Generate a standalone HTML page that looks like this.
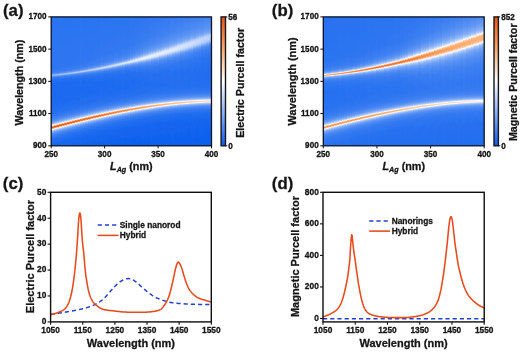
<!DOCTYPE html>
<html><head><meta charset="utf-8"><title>Purcell factor figure</title>
<style>
html,body{margin:0;padding:0;background:#fff;}
svg{display:block;}
text{font-family:'Liberation Sans', sans-serif;font-weight:bold;fill:#141414;stroke:#141414;stroke-width:0.28px;}
</style></head><body>
<svg width="520" height="352" viewBox="0 0 520 352">
<rect width="520" height="352" fill="#ffffff"/>
<defs>
<filter id="soft" x="0" y="0" width="100%" height="100%" filterUnits="userSpaceOnUse"><feGaussianBlur stdDeviation="0.35"/></filter>
<linearGradient id="a0" x1="0" y1="0" x2="0" y2="1"><stop offset="0" stop-color="#2a73f0"/><stop offset="0.4034" stop-color="#2e76f1"/><stop offset="0.4267" stop-color="#367bf1"/><stop offset="0.4383" stop-color="#4786f2"/><stop offset="0.4422" stop-color="#548ef3"/><stop offset="0.4461" stop-color="#689cf5"/><stop offset="0.45" stop-color="#8ab2f7"/><stop offset="0.4538" stop-color="#99bcf8"/><stop offset="0.4616" stop-color="#5a93f4"/><stop offset="0.4655" stop-color="#4887f2"/><stop offset="0.4732" stop-color="#357af1"/><stop offset="0.4888" stop-color="#246ff0"/><stop offset="0.5275" stop-color="#1a69ef"/><stop offset="0.6866" stop-color="#1d6aef"/><stop offset="0.7564" stop-color="#2972f0"/><stop offset="0.7874" stop-color="#3b7ef1"/><stop offset="0.8068" stop-color="#558ff3"/><stop offset="0.8185" stop-color="#72a2f5"/><stop offset="0.8262" stop-color="#90b6f7"/><stop offset="0.8301" stop-color="#a4c3f9"/><stop offset="0.834" stop-color="#bed4fa"/><stop offset="0.8379" stop-color="#dee9fd"/><stop offset="0.8417" stop-color="#fff8f2"/><stop offset="0.8456" stop-color="#fdd2ad"/><stop offset="0.8495" stop-color="#f89c5f"/><stop offset="0.8534" stop-color="#eb6726"/><stop offset="0.8573" stop-color="#e65414"/><stop offset="0.8611" stop-color="#ec6727"/><stop offset="0.865" stop-color="#f89e60"/><stop offset="0.8689" stop-color="#fdd4af"/><stop offset="0.8728" stop-color="#fffaf6"/><stop offset="0.8766" stop-color="#dbe8fd"/><stop offset="0.8805" stop-color="#bad2fa"/><stop offset="0.8844" stop-color="#a1c1f8"/><stop offset="0.8922" stop-color="#7ba8f6"/><stop offset="0.9038" stop-color="#5891f3"/><stop offset="0.9193" stop-color="#3d80f2"/><stop offset="0.9465" stop-color="#2771f0"/><stop offset="0.9969" stop-color="#1767ef"/></linearGradient>
<linearGradient id="a1" x1="0" y1="0" x2="0" y2="1"><stop offset="0" stop-color="#2a73f0"/><stop offset="0.3995" stop-color="#2f76f1"/><stop offset="0.4228" stop-color="#367bf1"/><stop offset="0.4344" stop-color="#4585f2"/><stop offset="0.4383" stop-color="#508cf3"/><stop offset="0.4422" stop-color="#6097f4"/><stop offset="0.45" stop-color="#9cbef8"/><stop offset="0.4538" stop-color="#8eb5f7"/><stop offset="0.4577" stop-color="#6b9ef5"/><stop offset="0.4616" stop-color="#538ef3"/><stop offset="0.4694" stop-color="#3a7ef1"/><stop offset="0.481" stop-color="#2a73f0"/><stop offset="0.5081" stop-color="#1d6bef"/><stop offset="0.6129" stop-color="#1968ef"/><stop offset="0.7292" stop-color="#236ef0"/><stop offset="0.7719" stop-color="#3379f1"/><stop offset="0.7952" stop-color="#4b88f2"/><stop offset="0.8068" stop-color="#6197f4"/><stop offset="0.8185" stop-color="#85aff7"/><stop offset="0.8262" stop-color="#adc9f9"/><stop offset="0.8301" stop-color="#c9dcfb"/><stop offset="0.834" stop-color="#edf3fe"/><stop offset="0.8379" stop-color="#feebda"/><stop offset="0.8417" stop-color="#fbbf8e"/><stop offset="0.8456" stop-color="#f48646"/><stop offset="0.8495" stop-color="#e75919"/><stop offset="0.8534" stop-color="#e65514"/><stop offset="0.8573" stop-color="#f27c3b"/><stop offset="0.8611" stop-color="#fbb680"/><stop offset="0.865" stop-color="#fee5cf"/><stop offset="0.8689" stop-color="#f3f7fe"/><stop offset="0.8728" stop-color="#ccdefb"/><stop offset="0.8766" stop-color="#afcaf9"/><stop offset="0.8844" stop-color="#84aef6"/><stop offset="0.896" stop-color="#5d95f4"/><stop offset="0.9116" stop-color="#4082f2"/><stop offset="0.9348" stop-color="#2a73f0"/><stop offset="0.9814" stop-color="#1968ef"/><stop offset="0.9969" stop-color="#1666ef"/></linearGradient>
<linearGradient id="a2" x1="0" y1="0" x2="0" y2="1"><stop offset="0" stop-color="#2a73f0"/><stop offset="0.3995" stop-color="#2f76f1"/><stop offset="0.4228" stop-color="#377cf1"/><stop offset="0.4344" stop-color="#4988f2"/><stop offset="0.4383" stop-color="#5790f3"/><stop offset="0.4422" stop-color="#6d9ff5"/><stop offset="0.4461" stop-color="#91b7f7"/><stop offset="0.45" stop-color="#9dbff8"/><stop offset="0.4538" stop-color="#79a7f6"/><stop offset="0.4577" stop-color="#5b93f4"/><stop offset="0.4616" stop-color="#4987f2"/><stop offset="0.4694" stop-color="#357af1"/><stop offset="0.4849" stop-color="#2570f0"/><stop offset="0.5237" stop-color="#1b69ef"/><stop offset="0.6788" stop-color="#1d6aef"/><stop offset="0.7486" stop-color="#2a73f0"/><stop offset="0.7797" stop-color="#3e80f2"/><stop offset="0.7952" stop-color="#538ef3"/><stop offset="0.8068" stop-color="#6fa0f5"/><stop offset="0.8146" stop-color="#8bb3f7"/><stop offset="0.8223" stop-color="#b7cffa"/><stop offset="0.8262" stop-color="#d5e4fc"/><stop offset="0.8301" stop-color="#fdfeff"/><stop offset="0.834" stop-color="#fdddbf"/><stop offset="0.8379" stop-color="#faaa6e"/><stop offset="0.8417" stop-color="#ef7232"/><stop offset="0.8456" stop-color="#e65414"/><stop offset="0.8495" stop-color="#ea6121"/><stop offset="0.8534" stop-color="#f69455"/><stop offset="0.8573" stop-color="#fccba2"/><stop offset="0.8611" stop-color="#fef4eb"/><stop offset="0.865" stop-color="#e2ecfd"/><stop offset="0.8689" stop-color="#bfd5fb"/><stop offset="0.8728" stop-color="#a4c3f9"/><stop offset="0.8805" stop-color="#7eaaf6"/><stop offset="0.8922" stop-color="#5992f4"/><stop offset="0.9077" stop-color="#3e80f2"/><stop offset="0.9348" stop-color="#2771f0"/><stop offset="0.9891" stop-color="#1766ef"/><stop offset="0.9969" stop-color="#1666ef"/></linearGradient>
<linearGradient id="a3" x1="0" y1="0" x2="0" y2="1"><stop offset="0" stop-color="#2a73f0"/><stop offset="0.3879" stop-color="#2f76f1"/><stop offset="0.4151" stop-color="#367bf1"/><stop offset="0.4267" stop-color="#4283f2"/><stop offset="0.4344" stop-color="#5590f3"/><stop offset="0.4383" stop-color="#689cf5"/><stop offset="0.4461" stop-color="#a3c3f9"/><stop offset="0.45" stop-color="#90b6f7"/><stop offset="0.4538" stop-color="#6c9ff5"/><stop offset="0.4577" stop-color="#558ff3"/><stop offset="0.4655" stop-color="#3c7ff1"/><stop offset="0.4771" stop-color="#2b74f0"/><stop offset="0.5043" stop-color="#1e6bef"/><stop offset="0.6012" stop-color="#1a68ef"/><stop offset="0.7176" stop-color="#236ef0"/><stop offset="0.7603" stop-color="#3379f1"/><stop offset="0.7836" stop-color="#4987f2"/><stop offset="0.7991" stop-color="#689cf4"/><stop offset="0.8068" stop-color="#81acf6"/><stop offset="0.8146" stop-color="#a7c5f9"/><stop offset="0.8185" stop-color="#c1d6fb"/><stop offset="0.8223" stop-color="#e3ecfd"/><stop offset="0.8262" stop-color="#fef4eb"/><stop offset="0.8301" stop-color="#fccca3"/><stop offset="0.834" stop-color="#f69557"/><stop offset="0.8379" stop-color="#ea6323"/><stop offset="0.8417" stop-color="#e65414"/><stop offset="0.8456" stop-color="#ef7332"/><stop offset="0.8495" stop-color="#faab6f"/><stop offset="0.8534" stop-color="#fddec1"/><stop offset="0.8573" stop-color="#fbfdff"/><stop offset="0.8611" stop-color="#d3e2fc"/><stop offset="0.865" stop-color="#b4cdfa"/><stop offset="0.8728" stop-color="#88b0f7"/><stop offset="0.8805" stop-color="#6a9df5"/><stop offset="0.8922" stop-color="#4e8bf3"/><stop offset="0.9116" stop-color="#3479f1"/><stop offset="0.9465" stop-color="#206cef"/><stop offset="0.9969" stop-color="#1565ef"/></linearGradient>
<linearGradient id="a4" x1="0" y1="0" x2="0" y2="1"><stop offset="0" stop-color="#2a73f0"/><stop offset="0.3879" stop-color="#2f76f1"/><stop offset="0.4151" stop-color="#377cf1"/><stop offset="0.4267" stop-color="#4686f2"/><stop offset="0.4306" stop-color="#508cf3"/><stop offset="0.4344" stop-color="#6096f4"/><stop offset="0.4383" stop-color="#7aa8f6"/><stop offset="0.4422" stop-color="#9ebff8"/><stop offset="0.4461" stop-color="#9fc0f8"/><stop offset="0.45" stop-color="#7aa7f6"/><stop offset="0.4538" stop-color="#5d95f4"/><stop offset="0.4577" stop-color="#4b89f3"/><stop offset="0.4655" stop-color="#377cf1"/><stop offset="0.481" stop-color="#2670f0"/><stop offset="0.5198" stop-color="#1b69ef"/><stop offset="0.6672" stop-color="#1d6aef"/><stop offset="0.737" stop-color="#2a73f0"/><stop offset="0.768" stop-color="#3d7ff2"/><stop offset="0.7836" stop-color="#518df3"/><stop offset="0.7952" stop-color="#6b9ef5"/><stop offset="0.8029" stop-color="#86b0f7"/><stop offset="0.8107" stop-color="#afcaf9"/><stop offset="0.8146" stop-color="#ccddfb"/><stop offset="0.8185" stop-color="#f1f6fe"/><stop offset="0.8223" stop-color="#fee8d4"/><stop offset="0.8262" stop-color="#fbba87"/><stop offset="0.8301" stop-color="#f38141"/><stop offset="0.834" stop-color="#e75919"/><stop offset="0.8379" stop-color="#e85c1c"/><stop offset="0.8417" stop-color="#f48748"/><stop offset="0.8456" stop-color="#fbc091"/><stop offset="0.8495" stop-color="#feeddd"/><stop offset="0.8534" stop-color="#eaf1fe"/><stop offset="0.8573" stop-color="#c6d9fb"/><stop offset="0.8611" stop-color="#a9c7f9"/><stop offset="0.8689" stop-color="#81acf6"/><stop offset="0.8805" stop-color="#5b93f4"/><stop offset="0.896" stop-color="#3f81f2"/><stop offset="0.9193" stop-color="#2a73f0"/><stop offset="0.9659" stop-color="#1968ef"/><stop offset="0.9969" stop-color="#1465ef"/></linearGradient>
<linearGradient id="a5" x1="0" y1="0" x2="0" y2="1"><stop offset="0" stop-color="#2a73f0"/><stop offset="0.384" stop-color="#2f76f1"/><stop offset="0.4112" stop-color="#377cf1"/><stop offset="0.4228" stop-color="#4484f2"/><stop offset="0.4306" stop-color="#5a93f4"/><stop offset="0.4344" stop-color="#71a1f5"/><stop offset="0.4383" stop-color="#94b8f8"/><stop offset="0.4422" stop-color="#a9c6f9"/><stop offset="0.45" stop-color="#679bf4"/><stop offset="0.4538" stop-color="#528df3"/><stop offset="0.4616" stop-color="#3b7ef1"/><stop offset="0.4771" stop-color="#2771f0"/><stop offset="0.512" stop-color="#1c6aef"/><stop offset="0.6478" stop-color="#1c6aef"/><stop offset="0.7254" stop-color="#2771f0"/><stop offset="0.7603" stop-color="#3a7ef1"/><stop offset="0.7797" stop-color="#538ef3"/><stop offset="0.7913" stop-color="#6fa0f5"/><stop offset="0.7991" stop-color="#8cb3f7"/><stop offset="0.8068" stop-color="#b8d0fa"/><stop offset="0.8107" stop-color="#d7e5fc"/><stop offset="0.8146" stop-color="#fffefe"/><stop offset="0.8185" stop-color="#fddbbb"/><stop offset="0.8223" stop-color="#faa76b"/><stop offset="0.8262" stop-color="#ee7130"/><stop offset="0.8301" stop-color="#e65515"/><stop offset="0.834" stop-color="#ec6929"/><stop offset="0.8379" stop-color="#f89d60"/><stop offset="0.8417" stop-color="#fdd4af"/><stop offset="0.8456" stop-color="#fffaf5"/><stop offset="0.8495" stop-color="#dbe7fd"/><stop offset="0.8534" stop-color="#bad2fa"/><stop offset="0.8573" stop-color="#a0c1f8"/><stop offset="0.865" stop-color="#7ba8f6"/><stop offset="0.8766" stop-color="#5891f3"/><stop offset="0.8922" stop-color="#3d80f2"/><stop offset="0.9193" stop-color="#2771f0"/><stop offset="0.9736" stop-color="#1766ef"/><stop offset="0.9969" stop-color="#1364ef"/></linearGradient>
<linearGradient id="a6" x1="0" y1="0" x2="0" y2="1"><stop offset="0" stop-color="#2a73f0"/><stop offset="0.3724" stop-color="#2f76f1"/><stop offset="0.4073" stop-color="#397df1"/><stop offset="0.4189" stop-color="#4685f2"/><stop offset="0.4267" stop-color="#5a93f4"/><stop offset="0.4306" stop-color="#6d9ff5"/><stop offset="0.4383" stop-color="#abc8f9"/><stop offset="0.4422" stop-color="#9cbef8"/><stop offset="0.4461" stop-color="#77a6f6"/><stop offset="0.45" stop-color="#5d95f4"/><stop offset="0.4538" stop-color="#4d8af3"/><stop offset="0.4616" stop-color="#397df1"/><stop offset="0.4771" stop-color="#2771f0"/><stop offset="0.512" stop-color="#1c6aef"/><stop offset="0.6439" stop-color="#1c6aef"/><stop offset="0.7215" stop-color="#2872f0"/><stop offset="0.7525" stop-color="#387cf1"/><stop offset="0.7719" stop-color="#4f8bf3"/><stop offset="0.7836" stop-color="#689bf4"/><stop offset="0.7913" stop-color="#81acf6"/><stop offset="0.7991" stop-color="#a7c5f9"/><stop offset="0.8029" stop-color="#c1d6fb"/><stop offset="0.8068" stop-color="#e3edfd"/><stop offset="0.8107" stop-color="#fef4ea"/><stop offset="0.8146" stop-color="#fccba2"/><stop offset="0.8185" stop-color="#f69456"/><stop offset="0.8223" stop-color="#eb6424"/><stop offset="0.8262" stop-color="#e75818"/><stop offset="0.8301" stop-color="#f17a39"/><stop offset="0.834" stop-color="#fbb27b"/><stop offset="0.8379" stop-color="#fee3cb"/><stop offset="0.8417" stop-color="#f5f9fe"/><stop offset="0.8456" stop-color="#cedffc"/><stop offset="0.8495" stop-color="#b0cbf9"/><stop offset="0.8573" stop-color="#85aff7"/><stop offset="0.8689" stop-color="#5d95f4"/><stop offset="0.8844" stop-color="#4082f2"/><stop offset="0.9077" stop-color="#2a73f0"/><stop offset="0.9542" stop-color="#1968ef"/><stop offset="0.9969" stop-color="#1364ef"/></linearGradient>
<linearGradient id="a7" x1="0" y1="0" x2="0" y2="1"><stop offset="0" stop-color="#2a73f0"/><stop offset="0.3763" stop-color="#2f77f1"/><stop offset="0.4073" stop-color="#397df1"/><stop offset="0.4189" stop-color="#4988f2"/><stop offset="0.4228" stop-color="#548ef3"/><stop offset="0.4267" stop-color="#6499f4"/><stop offset="0.4306" stop-color="#80acf6"/><stop offset="0.4344" stop-color="#a6c4f9"/><stop offset="0.4383" stop-color="#a7c5f9"/><stop offset="0.4422" stop-color="#81acf6"/><stop offset="0.4461" stop-color="#6298f4"/><stop offset="0.45" stop-color="#4f8bf3"/><stop offset="0.4577" stop-color="#3a7df1"/><stop offset="0.4732" stop-color="#2771f0"/><stop offset="0.5081" stop-color="#1c6aef"/><stop offset="0.64" stop-color="#1c6aef"/><stop offset="0.7176" stop-color="#2872f0"/><stop offset="0.7486" stop-color="#397df1"/><stop offset="0.768" stop-color="#518cf3"/><stop offset="0.7797" stop-color="#6b9ef5"/><stop offset="0.7874" stop-color="#86aff7"/><stop offset="0.7952" stop-color="#aecaf9"/><stop offset="0.7991" stop-color="#cbddfb"/><stop offset="0.8029" stop-color="#f0f5fe"/><stop offset="0.8068" stop-color="#fee9d5"/><stop offset="0.8107" stop-color="#fbbb88"/><stop offset="0.8146" stop-color="#f38342"/><stop offset="0.8185" stop-color="#e85c1c"/><stop offset="0.8223" stop-color="#ea6020"/><stop offset="0.8262" stop-color="#f58d4e"/><stop offset="0.8301" stop-color="#fcc598"/><stop offset="0.834" stop-color="#fef0e3"/><stop offset="0.8379" stop-color="#e6effd"/><stop offset="0.8417" stop-color="#c2d7fb"/><stop offset="0.8456" stop-color="#a7c5f9"/><stop offset="0.8534" stop-color="#7fabf6"/><stop offset="0.865" stop-color="#5a93f4"/><stop offset="0.8805" stop-color="#3e80f2"/><stop offset="0.9038" stop-color="#2973f0"/><stop offset="0.9503" stop-color="#1968ef"/><stop offset="0.9969" stop-color="#1264ef"/></linearGradient>
<linearGradient id="a8" x1="0" y1="0" x2="0" y2="1"><stop offset="0" stop-color="#2a73f0"/><stop offset="0.3646" stop-color="#2f77f1"/><stop offset="0.3995" stop-color="#387cf1"/><stop offset="0.4112" stop-color="#4384f2"/><stop offset="0.4189" stop-color="#548ff3"/><stop offset="0.4228" stop-color="#6499f4"/><stop offset="0.4267" stop-color="#7da9f6"/><stop offset="0.4306" stop-color="#a1c1f8"/><stop offset="0.4344" stop-color="#b0cbfa"/><stop offset="0.4422" stop-color="#6ea0f5"/><stop offset="0.4461" stop-color="#5891f3"/><stop offset="0.4538" stop-color="#3f81f2"/><stop offset="0.4655" stop-color="#2d75f0"/><stop offset="0.4926" stop-color="#1f6cef"/><stop offset="0.5818" stop-color="#1a69ef"/><stop offset="0.6943" stop-color="#236ff0"/><stop offset="0.737" stop-color="#347af1"/><stop offset="0.7603" stop-color="#4c89f3"/><stop offset="0.7719" stop-color="#6399f4"/><stop offset="0.7797" stop-color="#7ba8f6"/><stop offset="0.7874" stop-color="#9ebff8"/><stop offset="0.7913" stop-color="#b6cffa"/><stop offset="0.7952" stop-color="#d5e3fc"/><stop offset="0.7991" stop-color="#fdfeff"/><stop offset="0.8029" stop-color="#fdddbf"/><stop offset="0.8068" stop-color="#faaa6e"/><stop offset="0.8107" stop-color="#ef7433"/><stop offset="0.8146" stop-color="#e85919"/><stop offset="0.8185" stop-color="#ed6d2c"/><stop offset="0.8223" stop-color="#f8a164"/><stop offset="0.8262" stop-color="#fdd6b3"/><stop offset="0.8301" stop-color="#fffcf9"/><stop offset="0.834" stop-color="#d9e6fc"/><stop offset="0.8379" stop-color="#b8d0fa"/><stop offset="0.8417" stop-color="#9ec0f8"/><stop offset="0.8495" stop-color="#79a7f6"/><stop offset="0.8611" stop-color="#5790f3"/><stop offset="0.8766" stop-color="#3d7ff2"/><stop offset="0.9038" stop-color="#2671f0"/><stop offset="0.9581" stop-color="#1666ef"/><stop offset="0.9969" stop-color="#1263ef"/></linearGradient>
<linearGradient id="a9" x1="0" y1="0" x2="0" y2="1"><stop offset="0" stop-color="#2a73f0"/><stop offset="0.3607" stop-color="#3077f1"/><stop offset="0.3957" stop-color="#387cf1"/><stop offset="0.4073" stop-color="#4384f2"/><stop offset="0.4151" stop-color="#538ef3"/><stop offset="0.4189" stop-color="#6197f4"/><stop offset="0.4228" stop-color="#78a6f6"/><stop offset="0.4267" stop-color="#9abdf8"/><stop offset="0.4306" stop-color="#b4cefa"/><stop offset="0.4344" stop-color="#9ebff8"/><stop offset="0.4383" stop-color="#78a7f6"/><stop offset="0.4422" stop-color="#5f96f4"/><stop offset="0.4461" stop-color="#4e8bf3"/><stop offset="0.4538" stop-color="#3a7ef1"/><stop offset="0.4694" stop-color="#2872f0"/><stop offset="0.5043" stop-color="#1d6aef"/><stop offset="0.6323" stop-color="#1c6aef"/><stop offset="0.706" stop-color="#2871f0"/><stop offset="0.7409" stop-color="#3b7ef1"/><stop offset="0.7603" stop-color="#558ff3"/><stop offset="0.7719" stop-color="#71a2f5"/><stop offset="0.7797" stop-color="#90b6f7"/><stop offset="0.7836" stop-color="#a4c3f9"/><stop offset="0.7874" stop-color="#bed4fa"/><stop offset="0.7913" stop-color="#dfeafd"/><stop offset="0.7952" stop-color="#fff7f0"/><stop offset="0.7991" stop-color="#fdd0a9"/><stop offset="0.8029" stop-color="#f79a5c"/><stop offset="0.8068" stop-color="#ec6928"/><stop offset="0.8107" stop-color="#e85b1b"/><stop offset="0.8146" stop-color="#f27b3a"/><stop offset="0.8185" stop-color="#fbb37c"/><stop offset="0.8223" stop-color="#fee4cc"/><stop offset="0.8262" stop-color="#f4f8fe"/><stop offset="0.8301" stop-color="#cddefc"/><stop offset="0.834" stop-color="#afcaf9"/><stop offset="0.8417" stop-color="#84aef6"/><stop offset="0.8534" stop-color="#5d94f4"/><stop offset="0.8689" stop-color="#4081f2"/><stop offset="0.8922" stop-color="#2a73f0"/><stop offset="0.9387" stop-color="#1968ef"/><stop offset="0.9969" stop-color="#1263ef"/></linearGradient>
<linearGradient id="a10" x1="0" y1="0" x2="0" y2="1"><stop offset="0" stop-color="#2a73f0"/><stop offset="0.3607" stop-color="#3077f1"/><stop offset="0.3957" stop-color="#3a7df1"/><stop offset="0.4073" stop-color="#4786f2"/><stop offset="0.4151" stop-color="#5d94f4"/><stop offset="0.4189" stop-color="#71a2f5"/><stop offset="0.4267" stop-color="#b5cefa"/><stop offset="0.4306" stop-color="#a8c6f9"/><stop offset="0.4344" stop-color="#7fabf6"/><stop offset="0.4383" stop-color="#6398f4"/><stop offset="0.4422" stop-color="#508cf3"/><stop offset="0.45" stop-color="#3b7ef1"/><stop offset="0.4655" stop-color="#2872f0"/><stop offset="0.5004" stop-color="#1d6aef"/><stop offset="0.6284" stop-color="#1c6aef"/><stop offset="0.7021" stop-color="#2872f0"/><stop offset="0.7331" stop-color="#387cf1"/><stop offset="0.7525" stop-color="#508cf3"/><stop offset="0.7642" stop-color="#699cf5"/><stop offset="0.7719" stop-color="#83aef6"/><stop offset="0.7797" stop-color="#aac7f9"/><stop offset="0.7836" stop-color="#c6dafb"/><stop offset="0.7874" stop-color="#eaf1fe"/><stop offset="0.7913" stop-color="#feeede"/><stop offset="0.7952" stop-color="#fcc293"/><stop offset="0.7991" stop-color="#f48b4b"/><stop offset="0.8029" stop-color="#ea6121"/><stop offset="0.8068" stop-color="#ea6222"/><stop offset="0.8107" stop-color="#f58c4d"/><stop offset="0.8146" stop-color="#fcc496"/><stop offset="0.8185" stop-color="#fef0e2"/><stop offset="0.8223" stop-color="#e7effd"/><stop offset="0.8262" stop-color="#c3d7fb"/><stop offset="0.8301" stop-color="#a7c5f9"/><stop offset="0.8379" stop-color="#7fabf6"/><stop offset="0.8495" stop-color="#5a92f4"/><stop offset="0.865" stop-color="#3e80f2"/><stop offset="0.8883" stop-color="#2973f0"/><stop offset="0.9348" stop-color="#1968ef"/><stop offset="0.9969" stop-color="#1163ef"/></linearGradient>
<linearGradient id="a11" x1="0" y1="0" x2="0" y2="1"><stop offset="0" stop-color="#2a73f0"/><stop offset="0.3491" stop-color="#3077f1"/><stop offset="0.3879" stop-color="#3a7df1"/><stop offset="0.4034" stop-color="#4b88f2"/><stop offset="0.4112" stop-color="#6096f4"/><stop offset="0.4151" stop-color="#73a3f5"/><stop offset="0.4228" stop-color="#b4cefa"/><stop offset="0.4267" stop-color="#b2cdfa"/><stop offset="0.4306" stop-color="#8eb5f7"/><stop offset="0.4344" stop-color="#6ea0f5"/><stop offset="0.4383" stop-color="#5992f4"/><stop offset="0.4461" stop-color="#4182f2"/><stop offset="0.4577" stop-color="#2f76f1"/><stop offset="0.481" stop-color="#216df0"/><stop offset="0.5508" stop-color="#1a69ef"/><stop offset="0.6711" stop-color="#226ef0"/><stop offset="0.7176" stop-color="#3178f1"/><stop offset="0.7409" stop-color="#4585f2"/><stop offset="0.7564" stop-color="#6197f4"/><stop offset="0.768" stop-color="#87b0f7"/><stop offset="0.7758" stop-color="#b1ccfa"/><stop offset="0.7797" stop-color="#cedffc"/><stop offset="0.7836" stop-color="#f5f8fe"/><stop offset="0.7874" stop-color="#fee4cc"/><stop offset="0.7913" stop-color="#fbb47d"/><stop offset="0.7952" stop-color="#f27d3c"/><stop offset="0.7991" stop-color="#e95e1e"/><stop offset="0.8029" stop-color="#ed6c2b"/><stop offset="0.8068" stop-color="#f89d60"/><stop offset="0.8107" stop-color="#fdd3ae"/><stop offset="0.8146" stop-color="#fffaf5"/><stop offset="0.8185" stop-color="#dbe7fc"/><stop offset="0.8223" stop-color="#b9d1fa"/><stop offset="0.8262" stop-color="#9fc0f8"/><stop offset="0.834" stop-color="#7aa8f6"/><stop offset="0.8456" stop-color="#5791f3"/><stop offset="0.8611" stop-color="#3d7ff2"/><stop offset="0.8883" stop-color="#2671f0"/><stop offset="0.9426" stop-color="#1666ef"/><stop offset="0.9969" stop-color="#1163ee"/></linearGradient>
<linearGradient id="a12" x1="0" y1="0" x2="0" y2="1"><stop offset="0" stop-color="#2a73f0"/><stop offset="0.3491" stop-color="#3077f1"/><stop offset="0.384" stop-color="#387cf1"/><stop offset="0.3995" stop-color="#4887f2"/><stop offset="0.4073" stop-color="#5c94f4"/><stop offset="0.4112" stop-color="#6ea0f5"/><stop offset="0.4151" stop-color="#8bb3f7"/><stop offset="0.4189" stop-color="#b1ccfa"/><stop offset="0.4228" stop-color="#b9d1fa"/><stop offset="0.4306" stop-color="#71a2f5"/><stop offset="0.4344" stop-color="#5b93f4"/><stop offset="0.4422" stop-color="#4182f2"/><stop offset="0.4538" stop-color="#2f76f1"/><stop offset="0.4771" stop-color="#216df0"/><stop offset="0.5469" stop-color="#1a69ef"/><stop offset="0.6672" stop-color="#226ef0"/><stop offset="0.7137" stop-color="#3178f1"/><stop offset="0.737" stop-color="#4786f2"/><stop offset="0.7525" stop-color="#6499f4"/><stop offset="0.7603" stop-color="#7ca9f6"/><stop offset="0.768" stop-color="#9fc0f8"/><stop offset="0.7719" stop-color="#b7d0fa"/><stop offset="0.7758" stop-color="#d7e5fc"/><stop offset="0.7797" stop-color="#fffefd"/><stop offset="0.7836" stop-color="#fddab9"/><stop offset="0.7874" stop-color="#f9a66a"/><stop offset="0.7913" stop-color="#ef7332"/><stop offset="0.7952" stop-color="#e95e1e"/><stop offset="0.7991" stop-color="#f07837"/><stop offset="0.8029" stop-color="#faad73"/><stop offset="0.8068" stop-color="#fde0c4"/><stop offset="0.8107" stop-color="#f9fbff"/><stop offset="0.8146" stop-color="#d0e0fc"/><stop offset="0.8185" stop-color="#b1ccfa"/><stop offset="0.8262" stop-color="#86aff7"/><stop offset="0.834" stop-color="#699cf5"/><stop offset="0.8456" stop-color="#4d8af3"/><stop offset="0.865" stop-color="#3379f1"/><stop offset="0.8999" stop-color="#1f6cef"/><stop offset="0.9775" stop-color="#1263ef"/><stop offset="0.9969" stop-color="#1162ee"/></linearGradient>
<linearGradient id="a13" x1="0" y1="0" x2="0" y2="1"><stop offset="0" stop-color="#2a73f0"/><stop offset="0.3413" stop-color="#3077f1"/><stop offset="0.3801" stop-color="#3a7df1"/><stop offset="0.3957" stop-color="#4a88f2"/><stop offset="0.4034" stop-color="#5e95f4"/><stop offset="0.4073" stop-color="#6fa0f5"/><stop offset="0.4112" stop-color="#8bb3f7"/><stop offset="0.4151" stop-color="#b0cbfa"/><stop offset="0.4189" stop-color="#bed4fb"/><stop offset="0.4267" stop-color="#7aa8f6"/><stop offset="0.4306" stop-color="#6197f4"/><stop offset="0.4383" stop-color="#4685f2"/><stop offset="0.45" stop-color="#3178f1"/><stop offset="0.4732" stop-color="#226ef0"/><stop offset="0.5392" stop-color="#1b69ef"/><stop offset="0.6594" stop-color="#216df0"/><stop offset="0.706" stop-color="#3077f1"/><stop offset="0.7292" stop-color="#4383f2"/><stop offset="0.7448" stop-color="#5c94f4"/><stop offset="0.7564" stop-color="#7fabf6"/><stop offset="0.7642" stop-color="#a4c3f9"/><stop offset="0.768" stop-color="#bed4fa"/><stop offset="0.7719" stop-color="#dfeafd"/><stop offset="0.7758" stop-color="#fff7ef"/><stop offset="0.7797" stop-color="#fccfa8"/><stop offset="0.7836" stop-color="#f7995b"/><stop offset="0.7874" stop-color="#ed6b2a"/><stop offset="0.7913" stop-color="#ea6221"/><stop offset="0.7952" stop-color="#f38545"/><stop offset="0.7991" stop-color="#fbbc8a"/><stop offset="0.8029" stop-color="#feead8"/><stop offset="0.8068" stop-color="#edf3fe"/><stop offset="0.8107" stop-color="#c7dafb"/><stop offset="0.8146" stop-color="#aac7f9"/><stop offset="0.8223" stop-color="#81acf6"/><stop offset="0.834" stop-color="#5b93f4"/><stop offset="0.8495" stop-color="#3f81f2"/><stop offset="0.8728" stop-color="#2973f0"/><stop offset="0.9193" stop-color="#1968ef"/><stop offset="0.9969" stop-color="#1062ee"/></linearGradient>
<linearGradient id="a14" x1="0" y1="0" x2="0" y2="1"><stop offset="0" stop-color="#2a73f0"/><stop offset="0.3297" stop-color="#3077f1"/><stop offset="0.3724" stop-color="#3a7df1"/><stop offset="0.3879" stop-color="#4786f2"/><stop offset="0.3957" stop-color="#5690f3"/><stop offset="0.3995" stop-color="#6197f4"/><stop offset="0.4034" stop-color="#73a3f5"/><stop offset="0.4073" stop-color="#8eb4f7"/><stop offset="0.4112" stop-color="#b1ccfa"/><stop offset="0.4151" stop-color="#c2d7fb"/><stop offset="0.4189" stop-color="#a8c6f9"/><stop offset="0.4228" stop-color="#84aef6"/><stop offset="0.4267" stop-color="#6a9df5"/><stop offset="0.4306" stop-color="#5891f3"/><stop offset="0.4383" stop-color="#4283f2"/><stop offset="0.4538" stop-color="#2d75f0"/><stop offset="0.4849" stop-color="#1f6cef"/><stop offset="0.5857" stop-color="#1c6aef"/><stop offset="0.6749" stop-color="#2670f0"/><stop offset="0.7099" stop-color="#357af1"/><stop offset="0.7292" stop-color="#4987f2"/><stop offset="0.7409" stop-color="#5e95f4"/><stop offset="0.7525" stop-color="#82adf6"/><stop offset="0.7603" stop-color="#a9c6f9"/><stop offset="0.7642" stop-color="#c4d8fb"/><stop offset="0.768" stop-color="#e8f0fd"/><stop offset="0.7719" stop-color="#feefe1"/><stop offset="0.7758" stop-color="#fcc496"/><stop offset="0.7797" stop-color="#f58d4e"/><stop offset="0.7836" stop-color="#eb6625"/><stop offset="0.7874" stop-color="#ec6827"/><stop offset="0.7913" stop-color="#f69354"/><stop offset="0.7952" stop-color="#fcc99f"/><stop offset="0.7991" stop-color="#fef3e9"/><stop offset="0.8029" stop-color="#e2ecfd"/><stop offset="0.8068" stop-color="#bfd5fb"/><stop offset="0.8107" stop-color="#a4c3f9"/><stop offset="0.8185" stop-color="#7da9f6"/><stop offset="0.8301" stop-color="#5892f3"/><stop offset="0.8456" stop-color="#3d80f2"/><stop offset="0.8728" stop-color="#2771f0"/><stop offset="0.9271" stop-color="#1666ef"/><stop offset="0.9969" stop-color="#1062ee"/></linearGradient>
<linearGradient id="a15" x1="0" y1="0" x2="0" y2="1"><stop offset="0" stop-color="#2a73f0"/><stop offset="0.3297" stop-color="#3077f1"/><stop offset="0.3724" stop-color="#3b7ef1"/><stop offset="0.3879" stop-color="#4b89f3"/><stop offset="0.3957" stop-color="#5f96f4"/><stop offset="0.3995" stop-color="#70a1f5"/><stop offset="0.4034" stop-color="#8ab2f7"/><stop offset="0.4073" stop-color="#afcaf9"/><stop offset="0.4112" stop-color="#c5d9fb"/><stop offset="0.4151" stop-color="#acc9f9"/><stop offset="0.4189" stop-color="#86aff7"/><stop offset="0.4228" stop-color="#6a9df5"/><stop offset="0.4267" stop-color="#5891f3"/><stop offset="0.4344" stop-color="#4182f2"/><stop offset="0.45" stop-color="#2c75f0"/><stop offset="0.481" stop-color="#1f6cef"/><stop offset="0.5818" stop-color="#1b69ef"/><stop offset="0.6711" stop-color="#2670f0"/><stop offset="0.706" stop-color="#367bf1"/><stop offset="0.7254" stop-color="#4a88f2"/><stop offset="0.737" stop-color="#6096f4"/><stop offset="0.7486" stop-color="#85aff7"/><stop offset="0.7564" stop-color="#aecaf9"/><stop offset="0.7603" stop-color="#cbddfb"/><stop offset="0.7642" stop-color="#f0f5fe"/><stop offset="0.768" stop-color="#fee8d3"/><stop offset="0.7719" stop-color="#fbb986"/><stop offset="0.7758" stop-color="#f38343"/><stop offset="0.7797" stop-color="#ea6323"/><stop offset="0.7836" stop-color="#ee702f"/><stop offset="0.7874" stop-color="#f8a063"/><stop offset="0.7913" stop-color="#fdd5b2"/><stop offset="0.7952" stop-color="#fffcf9"/><stop offset="0.7991" stop-color="#d8e6fc"/><stop offset="0.8029" stop-color="#b7d0fa"/><stop offset="0.8068" stop-color="#9ebff8"/><stop offset="0.8146" stop-color="#79a7f6"/><stop offset="0.8262" stop-color="#5690f3"/><stop offset="0.8417" stop-color="#3c7ff1"/><stop offset="0.8689" stop-color="#2670f0"/><stop offset="0.9232" stop-color="#1666ef"/><stop offset="0.9969" stop-color="#1062ee"/></linearGradient>
<linearGradient id="a16" x1="0" y1="0" x2="0" y2="1"><stop offset="0" stop-color="#2a73f0"/><stop offset="0.3181" stop-color="#3178f1"/><stop offset="0.3646" stop-color="#3c7ff1"/><stop offset="0.3801" stop-color="#4a88f2"/><stop offset="0.3879" stop-color="#5992f3"/><stop offset="0.3918" stop-color="#659af4"/><stop offset="0.3957" stop-color="#76a5f6"/><stop offset="0.3995" stop-color="#90b6f7"/><stop offset="0.4034" stop-color="#b3cdfa"/><stop offset="0.4073" stop-color="#c8dbfb"/><stop offset="0.4112" stop-color="#b5cefa"/><stop offset="0.4151" stop-color="#90b6f7"/><stop offset="0.4189" stop-color="#74a3f5"/><stop offset="0.4228" stop-color="#6096f4"/><stop offset="0.4306" stop-color="#4786f2"/><stop offset="0.4422" stop-color="#347af1"/><stop offset="0.4655" stop-color="#246ff0"/><stop offset="0.5275" stop-color="#1c6aef"/><stop offset="0.6439" stop-color="#216df0"/><stop offset="0.6905" stop-color="#2f76f1"/><stop offset="0.7137" stop-color="#4182f2"/><stop offset="0.7292" stop-color="#5992f3"/><stop offset="0.7409" stop-color="#79a7f6"/><stop offset="0.7486" stop-color="#9bbdf8"/><stop offset="0.7525" stop-color="#b3cdfa"/><stop offset="0.7564" stop-color="#d1e1fc"/><stop offset="0.7603" stop-color="#f9fbff"/><stop offset="0.7642" stop-color="#fde0c6"/><stop offset="0.768" stop-color="#faaf76"/><stop offset="0.7719" stop-color="#f17b3a"/><stop offset="0.7758" stop-color="#ea6323"/><stop offset="0.7797" stop-color="#f17938"/><stop offset="0.7836" stop-color="#faad72"/><stop offset="0.7874" stop-color="#fddfc3"/><stop offset="0.7913" stop-color="#f9fbff"/><stop offset="0.7952" stop-color="#d0e0fc"/><stop offset="0.7991" stop-color="#b1ccfa"/><stop offset="0.8068" stop-color="#85aff7"/><stop offset="0.8146" stop-color="#689cf5"/><stop offset="0.8262" stop-color="#4c8af3"/><stop offset="0.8456" stop-color="#3379f1"/><stop offset="0.8805" stop-color="#1f6cef"/><stop offset="0.9581" stop-color="#1263ef"/><stop offset="0.9969" stop-color="#1062ee"/></linearGradient>
<linearGradient id="a17" x1="0" y1="0" x2="0" y2="1"><stop offset="0" stop-color="#2a73f0"/><stop offset="0.3103" stop-color="#3177f1"/><stop offset="0.3569" stop-color="#3a7ef1"/><stop offset="0.3763" stop-color="#4b89f2"/><stop offset="0.384" stop-color="#5a93f4"/><stop offset="0.3879" stop-color="#669bf4"/><stop offset="0.3918" stop-color="#78a6f6"/><stop offset="0.3957" stop-color="#92b7f7"/><stop offset="0.3995" stop-color="#b4cefa"/><stop offset="0.4034" stop-color="#cbddfb"/><stop offset="0.4073" stop-color="#b9d1fa"/><stop offset="0.4112" stop-color="#94b9f8"/><stop offset="0.4151" stop-color="#76a5f6"/><stop offset="0.4189" stop-color="#6298f4"/><stop offset="0.4267" stop-color="#4987f2"/><stop offset="0.4383" stop-color="#357af1"/><stop offset="0.4616" stop-color="#246ff0"/><stop offset="0.5198" stop-color="#1c6aef"/><stop offset="0.64" stop-color="#216df0"/><stop offset="0.6866" stop-color="#2f76f1"/><stop offset="0.7099" stop-color="#4283f2"/><stop offset="0.7254" stop-color="#5a93f4"/><stop offset="0.737" stop-color="#7ba8f6"/><stop offset="0.7448" stop-color="#9ec0f8"/><stop offset="0.7486" stop-color="#b7d0fa"/><stop offset="0.7525" stop-color="#d7e5fc"/><stop offset="0.7564" stop-color="#fffefd"/><stop offset="0.7603" stop-color="#fdd9b8"/><stop offset="0.7642" stop-color="#f9a669"/><stop offset="0.768" stop-color="#f07534"/><stop offset="0.7719" stop-color="#eb6525"/><stop offset="0.7758" stop-color="#f38242"/><stop offset="0.7797" stop-color="#fbb884"/><stop offset="0.7836" stop-color="#fee7d3"/><stop offset="0.7874" stop-color="#f0f5fe"/><stop offset="0.7913" stop-color="#c9dbfb"/><stop offset="0.7952" stop-color="#abc8f9"/><stop offset="0.8029" stop-color="#81adf6"/><stop offset="0.8146" stop-color="#5b93f4"/><stop offset="0.8301" stop-color="#3f81f2"/><stop offset="0.8534" stop-color="#2973f0"/><stop offset="0.8999" stop-color="#1968ef"/><stop offset="0.9969" stop-color="#0f62ee"/></linearGradient>
<linearGradient id="a18" x1="0" y1="0" x2="0" y2="1"><stop offset="0" stop-color="#2a73f0"/><stop offset="0.3064" stop-color="#3178f1"/><stop offset="0.353" stop-color="#3b7ef1"/><stop offset="0.3724" stop-color="#4b89f3"/><stop offset="0.3801" stop-color="#5b93f4"/><stop offset="0.384" stop-color="#679bf4"/><stop offset="0.3879" stop-color="#79a7f6"/><stop offset="0.3918" stop-color="#93b8f8"/><stop offset="0.3957" stop-color="#b6cffa"/><stop offset="0.3995" stop-color="#cedffc"/><stop offset="0.4034" stop-color="#bbd3fa"/><stop offset="0.4073" stop-color="#96baf8"/><stop offset="0.4112" stop-color="#78a6f6"/><stop offset="0.4151" stop-color="#6399f4"/><stop offset="0.4228" stop-color="#4988f2"/><stop offset="0.4344" stop-color="#357af1"/><stop offset="0.4577" stop-color="#2570f0"/><stop offset="0.5159" stop-color="#1c6aef"/><stop offset="0.6323" stop-color="#216df0"/><stop offset="0.6827" stop-color="#2f77f1"/><stop offset="0.706" stop-color="#4283f2"/><stop offset="0.7215" stop-color="#5b93f4"/><stop offset="0.7331" stop-color="#7daaf6"/><stop offset="0.7409" stop-color="#a2c2f9"/><stop offset="0.7448" stop-color="#bbd2fa"/><stop offset="0.7486" stop-color="#dce8fd"/><stop offset="0.7525" stop-color="#fff9f4"/><stop offset="0.7564" stop-color="#fdd2ad"/><stop offset="0.7603" stop-color="#f89e60"/><stop offset="0.7642" stop-color="#ee702f"/><stop offset="0.768" stop-color="#ec6828"/><stop offset="0.7719" stop-color="#f58c4d"/><stop offset="0.7758" stop-color="#fcc294"/><stop offset="0.7797" stop-color="#feefe0"/><stop offset="0.7836" stop-color="#e7effd"/><stop offset="0.7874" stop-color="#c3d7fb"/><stop offset="0.7913" stop-color="#a6c5f9"/><stop offset="0.7991" stop-color="#7eaaf6"/><stop offset="0.8107" stop-color="#5992f3"/><stop offset="0.8262" stop-color="#3e80f2"/><stop offset="0.8534" stop-color="#2771f0"/><stop offset="0.9077" stop-color="#1666ef"/><stop offset="0.9969" stop-color="#0f61ee"/></linearGradient>
<linearGradient id="a19" x1="0" y1="0" x2="0" y2="1"><stop offset="0" stop-color="#2b73f0"/><stop offset="0.2948" stop-color="#3178f1"/><stop offset="0.3452" stop-color="#3c7ff1"/><stop offset="0.3646" stop-color="#4b89f3"/><stop offset="0.3763" stop-color="#6197f4"/><stop offset="0.3801" stop-color="#6ea0f5"/><stop offset="0.384" stop-color="#81acf6"/><stop offset="0.3879" stop-color="#9bbdf8"/><stop offset="0.3918" stop-color="#bcd3fa"/><stop offset="0.3957" stop-color="#d0e0fc"/><stop offset="0.3995" stop-color="#bfd5fb"/><stop offset="0.4073" stop-color="#7fabf6"/><stop offset="0.4112" stop-color="#6a9df5"/><stop offset="0.4189" stop-color="#4f8bf3"/><stop offset="0.4306" stop-color="#397df1"/><stop offset="0.4538" stop-color="#2771f0"/><stop offset="0.5081" stop-color="#1d6aef"/><stop offset="0.6245" stop-color="#206df0"/><stop offset="0.6749" stop-color="#2e75f0"/><stop offset="0.7021" stop-color="#4383f2"/><stop offset="0.7176" stop-color="#5c94f4"/><stop offset="0.7292" stop-color="#7fabf6"/><stop offset="0.737" stop-color="#a4c3f9"/><stop offset="0.7409" stop-color="#bed4fb"/><stop offset="0.7448" stop-color="#e0ebfd"/><stop offset="0.7486" stop-color="#fff5ed"/><stop offset="0.7525" stop-color="#fccda4"/><stop offset="0.7564" stop-color="#f7985a"/><stop offset="0.7603" stop-color="#ee6f2e"/><stop offset="0.7642" stop-color="#ee6e2e"/><stop offset="0.768" stop-color="#f79759"/><stop offset="0.7719" stop-color="#fccda4"/><stop offset="0.7758" stop-color="#fff6ee"/><stop offset="0.7797" stop-color="#dfeafd"/><stop offset="0.7836" stop-color="#bcd3fa"/><stop offset="0.7874" stop-color="#a1c1f8"/><stop offset="0.7952" stop-color="#7ba8f6"/><stop offset="0.8068" stop-color="#5791f3"/><stop offset="0.8223" stop-color="#3c7ff1"/><stop offset="0.8495" stop-color="#2671f0"/><stop offset="0.9038" stop-color="#1666ef"/><stop offset="0.9969" stop-color="#0f61ee"/></linearGradient>
<linearGradient id="a20" x1="0" y1="0" x2="0" y2="1"><stop offset="0" stop-color="#2b73f0"/><stop offset="0.2948" stop-color="#3178f1"/><stop offset="0.3452" stop-color="#3d7ff2"/><stop offset="0.3607" stop-color="#4a88f2"/><stop offset="0.3724" stop-color="#6096f4"/><stop offset="0.3763" stop-color="#6d9ff5"/><stop offset="0.3801" stop-color="#80abf6"/><stop offset="0.384" stop-color="#9bbdf8"/><stop offset="0.3879" stop-color="#bdd4fa"/><stop offset="0.3918" stop-color="#d1e1fc"/><stop offset="0.3957" stop-color="#bed4fb"/><stop offset="0.3995" stop-color="#9abdf8"/><stop offset="0.4034" stop-color="#7ca9f6"/><stop offset="0.4073" stop-color="#679bf4"/><stop offset="0.4151" stop-color="#4d8af3"/><stop offset="0.4267" stop-color="#387cf1"/><stop offset="0.45" stop-color="#2670f0"/><stop offset="0.5043" stop-color="#1c6aef"/><stop offset="0.6245" stop-color="#216df0"/><stop offset="0.6749" stop-color="#3077f1"/><stop offset="0.6982" stop-color="#4383f2"/><stop offset="0.7137" stop-color="#5d94f4"/><stop offset="0.7254" stop-color="#80abf6"/><stop offset="0.7331" stop-color="#a6c4f9"/><stop offset="0.737" stop-color="#c1d6fb"/><stop offset="0.7409" stop-color="#e4edfd"/><stop offset="0.7448" stop-color="#fef2e7"/><stop offset="0.7486" stop-color="#fcc89d"/><stop offset="0.7525" stop-color="#f69455"/><stop offset="0.7564" stop-color="#ee6f2e"/><stop offset="0.7603" stop-color="#f07534"/><stop offset="0.7642" stop-color="#f8a165"/><stop offset="0.768" stop-color="#fdd6b2"/><stop offset="0.7719" stop-color="#fffcfa"/><stop offset="0.7758" stop-color="#d7e5fc"/><stop offset="0.7797" stop-color="#b6cffa"/><stop offset="0.7836" stop-color="#9cbef8"/><stop offset="0.7913" stop-color="#78a6f6"/><stop offset="0.8029" stop-color="#558ff3"/><stop offset="0.8185" stop-color="#3b7ef1"/><stop offset="0.8456" stop-color="#2670f0"/><stop offset="0.8999" stop-color="#1666ef"/><stop offset="0.9969" stop-color="#0f61ee"/></linearGradient>
<linearGradient id="a21" x1="0" y1="0" x2="0" y2="1"><stop offset="0" stop-color="#2b73f0"/><stop offset="0.287" stop-color="#3278f1"/><stop offset="0.3375" stop-color="#3d80f2"/><stop offset="0.3569" stop-color="#4d8af3"/><stop offset="0.3685" stop-color="#659af4"/><stop offset="0.3724" stop-color="#73a3f5"/><stop offset="0.3763" stop-color="#87b0f7"/><stop offset="0.384" stop-color="#c3d8fb"/><stop offset="0.3879" stop-color="#d3e2fc"/><stop offset="0.3918" stop-color="#c0d5fb"/><stop offset="0.3957" stop-color="#9dbff8"/><stop offset="0.3995" stop-color="#80acf6"/><stop offset="0.4034" stop-color="#6b9ef5"/><stop offset="0.4112" stop-color="#508cf3"/><stop offset="0.4228" stop-color="#3a7ef1"/><stop offset="0.4461" stop-color="#2771f0"/><stop offset="0.4965" stop-color="#1d6bef"/><stop offset="0.6129" stop-color="#206cf0"/><stop offset="0.6672" stop-color="#2e75f0"/><stop offset="0.6943" stop-color="#4383f2"/><stop offset="0.7099" stop-color="#5d95f4"/><stop offset="0.7215" stop-color="#80acf6"/><stop offset="0.7292" stop-color="#a7c5f9"/><stop offset="0.7331" stop-color="#c3d7fb"/><stop offset="0.737" stop-color="#e7effd"/><stop offset="0.7409" stop-color="#fef0e2"/><stop offset="0.7448" stop-color="#fcc497"/><stop offset="0.7486" stop-color="#f59052"/><stop offset="0.7525" stop-color="#ee702f"/><stop offset="0.7564" stop-color="#f27b3a"/><stop offset="0.7603" stop-color="#faab6f"/><stop offset="0.7642" stop-color="#fdddbf"/><stop offset="0.768" stop-color="#fbfcff"/><stop offset="0.7719" stop-color="#d1e1fc"/><stop offset="0.7758" stop-color="#b1ccfa"/><stop offset="0.7797" stop-color="#98bcf8"/><stop offset="0.7874" stop-color="#75a4f5"/><stop offset="0.7991" stop-color="#538ef3"/><stop offset="0.8146" stop-color="#3a7ef1"/><stop offset="0.8417" stop-color="#2570f0"/><stop offset="0.8999" stop-color="#1566ef"/><stop offset="0.9969" stop-color="#0f61ee"/></linearGradient>
<linearGradient id="a22" x1="0" y1="0" x2="0" y2="1"><stop offset="0" stop-color="#2b74f0"/><stop offset="0.2754" stop-color="#3278f1"/><stop offset="0.3297" stop-color="#3d80f2"/><stop offset="0.3491" stop-color="#4c89f3"/><stop offset="0.3607" stop-color="#5f96f4"/><stop offset="0.3685" stop-color="#79a7f6"/><stop offset="0.3724" stop-color="#8eb5f7"/><stop offset="0.3801" stop-color="#c9dbfb"/><stop offset="0.384" stop-color="#d5e3fc"/><stop offset="0.3879" stop-color="#c0d6fb"/><stop offset="0.3957" stop-color="#83adf6"/><stop offset="0.3995" stop-color="#6ea0f5"/><stop offset="0.4073" stop-color="#538ef3"/><stop offset="0.4189" stop-color="#3c7ff2"/><stop offset="0.4383" stop-color="#2b74f0"/><stop offset="0.481" stop-color="#1f6cef"/><stop offset="0.5935" stop-color="#1f6cef"/><stop offset="0.6555" stop-color="#2a73f0"/><stop offset="0.6866" stop-color="#3f81f2"/><stop offset="0.7021" stop-color="#558ff3"/><stop offset="0.7137" stop-color="#73a3f5"/><stop offset="0.7215" stop-color="#92b8f7"/><stop offset="0.7254" stop-color="#a8c6f9"/><stop offset="0.7292" stop-color="#c4d8fb"/><stop offset="0.7331" stop-color="#e9f0fd"/><stop offset="0.737" stop-color="#feedde"/><stop offset="0.7409" stop-color="#fcc192"/><stop offset="0.7448" stop-color="#f58e4f"/><stop offset="0.7486" stop-color="#ef7231"/><stop offset="0.7525" stop-color="#f38242"/><stop offset="0.7564" stop-color="#fbb37c"/><stop offset="0.7603" stop-color="#fee3cb"/><stop offset="0.7642" stop-color="#f4f8fe"/><stop offset="0.768" stop-color="#cbddfb"/><stop offset="0.7719" stop-color="#adc9f9"/><stop offset="0.7797" stop-color="#82adf6"/><stop offset="0.7874" stop-color="#669af4"/><stop offset="0.7991" stop-color="#4a88f2"/><stop offset="0.8185" stop-color="#3278f1"/><stop offset="0.8534" stop-color="#1f6cef"/><stop offset="0.9348" stop-color="#1163ef"/><stop offset="0.9969" stop-color="#0f61ee"/></linearGradient>
<linearGradient id="a23" x1="0" y1="0" x2="0" y2="1"><stop offset="0" stop-color="#2b74f0"/><stop offset="0.2754" stop-color="#3278f1"/><stop offset="0.3258" stop-color="#3d7ff2"/><stop offset="0.3452" stop-color="#4b89f3"/><stop offset="0.3569" stop-color="#5f96f4"/><stop offset="0.3646" stop-color="#7aa8f6"/><stop offset="0.3685" stop-color="#90b6f7"/><stop offset="0.3763" stop-color="#ccdefb"/><stop offset="0.3801" stop-color="#d5e4fc"/><stop offset="0.384" stop-color="#bdd3fa"/><stop offset="0.3879" stop-color="#9abdf8"/><stop offset="0.3918" stop-color="#7fabf6"/><stop offset="0.3957" stop-color="#6b9df5"/><stop offset="0.4034" stop-color="#518cf3"/><stop offset="0.4151" stop-color="#3b7ef1"/><stop offset="0.4383" stop-color="#2872f0"/><stop offset="0.4888" stop-color="#1d6bef"/><stop offset="0.6051" stop-color="#206cf0"/><stop offset="0.6594" stop-color="#2e75f0"/><stop offset="0.6866" stop-color="#4383f2"/><stop offset="0.7021" stop-color="#5d95f4"/><stop offset="0.7137" stop-color="#81acf6"/><stop offset="0.7215" stop-color="#a9c6f9"/><stop offset="0.7254" stop-color="#c5d9fb"/><stop offset="0.7292" stop-color="#eaf1fe"/><stop offset="0.7331" stop-color="#feecdc"/><stop offset="0.737" stop-color="#fbc090"/><stop offset="0.7409" stop-color="#f58e4f"/><stop offset="0.7448" stop-color="#f07534"/><stop offset="0.7486" stop-color="#f48949"/><stop offset="0.7525" stop-color="#fbba86"/><stop offset="0.7564" stop-color="#fee8d4"/><stop offset="0.7603" stop-color="#eef4fe"/><stop offset="0.7642" stop-color="#c7dafb"/><stop offset="0.768" stop-color="#a9c6f9"/><stop offset="0.7758" stop-color="#7fabf6"/><stop offset="0.7874" stop-color="#5992f4"/><stop offset="0.8029" stop-color="#3d80f2"/><stop offset="0.8262" stop-color="#2972f0"/><stop offset="0.8766" stop-color="#1867ef"/><stop offset="0.9969" stop-color="#0e61ee"/></linearGradient>
<linearGradient id="a24" x1="0" y1="0" x2="0" y2="1"><stop offset="0" stop-color="#2b74f0"/><stop offset="0.2599" stop-color="#3278f1"/><stop offset="0.3181" stop-color="#3f81f2"/><stop offset="0.3413" stop-color="#528df3"/><stop offset="0.353" stop-color="#689cf5"/><stop offset="0.3607" stop-color="#85aff7"/><stop offset="0.3646" stop-color="#9cbef8"/><stop offset="0.3724" stop-color="#d3e2fc"/><stop offset="0.3763" stop-color="#d6e4fc"/><stop offset="0.3801" stop-color="#bed4fb"/><stop offset="0.3879" stop-color="#85aff7"/><stop offset="0.3957" stop-color="#6298f4"/><stop offset="0.4073" stop-color="#4685f2"/><stop offset="0.4267" stop-color="#3077f1"/><stop offset="0.4616" stop-color="#226ef0"/><stop offset="0.5586" stop-color="#1d6bef"/><stop offset="0.6362" stop-color="#2771f0"/><stop offset="0.6711" stop-color="#377cf1"/><stop offset="0.6905" stop-color="#4e8bf3"/><stop offset="0.7021" stop-color="#679bf4"/><stop offset="0.7099" stop-color="#81acf6"/><stop offset="0.7176" stop-color="#a9c6f9"/><stop offset="0.7215" stop-color="#c5d9fb"/><stop offset="0.7254" stop-color="#ebf2fe"/><stop offset="0.7292" stop-color="#feebda"/><stop offset="0.7331" stop-color="#fbbf8e"/><stop offset="0.737" stop-color="#f58e4f"/><stop offset="0.7409" stop-color="#f07737"/><stop offset="0.7448" stop-color="#f58e4f"/><stop offset="0.7486" stop-color="#fbc090"/><stop offset="0.7525" stop-color="#feeddc"/><stop offset="0.7564" stop-color="#e9f0fd"/><stop offset="0.7603" stop-color="#c3d7fb"/><stop offset="0.7642" stop-color="#a6c4f9"/><stop offset="0.7719" stop-color="#7daaf6"/><stop offset="0.7836" stop-color="#5891f3"/><stop offset="0.7991" stop-color="#3d7ff2"/><stop offset="0.8262" stop-color="#2670f0"/><stop offset="0.8805" stop-color="#1666ef"/><stop offset="0.9969" stop-color="#0e61ee"/></linearGradient>
<linearGradient id="a25" x1="0" y1="0" x2="0" y2="1"><stop offset="0" stop-color="#2b74f0"/><stop offset="0.2599" stop-color="#3279f1"/><stop offset="0.3142" stop-color="#3f81f2"/><stop offset="0.3336" stop-color="#4d8af3"/><stop offset="0.3452" stop-color="#5f96f4"/><stop offset="0.353" stop-color="#76a5f6"/><stop offset="0.3569" stop-color="#88b1f7"/><stop offset="0.3607" stop-color="#a1c1f8"/><stop offset="0.3646" stop-color="#bfd5fb"/><stop offset="0.3685" stop-color="#d7e5fc"/><stop offset="0.3724" stop-color="#d5e4fc"/><stop offset="0.3763" stop-color="#bad2fa"/><stop offset="0.3801" stop-color="#9abdf8"/><stop offset="0.384" stop-color="#80acf6"/><stop offset="0.3918" stop-color="#5f96f4"/><stop offset="0.4034" stop-color="#4484f2"/><stop offset="0.4228" stop-color="#2e76f1"/><stop offset="0.4616" stop-color="#216df0"/><stop offset="0.5663" stop-color="#1e6bef"/><stop offset="0.64" stop-color="#2972f0"/><stop offset="0.6711" stop-color="#3a7ef1"/><stop offset="0.6905" stop-color="#558ff3"/><stop offset="0.7021" stop-color="#72a3f5"/><stop offset="0.7099" stop-color="#92b8f7"/><stop offset="0.7137" stop-color="#a9c6f9"/><stop offset="0.7176" stop-color="#c5d9fb"/><stop offset="0.7215" stop-color="#ebf2fe"/><stop offset="0.7254" stop-color="#feebda"/><stop offset="0.7292" stop-color="#fbbf8f"/><stop offset="0.7331" stop-color="#f58f50"/><stop offset="0.737" stop-color="#f17a3a"/><stop offset="0.7409" stop-color="#f69355"/><stop offset="0.7448" stop-color="#fcc597"/><stop offset="0.7486" stop-color="#fef0e3"/><stop offset="0.7525" stop-color="#e4eefd"/><stop offset="0.7564" stop-color="#bfd5fb"/><stop offset="0.7603" stop-color="#a3c3f9"/><stop offset="0.768" stop-color="#7ba8f6"/><stop offset="0.7797" stop-color="#5790f3"/><stop offset="0.7952" stop-color="#3c7ff1"/><stop offset="0.8223" stop-color="#2670f0"/><stop offset="0.8766" stop-color="#1666ef"/><stop offset="0.9969" stop-color="#0e61ee"/></linearGradient>
<linearGradient id="a26" x1="0" y1="0" x2="0" y2="1"><stop offset="0" stop-color="#2b74f0"/><stop offset="0.2521" stop-color="#3279f1"/><stop offset="0.3064" stop-color="#3e80f2"/><stop offset="0.3297" stop-color="#4f8bf3"/><stop offset="0.3413" stop-color="#6398f4"/><stop offset="0.3491" stop-color="#7ba9f6"/><stop offset="0.353" stop-color="#8fb5f7"/><stop offset="0.3607" stop-color="#c8dbfb"/><stop offset="0.3646" stop-color="#dbe7fc"/><stop offset="0.3685" stop-color="#d4e3fc"/><stop offset="0.3763" stop-color="#98bcf8"/><stop offset="0.3801" stop-color="#7fabf6"/><stop offset="0.3879" stop-color="#5e95f4"/><stop offset="0.3995" stop-color="#4484f2"/><stop offset="0.4189" stop-color="#2f76f1"/><stop offset="0.4577" stop-color="#216df0"/><stop offset="0.5625" stop-color="#1e6bef"/><stop offset="0.6362" stop-color="#2972f0"/><stop offset="0.6672" stop-color="#3a7ef1"/><stop offset="0.6866" stop-color="#548ff3"/><stop offset="0.6982" stop-color="#72a2f5"/><stop offset="0.706" stop-color="#92b7f7"/><stop offset="0.7099" stop-color="#a8c6f9"/><stop offset="0.7137" stop-color="#c4d8fb"/><stop offset="0.7176" stop-color="#eaf1fe"/><stop offset="0.7215" stop-color="#feecdc"/><stop offset="0.7254" stop-color="#fbc090"/><stop offset="0.7292" stop-color="#f69152"/><stop offset="0.7331" stop-color="#f27e3d"/><stop offset="0.737" stop-color="#f79859"/><stop offset="0.7409" stop-color="#fcc89d"/><stop offset="0.7448" stop-color="#fef3e8"/><stop offset="0.7486" stop-color="#e1ebfd"/><stop offset="0.7525" stop-color="#bdd3fa"/><stop offset="0.7564" stop-color="#a1c1f8"/><stop offset="0.7642" stop-color="#7aa7f6"/><stop offset="0.7758" stop-color="#5690f3"/><stop offset="0.7913" stop-color="#3b7ef1"/><stop offset="0.8185" stop-color="#2570f0"/><stop offset="0.8728" stop-color="#1666ef"/><stop offset="0.9969" stop-color="#0e61ee"/></linearGradient>
<linearGradient id="a27" x1="0" y1="0" x2="0" y2="1"><stop offset="0" stop-color="#2b74f0"/><stop offset="0.2444" stop-color="#3379f1"/><stop offset="0.2987" stop-color="#3f81f2"/><stop offset="0.322" stop-color="#508cf3"/><stop offset="0.3336" stop-color="#6197f4"/><stop offset="0.3413" stop-color="#76a5f6"/><stop offset="0.3452" stop-color="#86b0f7"/><stop offset="0.3491" stop-color="#9cbef8"/><stop offset="0.3569" stop-color="#d2e1fc"/><stop offset="0.3607" stop-color="#dee9fd"/><stop offset="0.3646" stop-color="#d3e2fc"/><stop offset="0.3724" stop-color="#9abdf8"/><stop offset="0.3763" stop-color="#82adf6"/><stop offset="0.384" stop-color="#6197f4"/><stop offset="0.3957" stop-color="#4786f2"/><stop offset="0.4151" stop-color="#3178f1"/><stop offset="0.4538" stop-color="#226ef0"/><stop offset="0.5547" stop-color="#1e6bef"/><stop offset="0.6284" stop-color="#2771f0"/><stop offset="0.6594" stop-color="#377bf1"/><stop offset="0.6788" stop-color="#4d8af3"/><stop offset="0.6905" stop-color="#659af4"/><stop offset="0.6982" stop-color="#7fabf6"/><stop offset="0.706" stop-color="#a6c5f9"/><stop offset="0.7099" stop-color="#c3d7fb"/><stop offset="0.7137" stop-color="#e8f0fd"/><stop offset="0.7176" stop-color="#feeedf"/><stop offset="0.7215" stop-color="#fcc294"/><stop offset="0.7254" stop-color="#f69455"/><stop offset="0.7292" stop-color="#f38140"/><stop offset="0.7331" stop-color="#f79b5d"/><stop offset="0.737" stop-color="#fccba2"/><stop offset="0.7409" stop-color="#fef5ec"/><stop offset="0.7448" stop-color="#dfeafd"/><stop offset="0.7486" stop-color="#bbd2fa"/><stop offset="0.7525" stop-color="#9fc0f8"/><stop offset="0.7603" stop-color="#79a7f6"/><stop offset="0.7719" stop-color="#558ff3"/><stop offset="0.7874" stop-color="#3b7ef1"/><stop offset="0.8146" stop-color="#2570f0"/><stop offset="0.8689" stop-color="#1666ef"/><stop offset="0.9969" stop-color="#0e61ee"/></linearGradient>
<linearGradient id="a28" x1="0" y1="0" x2="0" y2="1"><stop offset="0" stop-color="#2b74f0"/><stop offset="0.2444" stop-color="#3379f1"/><stop offset="0.2987" stop-color="#4081f2"/><stop offset="0.322" stop-color="#538ef3"/><stop offset="0.3336" stop-color="#6a9df5"/><stop offset="0.3413" stop-color="#88b0f7"/><stop offset="0.3452" stop-color="#9fc0f8"/><stop offset="0.353" stop-color="#d8e5fc"/><stop offset="0.3569" stop-color="#dfeafd"/><stop offset="0.3607" stop-color="#cfdffc"/><stop offset="0.3685" stop-color="#91b7f7"/><stop offset="0.3724" stop-color="#7aa7f6"/><stop offset="0.3801" stop-color="#5b94f4"/><stop offset="0.3918" stop-color="#4383f2"/><stop offset="0.4112" stop-color="#2f76f1"/><stop offset="0.45" stop-color="#216df0"/><stop offset="0.5547" stop-color="#1e6bef"/><stop offset="0.6284" stop-color="#2872f0"/><stop offset="0.6594" stop-color="#397df1"/><stop offset="0.6788" stop-color="#538ef3"/><stop offset="0.6905" stop-color="#70a1f5"/><stop offset="0.6982" stop-color="#8fb5f7"/><stop offset="0.7021" stop-color="#a4c3f9"/><stop offset="0.706" stop-color="#c0d6fb"/><stop offset="0.7099" stop-color="#e5eefd"/><stop offset="0.7137" stop-color="#fef0e3"/><stop offset="0.7176" stop-color="#fcc699"/><stop offset="0.7215" stop-color="#f79759"/><stop offset="0.7254" stop-color="#f38444"/><stop offset="0.7292" stop-color="#f89d60"/><stop offset="0.7331" stop-color="#fccda5"/><stop offset="0.737" stop-color="#fff6ef"/><stop offset="0.7409" stop-color="#dde9fd"/><stop offset="0.7448" stop-color="#b9d1fa"/><stop offset="0.7486" stop-color="#9ebff8"/><stop offset="0.7564" stop-color="#78a6f6"/><stop offset="0.768" stop-color="#548ff3"/><stop offset="0.7836" stop-color="#3a7ef1"/><stop offset="0.8107" stop-color="#2570f0"/><stop offset="0.8689" stop-color="#1565ef"/><stop offset="0.9969" stop-color="#0e61ee"/></linearGradient>
<linearGradient id="a29" x1="0" y1="0" x2="0" y2="1"><stop offset="0" stop-color="#2b74f0"/><stop offset="0.2289" stop-color="#3379f1"/><stop offset="0.287" stop-color="#4082f2"/><stop offset="0.3103" stop-color="#508cf3"/><stop offset="0.322" stop-color="#6197f4"/><stop offset="0.3297" stop-color="#75a4f5"/><stop offset="0.3336" stop-color="#83aef6"/><stop offset="0.3375" stop-color="#97bbf8"/><stop offset="0.3452" stop-color="#ccddfb"/><stop offset="0.3491" stop-color="#dfeafd"/><stop offset="0.353" stop-color="#dfeafd"/><stop offset="0.3569" stop-color="#cedffc"/><stop offset="0.3646" stop-color="#95b9f8"/><stop offset="0.3685" stop-color="#7eaaf6"/><stop offset="0.3763" stop-color="#6096f4"/><stop offset="0.3879" stop-color="#4786f2"/><stop offset="0.4073" stop-color="#3278f1"/><stop offset="0.4461" stop-color="#226ef0"/><stop offset="0.5431" stop-color="#1e6bef"/><stop offset="0.6206" stop-color="#2771f0"/><stop offset="0.6555" stop-color="#397df1"/><stop offset="0.6749" stop-color="#528df3"/><stop offset="0.6866" stop-color="#6fa0f5"/><stop offset="0.6943" stop-color="#8db4f7"/><stop offset="0.6982" stop-color="#a2c2f9"/><stop offset="0.7021" stop-color="#bdd4fa"/><stop offset="0.706" stop-color="#e1ebfd"/><stop offset="0.7099" stop-color="#fef3e9"/><stop offset="0.7137" stop-color="#fcca9f"/><stop offset="0.7176" stop-color="#f79c5e"/><stop offset="0.7215" stop-color="#f48747"/><stop offset="0.7254" stop-color="#f89f62"/><stop offset="0.7292" stop-color="#fccea6"/><stop offset="0.7331" stop-color="#fff7ef"/><stop offset="0.737" stop-color="#dce8fd"/><stop offset="0.7409" stop-color="#b8d1fa"/><stop offset="0.7448" stop-color="#9dbff8"/><stop offset="0.7525" stop-color="#77a6f6"/><stop offset="0.7642" stop-color="#548ff3"/><stop offset="0.7797" stop-color="#3a7ef1"/><stop offset="0.8068" stop-color="#2570f0"/><stop offset="0.865" stop-color="#1565ef"/><stop offset="0.9969" stop-color="#0e60ee"/></linearGradient>
<linearGradient id="a30" x1="0" y1="0" x2="0" y2="1"><stop offset="0" stop-color="#2c74f0"/><stop offset="0.2211" stop-color="#347af1"/><stop offset="0.2793" stop-color="#4182f2"/><stop offset="0.3064" stop-color="#558ff3"/><stop offset="0.3181" stop-color="#689cf5"/><stop offset="0.3258" stop-color="#7eaaf6"/><stop offset="0.3297" stop-color="#8fb5f7"/><stop offset="0.3413" stop-color="#d7e4fc"/><stop offset="0.3452" stop-color="#e2ecfd"/><stop offset="0.3491" stop-color="#dfeafd"/><stop offset="0.353" stop-color="#cbddfb"/><stop offset="0.3607" stop-color="#95b9f8"/><stop offset="0.3685" stop-color="#6fa0f5"/><stop offset="0.3801" stop-color="#4f8cf3"/><stop offset="0.3957" stop-color="#3a7ef1"/><stop offset="0.4267" stop-color="#2871f0"/><stop offset="0.4965" stop-color="#1e6bef"/><stop offset="0.5974" stop-color="#236ef0"/><stop offset="0.64" stop-color="#3177f1"/><stop offset="0.6633" stop-color="#4585f2"/><stop offset="0.6788" stop-color="#6298f4"/><stop offset="0.6866" stop-color="#7aa8f6"/><stop offset="0.6943" stop-color="#9fc0f8"/><stop offset="0.6982" stop-color="#bad2fa"/><stop offset="0.7021" stop-color="#dde9fd"/><stop offset="0.706" stop-color="#fff7f0"/><stop offset="0.7099" stop-color="#fccfa7"/><stop offset="0.7137" stop-color="#f8a164"/><stop offset="0.7176" stop-color="#f48a4b"/><stop offset="0.7215" stop-color="#f8a062"/><stop offset="0.7254" stop-color="#fccea5"/><stop offset="0.7292" stop-color="#fff7ef"/><stop offset="0.7331" stop-color="#dce8fd"/><stop offset="0.737" stop-color="#b8d1fa"/><stop offset="0.7409" stop-color="#9dbff8"/><stop offset="0.7486" stop-color="#77a6f6"/><stop offset="0.7603" stop-color="#548ff3"/><stop offset="0.7758" stop-color="#3a7ef1"/><stop offset="0.8029" stop-color="#2570f0"/><stop offset="0.8611" stop-color="#1565ef"/><stop offset="0.9969" stop-color="#0e60ee"/></linearGradient>
<linearGradient id="a31" x1="0" y1="0" x2="0" y2="1"><stop offset="0" stop-color="#2c74f0"/><stop offset="0.2133" stop-color="#347af1"/><stop offset="0.2715" stop-color="#4182f2"/><stop offset="0.2987" stop-color="#548ff3"/><stop offset="0.3103" stop-color="#659af4"/><stop offset="0.3181" stop-color="#78a6f6"/><stop offset="0.3258" stop-color="#98bcf8"/><stop offset="0.3336" stop-color="#cadcfb"/><stop offset="0.3375" stop-color="#deeafd"/><stop offset="0.3413" stop-color="#e4eefd"/><stop offset="0.3452" stop-color="#dde9fd"/><stop offset="0.3491" stop-color="#c7dafb"/><stop offset="0.3569" stop-color="#92b7f7"/><stop offset="0.3646" stop-color="#6d9ff5"/><stop offset="0.3763" stop-color="#4f8bf3"/><stop offset="0.3957" stop-color="#377bf1"/><stop offset="0.4306" stop-color="#2670f0"/><stop offset="0.512" stop-color="#1e6bef"/><stop offset="0.6051" stop-color="#2570f0"/><stop offset="0.6439" stop-color="#357af1"/><stop offset="0.6633" stop-color="#4a88f2"/><stop offset="0.6749" stop-color="#6197f4"/><stop offset="0.6827" stop-color="#78a7f6"/><stop offset="0.6905" stop-color="#9dbef8"/><stop offset="0.6943" stop-color="#b6cffa"/><stop offset="0.6982" stop-color="#d8e5fc"/><stop offset="0.7021" stop-color="#fffbf7"/><stop offset="0.706" stop-color="#fdd5b0"/><stop offset="0.7099" stop-color="#f9a76a"/><stop offset="0.7137" stop-color="#f58e4f"/><stop offset="0.7176" stop-color="#f8a063"/><stop offset="0.7215" stop-color="#fccca3"/><stop offset="0.7254" stop-color="#fff5ed"/><stop offset="0.7292" stop-color="#dde9fd"/><stop offset="0.7331" stop-color="#b9d1fa"/><stop offset="0.737" stop-color="#9ebff8"/><stop offset="0.7448" stop-color="#77a6f6"/><stop offset="0.7564" stop-color="#548ff3"/><stop offset="0.7719" stop-color="#3a7ef1"/><stop offset="0.7991" stop-color="#2570f0"/><stop offset="0.8573" stop-color="#1565ef"/><stop offset="0.9969" stop-color="#0e60ee"/></linearGradient>
<linearGradient id="a32" x1="0" y1="0" x2="0" y2="1"><stop offset="0" stop-color="#2c75f0"/><stop offset="0.1978" stop-color="#367bf1"/><stop offset="0.2599" stop-color="#4484f2"/><stop offset="0.2909" stop-color="#5992f4"/><stop offset="0.3064" stop-color="#72a2f5"/><stop offset="0.3142" stop-color="#89b1f7"/><stop offset="0.322" stop-color="#aecaf9"/><stop offset="0.3297" stop-color="#d9e6fc"/><stop offset="0.3336" stop-color="#e5eefd"/><stop offset="0.3375" stop-color="#e6effd"/><stop offset="0.3413" stop-color="#dde9fd"/><stop offset="0.3491" stop-color="#b0cbfa"/><stop offset="0.3569" stop-color="#85aff7"/><stop offset="0.3646" stop-color="#689cf5"/><stop offset="0.3763" stop-color="#4f8bf3"/><stop offset="0.3957" stop-color="#397df1"/><stop offset="0.4306" stop-color="#2872f0"/><stop offset="0.512" stop-color="#1f6cef"/><stop offset="0.6012" stop-color="#2570f0"/><stop offset="0.64" stop-color="#357af1"/><stop offset="0.6594" stop-color="#4988f2"/><stop offset="0.6711" stop-color="#5f96f4"/><stop offset="0.6788" stop-color="#77a5f6"/><stop offset="0.6866" stop-color="#99bcf8"/><stop offset="0.6905" stop-color="#b2cdfa"/><stop offset="0.6943" stop-color="#d3e2fc"/><stop offset="0.6982" stop-color="#fefeff"/><stop offset="0.7021" stop-color="#fddbbb"/><stop offset="0.706" stop-color="#faae73"/><stop offset="0.7099" stop-color="#f69253"/><stop offset="0.7137" stop-color="#f89f62"/><stop offset="0.7176" stop-color="#fccaa0"/><stop offset="0.7215" stop-color="#fef3e9"/><stop offset="0.7254" stop-color="#e0ebfd"/><stop offset="0.7292" stop-color="#bbd2fa"/><stop offset="0.7331" stop-color="#9fc0f8"/><stop offset="0.7409" stop-color="#78a6f6"/><stop offset="0.7525" stop-color="#558ff3"/><stop offset="0.768" stop-color="#3b7ef1"/><stop offset="0.7952" stop-color="#2570f0"/><stop offset="0.8534" stop-color="#1566ef"/><stop offset="0.9969" stop-color="#0e60ee"/></linearGradient>
<linearGradient id="a33" x1="0" y1="0" x2="0" y2="1"><stop offset="0" stop-color="#2d75f0"/><stop offset="0.1939" stop-color="#367bf1"/><stop offset="0.256" stop-color="#4585f2"/><stop offset="0.2832" stop-color="#5790f3"/><stop offset="0.2987" stop-color="#6d9ff5"/><stop offset="0.3064" stop-color="#81acf6"/><stop offset="0.3142" stop-color="#a1c1f8"/><stop offset="0.322" stop-color="#cedffc"/><stop offset="0.3258" stop-color="#e1ebfd"/><stop offset="0.3297" stop-color="#e8f0fd"/><stop offset="0.3336" stop-color="#e6effd"/><stop offset="0.3375" stop-color="#d9e6fc"/><stop offset="0.3491" stop-color="#92b8f7"/><stop offset="0.3569" stop-color="#71a2f5"/><stop offset="0.3685" stop-color="#548ef3"/><stop offset="0.3879" stop-color="#3b7ef1"/><stop offset="0.4228" stop-color="#2972f0"/><stop offset="0.5004" stop-color="#1f6cef"/><stop offset="0.5935" stop-color="#246ff0"/><stop offset="0.6323" stop-color="#3278f1"/><stop offset="0.6555" stop-color="#4887f2"/><stop offset="0.6672" stop-color="#5e95f4"/><stop offset="0.6749" stop-color="#74a4f5"/><stop offset="0.6827" stop-color="#96baf8"/><stop offset="0.6866" stop-color="#adc9f9"/><stop offset="0.6905" stop-color="#ccdefb"/><stop offset="0.6943" stop-color="#f6f9fe"/><stop offset="0.6982" stop-color="#fee2c8"/><stop offset="0.7021" stop-color="#fbb680"/><stop offset="0.706" stop-color="#f79658"/><stop offset="0.7099" stop-color="#f89f61"/><stop offset="0.7137" stop-color="#fcc79b"/><stop offset="0.7176" stop-color="#fef1e4"/><stop offset="0.7215" stop-color="#e3edfd"/><stop offset="0.7254" stop-color="#bdd4fa"/><stop offset="0.7292" stop-color="#a1c1f8"/><stop offset="0.737" stop-color="#79a7f6"/><stop offset="0.7486" stop-color="#558ff3"/><stop offset="0.7642" stop-color="#3b7ef1"/><stop offset="0.7913" stop-color="#2570f0"/><stop offset="0.8495" stop-color="#1566ef"/><stop offset="0.9969" stop-color="#0e60ee"/></linearGradient>
<linearGradient id="a34" x1="0" y1="0" x2="0" y2="1"><stop offset="0" stop-color="#2d75f0"/><stop offset="0.1862" stop-color="#377cf1"/><stop offset="0.2483" stop-color="#4786f2"/><stop offset="0.2754" stop-color="#5992f4"/><stop offset="0.2909" stop-color="#6fa0f5"/><stop offset="0.3026" stop-color="#8eb5f7"/><stop offset="0.3103" stop-color="#b2ccfa"/><stop offset="0.3181" stop-color="#dce8fd"/><stop offset="0.322" stop-color="#e8f0fd"/><stop offset="0.3258" stop-color="#ebf2fe"/><stop offset="0.3297" stop-color="#e6eefd"/><stop offset="0.3336" stop-color="#d7e5fc"/><stop offset="0.3452" stop-color="#94b9f8"/><stop offset="0.353" stop-color="#74a3f5"/><stop offset="0.3646" stop-color="#5790f3"/><stop offset="0.384" stop-color="#3e80f2"/><stop offset="0.4189" stop-color="#2b73f0"/><stop offset="0.4926" stop-color="#206cf0"/><stop offset="0.5896" stop-color="#2570f0"/><stop offset="0.6323" stop-color="#347af1"/><stop offset="0.6517" stop-color="#4786f2"/><stop offset="0.6633" stop-color="#5c94f4"/><stop offset="0.6749" stop-color="#80abf6"/><stop offset="0.6827" stop-color="#a8c6f9"/><stop offset="0.6866" stop-color="#c6dafb"/><stop offset="0.6905" stop-color="#edf3fe"/><stop offset="0.6943" stop-color="#fee9d5"/><stop offset="0.6982" stop-color="#fbbe8e"/><stop offset="0.7021" stop-color="#f89c5e"/><stop offset="0.706" stop-color="#f89e61"/><stop offset="0.7099" stop-color="#fcc395"/><stop offset="0.7137" stop-color="#feeddd"/><stop offset="0.7176" stop-color="#e7effd"/><stop offset="0.7215" stop-color="#c0d6fb"/><stop offset="0.7254" stop-color="#a3c3f9"/><stop offset="0.7331" stop-color="#7aa8f6"/><stop offset="0.7448" stop-color="#5690f3"/><stop offset="0.7603" stop-color="#3b7ef1"/><stop offset="0.7874" stop-color="#2570f0"/><stop offset="0.8417" stop-color="#1666ef"/><stop offset="0.9969" stop-color="#0e60ee"/></linearGradient>
<linearGradient id="a35" x1="0" y1="0" x2="0" y2="1"><stop offset="0" stop-color="#2e75f0"/><stop offset="0.1746" stop-color="#387cf1"/><stop offset="0.2366" stop-color="#4887f2"/><stop offset="0.2676" stop-color="#5d94f4"/><stop offset="0.2832" stop-color="#71a2f5"/><stop offset="0.2948" stop-color="#8fb5f7"/><stop offset="0.3026" stop-color="#afcbf9"/><stop offset="0.3103" stop-color="#d7e5fc"/><stop offset="0.3142" stop-color="#e6effd"/><stop offset="0.3181" stop-color="#edf3fe"/><stop offset="0.322" stop-color="#ecf3fe"/><stop offset="0.3258" stop-color="#e5eefd"/><stop offset="0.3297" stop-color="#d6e4fc"/><stop offset="0.3413" stop-color="#96baf8"/><stop offset="0.3491" stop-color="#77a6f6"/><stop offset="0.3607" stop-color="#5a93f4"/><stop offset="0.3801" stop-color="#4182f2"/><stop offset="0.4151" stop-color="#2d75f0"/><stop offset="0.4849" stop-color="#216df0"/><stop offset="0.5818" stop-color="#246ff0"/><stop offset="0.6245" stop-color="#3278f1"/><stop offset="0.6478" stop-color="#4686f2"/><stop offset="0.6633" stop-color="#6499f4"/><stop offset="0.6711" stop-color="#7da9f6"/><stop offset="0.6788" stop-color="#a3c3f9"/><stop offset="0.6827" stop-color="#bfd5fb"/><stop offset="0.6866" stop-color="#e4edfd"/><stop offset="0.6905" stop-color="#fef1e4"/><stop offset="0.6943" stop-color="#fcc89d"/><stop offset="0.6982" stop-color="#f9a366"/><stop offset="0.7021" stop-color="#f89e60"/><stop offset="0.706" stop-color="#fbbe8d"/><stop offset="0.7099" stop-color="#fee8d5"/><stop offset="0.7137" stop-color="#edf3fe"/><stop offset="0.7176" stop-color="#c5d9fb"/><stop offset="0.7215" stop-color="#a6c5f9"/><stop offset="0.7292" stop-color="#7ca9f6"/><stop offset="0.7409" stop-color="#5791f3"/><stop offset="0.7564" stop-color="#3c7ff1"/><stop offset="0.7836" stop-color="#2670f0"/><stop offset="0.8379" stop-color="#1666ef"/><stop offset="0.9969" stop-color="#0e60ee"/></linearGradient>
<linearGradient id="a36" x1="0" y1="0" x2="0" y2="1"><stop offset="0" stop-color="#2e76f0"/><stop offset="0.1707" stop-color="#387cf1"/><stop offset="0.2327" stop-color="#4887f2"/><stop offset="0.2638" stop-color="#5d95f4"/><stop offset="0.2793" stop-color="#73a3f5"/><stop offset="0.2909" stop-color="#94b8f8"/><stop offset="0.2987" stop-color="#b7d0fa"/><stop offset="0.3064" stop-color="#dfeafd"/><stop offset="0.3103" stop-color="#ebf2fe"/><stop offset="0.3142" stop-color="#eff4fe"/><stop offset="0.3181" stop-color="#ecf2fe"/><stop offset="0.322" stop-color="#e1ecfd"/><stop offset="0.3297" stop-color="#b8d0fa"/><stop offset="0.3375" stop-color="#8eb5f7"/><stop offset="0.3452" stop-color="#71a2f5"/><stop offset="0.3569" stop-color="#5690f3"/><stop offset="0.3763" stop-color="#3f81f2"/><stop offset="0.4112" stop-color="#2c74f0"/><stop offset="0.4849" stop-color="#216df0"/><stop offset="0.5818" stop-color="#256ff0"/><stop offset="0.6245" stop-color="#3379f1"/><stop offset="0.6478" stop-color="#4a88f2"/><stop offset="0.6594" stop-color="#6197f4"/><stop offset="0.6672" stop-color="#79a7f6"/><stop offset="0.6749" stop-color="#9dbff8"/><stop offset="0.6788" stop-color="#b7d0fa"/><stop offset="0.6827" stop-color="#dae7fc"/><stop offset="0.6866" stop-color="#fff9f4"/><stop offset="0.6905" stop-color="#fdd3ae"/><stop offset="0.6943" stop-color="#faab70"/><stop offset="0.6982" stop-color="#f89f62"/><stop offset="0.7021" stop-color="#fbb986"/><stop offset="0.706" stop-color="#fee3cb"/><stop offset="0.7099" stop-color="#f3f7fe"/><stop offset="0.7137" stop-color="#c9dcfb"/><stop offset="0.7176" stop-color="#aac7f9"/><stop offset="0.7215" stop-color="#91b7f7"/><stop offset="0.7292" stop-color="#6fa0f5"/><stop offset="0.7409" stop-color="#4f8cf3"/><stop offset="0.7564" stop-color="#387cf1"/><stop offset="0.7836" stop-color="#246ff0"/><stop offset="0.8456" stop-color="#1565ef"/><stop offset="0.9969" stop-color="#0e60ee"/></linearGradient>
<linearGradient id="a37" x1="0" y1="0" x2="0" y2="1"><stop offset="0" stop-color="#2f76f1"/><stop offset="0.159" stop-color="#3a7ef1"/><stop offset="0.225" stop-color="#4c8af3"/><stop offset="0.256" stop-color="#6298f4"/><stop offset="0.2715" stop-color="#78a6f6"/><stop offset="0.2832" stop-color="#97baf8"/><stop offset="0.2987" stop-color="#dbe7fc"/><stop offset="0.3026" stop-color="#e7effd"/><stop offset="0.3064" stop-color="#edf3fe"/><stop offset="0.3142" stop-color="#e9f0fd"/><stop offset="0.3181" stop-color="#dee9fd"/><stop offset="0.3336" stop-color="#92b7f7"/><stop offset="0.3452" stop-color="#6b9ef5"/><stop offset="0.3607" stop-color="#4f8bf3"/><stop offset="0.3879" stop-color="#387cf1"/><stop offset="0.4383" stop-color="#2771f0"/><stop offset="0.5392" stop-color="#226df0"/><stop offset="0.6051" stop-color="#2c74f0"/><stop offset="0.6323" stop-color="#3c7ff1"/><stop offset="0.6478" stop-color="#4f8bf3"/><stop offset="0.6594" stop-color="#699cf5"/><stop offset="0.6672" stop-color="#85aff7"/><stop offset="0.6711" stop-color="#98bbf8"/><stop offset="0.6749" stop-color="#b0cbfa"/><stop offset="0.6788" stop-color="#d0e0fc"/><stop offset="0.6827" stop-color="#fbfcff"/><stop offset="0.6866" stop-color="#fddec1"/><stop offset="0.6905" stop-color="#fbb57f"/><stop offset="0.6943" stop-color="#f8a164"/><stop offset="0.6982" stop-color="#fbb47e"/><stop offset="0.7021" stop-color="#fdddbf"/><stop offset="0.706" stop-color="#fcfdff"/><stop offset="0.7099" stop-color="#d0e0fc"/><stop offset="0.7137" stop-color="#aecaf9"/><stop offset="0.7176" stop-color="#95b9f8"/><stop offset="0.7254" stop-color="#71a2f5"/><stop offset="0.737" stop-color="#518df3"/><stop offset="0.7525" stop-color="#397df1"/><stop offset="0.7797" stop-color="#246ff0"/><stop offset="0.8379" stop-color="#1566ef"/><stop offset="0.9969" stop-color="#0e60ee"/></linearGradient>
<linearGradient id="a38" x1="0" y1="0" x2="0" y2="1"><stop offset="0" stop-color="#2f76f1"/><stop offset="0.1552" stop-color="#3b7ef1"/><stop offset="0.2172" stop-color="#4c89f3"/><stop offset="0.2483" stop-color="#6096f4"/><stop offset="0.2638" stop-color="#74a4f5"/><stop offset="0.2754" stop-color="#8fb6f7"/><stop offset="0.287" stop-color="#bfd5fb"/><stop offset="0.2948" stop-color="#e0ebfd"/><stop offset="0.2987" stop-color="#e9f1fd"/><stop offset="0.3064" stop-color="#eaf1fe"/><stop offset="0.3103" stop-color="#e3edfd"/><stop offset="0.3142" stop-color="#d6e4fc"/><stop offset="0.3297" stop-color="#8ab2f7"/><stop offset="0.3413" stop-color="#679bf4"/><stop offset="0.3569" stop-color="#4d8af3"/><stop offset="0.384" stop-color="#377bf1"/><stop offset="0.4344" stop-color="#2771f0"/><stop offset="0.5353" stop-color="#216df0"/><stop offset="0.6012" stop-color="#2b74f0"/><stop offset="0.6323" stop-color="#3e80f2"/><stop offset="0.6478" stop-color="#548ff3"/><stop offset="0.6594" stop-color="#71a2f5"/><stop offset="0.6672" stop-color="#91b7f7"/><stop offset="0.6711" stop-color="#a8c6f9"/><stop offset="0.6749" stop-color="#c6d9fb"/><stop offset="0.6788" stop-color="#eef4fe"/><stop offset="0.6827" stop-color="#fee9d5"/><stop offset="0.6866" stop-color="#fcc192"/><stop offset="0.6905" stop-color="#f9a669"/><stop offset="0.6943" stop-color="#fab077"/><stop offset="0.6982" stop-color="#fdd6b2"/><stop offset="0.7021" stop-color="#fffbf7"/><stop offset="0.706" stop-color="#d7e5fc"/><stop offset="0.7099" stop-color="#b4cefa"/><stop offset="0.7137" stop-color="#99bcf8"/><stop offset="0.7215" stop-color="#74a4f5"/><stop offset="0.7331" stop-color="#528df3"/><stop offset="0.7486" stop-color="#397df1"/><stop offset="0.7758" stop-color="#2570f0"/><stop offset="0.834" stop-color="#1666ef"/><stop offset="0.9969" stop-color="#0e60ee"/></linearGradient>
<linearGradient id="a39" x1="0" y1="0" x2="0" y2="1"><stop offset="0" stop-color="#2f77f1"/><stop offset="0.1513" stop-color="#3b7ef1"/><stop offset="0.2133" stop-color="#4d8af3"/><stop offset="0.2444" stop-color="#6298f4"/><stop offset="0.2599" stop-color="#78a6f6"/><stop offset="0.2715" stop-color="#96baf8"/><stop offset="0.287" stop-color="#d9e6fc"/><stop offset="0.2909" stop-color="#e4eefd"/><stop offset="0.2948" stop-color="#e9f1fe"/><stop offset="0.3026" stop-color="#e6effd"/><stop offset="0.3064" stop-color="#dde9fd"/><stop offset="0.3142" stop-color="#bbd2fa"/><stop offset="0.3258" stop-color="#84aef6"/><stop offset="0.3375" stop-color="#6398f4"/><stop offset="0.353" stop-color="#4b89f2"/><stop offset="0.384" stop-color="#347af1"/><stop offset="0.4422" stop-color="#2570f0"/><stop offset="0.5469" stop-color="#226ef0"/><stop offset="0.6051" stop-color="#2e75f0"/><stop offset="0.6323" stop-color="#4182f2"/><stop offset="0.6478" stop-color="#5992f3"/><stop offset="0.6594" stop-color="#7ba8f6"/><stop offset="0.6672" stop-color="#a0c1f8"/><stop offset="0.6711" stop-color="#bcd3fa"/><stop offset="0.6749" stop-color="#e0ebfd"/><stop offset="0.6788" stop-color="#fef4eb"/><stop offset="0.6827" stop-color="#fccea7"/><stop offset="0.6866" stop-color="#faad73"/><stop offset="0.6905" stop-color="#faad72"/><stop offset="0.6943" stop-color="#fccda5"/><stop offset="0.6982" stop-color="#fef4ea"/><stop offset="0.7021" stop-color="#dfeafd"/><stop offset="0.706" stop-color="#bad2fa"/><stop offset="0.7099" stop-color="#9ebff8"/><stop offset="0.7176" stop-color="#77a6f6"/><stop offset="0.7292" stop-color="#548ff3"/><stop offset="0.7448" stop-color="#3a7ef1"/><stop offset="0.7719" stop-color="#2570f0"/><stop offset="0.8301" stop-color="#1666ef"/><stop offset="0.9969" stop-color="#0e60ee"/></linearGradient>
<linearGradient id="a40" x1="0" y1="0" x2="0" y2="1"><stop offset="0" stop-color="#3177f1"/><stop offset="0.1435" stop-color="#3e80f2"/><stop offset="0.2056" stop-color="#518cf3"/><stop offset="0.2366" stop-color="#669bf4"/><stop offset="0.2521" stop-color="#7ca9f6"/><stop offset="0.2638" stop-color="#9abcf8"/><stop offset="0.2793" stop-color="#d6e4fc"/><stop offset="0.2832" stop-color="#e2ecfd"/><stop offset="0.2909" stop-color="#e9f0fd"/><stop offset="0.2987" stop-color="#e3ecfd"/><stop offset="0.3064" stop-color="#cbddfb"/><stop offset="0.322" stop-color="#87b0f7"/><stop offset="0.3336" stop-color="#669bf4"/><stop offset="0.3491" stop-color="#4e8bf3"/><stop offset="0.3801" stop-color="#377bf1"/><stop offset="0.4383" stop-color="#2771f0"/><stop offset="0.5431" stop-color="#236ef0"/><stop offset="0.6012" stop-color="#2e75f0"/><stop offset="0.6284" stop-color="#4081f2"/><stop offset="0.6439" stop-color="#5790f3"/><stop offset="0.6555" stop-color="#76a5f5"/><stop offset="0.6633" stop-color="#99bcf8"/><stop offset="0.6672" stop-color="#b2ccfa"/><stop offset="0.6711" stop-color="#d3e2fc"/><stop offset="0.6749" stop-color="#feffff"/><stop offset="0.6788" stop-color="#fddcbd"/><stop offset="0.6827" stop-color="#fbb782"/><stop offset="0.6866" stop-color="#faac71"/><stop offset="0.6905" stop-color="#fcc597"/><stop offset="0.6943" stop-color="#feebda"/><stop offset="0.6982" stop-color="#eaf1fe"/><stop offset="0.7021" stop-color="#c2d7fb"/><stop offset="0.706" stop-color="#a4c3f9"/><stop offset="0.7137" stop-color="#7ba8f6"/><stop offset="0.7254" stop-color="#5690f3"/><stop offset="0.7409" stop-color="#3b7ef1"/><stop offset="0.768" stop-color="#2670f0"/><stop offset="0.8262" stop-color="#1666ef"/><stop offset="0.9969" stop-color="#0e60ee"/></linearGradient>
<linearGradient id="a41" x1="0" y1="0" x2="0" y2="1"><stop offset="0" stop-color="#3077f1"/><stop offset="0.1435" stop-color="#3e80f2"/><stop offset="0.2056" stop-color="#518df3"/><stop offset="0.2366" stop-color="#699df5"/><stop offset="0.2521" stop-color="#84aef6"/><stop offset="0.2638" stop-color="#aac7f9"/><stop offset="0.2754" stop-color="#dae7fc"/><stop offset="0.2793" stop-color="#e3edfd"/><stop offset="0.287" stop-color="#e6effd"/><stop offset="0.2948" stop-color="#dce8fd"/><stop offset="0.3026" stop-color="#bed5fb"/><stop offset="0.3142" stop-color="#89b1f7"/><stop offset="0.3258" stop-color="#669bf4"/><stop offset="0.3413" stop-color="#4d8af3"/><stop offset="0.3685" stop-color="#387cf1"/><stop offset="0.4228" stop-color="#2771f0"/><stop offset="0.5275" stop-color="#226df0"/><stop offset="0.5935" stop-color="#2b74f0"/><stop offset="0.6245" stop-color="#3e80f2"/><stop offset="0.64" stop-color="#538ef3"/><stop offset="0.6517" stop-color="#71a1f5"/><stop offset="0.6594" stop-color="#91b6f7"/><stop offset="0.6633" stop-color="#a7c5f9"/><stop offset="0.6672" stop-color="#c5d9fb"/><stop offset="0.6711" stop-color="#edf3fe"/><stop offset="0.6749" stop-color="#feead7"/><stop offset="0.6788" stop-color="#fcc497"/><stop offset="0.6827" stop-color="#faaf75"/><stop offset="0.6866" stop-color="#fbbd8c"/><stop offset="0.6905" stop-color="#fee2c8"/><stop offset="0.6943" stop-color="#f6f9fe"/><stop offset="0.6982" stop-color="#cbddfb"/><stop offset="0.7021" stop-color="#abc8f9"/><stop offset="0.706" stop-color="#92b7f7"/><stop offset="0.7137" stop-color="#6fa0f5"/><stop offset="0.7254" stop-color="#4f8cf3"/><stop offset="0.7409" stop-color="#387cf1"/><stop offset="0.768" stop-color="#246ff0"/><stop offset="0.8301" stop-color="#1565ef"/><stop offset="0.9969" stop-color="#0d60ee"/></linearGradient>
<linearGradient id="a42" x1="0" y1="0" x2="0" y2="1"><stop offset="0" stop-color="#3278f1"/><stop offset="0.1358" stop-color="#4081f2"/><stop offset="0.1978" stop-color="#548ff3"/><stop offset="0.2289" stop-color="#6c9ff5"/><stop offset="0.2444" stop-color="#87b0f7"/><stop offset="0.256" stop-color="#abc8f9"/><stop offset="0.2676" stop-color="#d7e5fc"/><stop offset="0.2754" stop-color="#e5eefd"/><stop offset="0.287" stop-color="#e0ebfd"/><stop offset="0.2948" stop-color="#cbddfb"/><stop offset="0.3103" stop-color="#89b1f7"/><stop offset="0.322" stop-color="#689cf4"/><stop offset="0.3375" stop-color="#4f8bf3"/><stop offset="0.3685" stop-color="#387cf1"/><stop offset="0.4267" stop-color="#2771f0"/><stop offset="0.5314" stop-color="#226ef0"/><stop offset="0.5935" stop-color="#2c75f0"/><stop offset="0.6206" stop-color="#3d7ff2"/><stop offset="0.6362" stop-color="#518cf3"/><stop offset="0.6478" stop-color="#6c9ef5"/><stop offset="0.6555" stop-color="#89b2f7"/><stop offset="0.6594" stop-color="#9ebff8"/><stop offset="0.6633" stop-color="#b9d1fa"/><stop offset="0.6672" stop-color="#dce8fd"/><stop offset="0.6711" stop-color="#fff7f0"/><stop offset="0.6749" stop-color="#fdd4af"/><stop offset="0.6788" stop-color="#fbb580"/><stop offset="0.6827" stop-color="#fbb783"/><stop offset="0.6866" stop-color="#fdd8b6"/><stop offset="0.6905" stop-color="#fffbf8"/><stop offset="0.6943" stop-color="#d6e4fc"/><stop offset="0.6982" stop-color="#b3cdfa"/><stop offset="0.7021" stop-color="#98bcf8"/><stop offset="0.7099" stop-color="#73a3f5"/><stop offset="0.7215" stop-color="#528df3"/><stop offset="0.737" stop-color="#397df1"/><stop offset="0.7642" stop-color="#256ff0"/><stop offset="0.8223" stop-color="#1666ef"/><stop offset="0.9969" stop-color="#0e60ee"/></linearGradient>
<linearGradient id="a43" x1="0" y1="0" x2="0" y2="1"><stop offset="0" stop-color="#3279f1"/><stop offset="0.128" stop-color="#4082f2"/><stop offset="0.1901" stop-color="#558ff3"/><stop offset="0.2211" stop-color="#6d9ff5"/><stop offset="0.2366" stop-color="#86aff7"/><stop offset="0.2483" stop-color="#a8c6f9"/><stop offset="0.2599" stop-color="#d3e2fc"/><stop offset="0.2676" stop-color="#e2ecfd"/><stop offset="0.2793" stop-color="#e1ebfd"/><stop offset="0.287" stop-color="#d2e1fc"/><stop offset="0.3064" stop-color="#85aff7"/><stop offset="0.3181" stop-color="#669af4"/><stop offset="0.3336" stop-color="#4e8bf3"/><stop offset="0.3646" stop-color="#387cf1"/><stop offset="0.4267" stop-color="#2771f0"/><stop offset="0.5353" stop-color="#236ef0"/><stop offset="0.5935" stop-color="#2d75f0"/><stop offset="0.6206" stop-color="#3f81f2"/><stop offset="0.6362" stop-color="#558ff3"/><stop offset="0.6478" stop-color="#73a3f5"/><stop offset="0.6555" stop-color="#95b9f8"/><stop offset="0.6594" stop-color="#adc9f9"/><stop offset="0.6633" stop-color="#ccdefb"/><stop offset="0.6672" stop-color="#f6f9fe"/><stop offset="0.6711" stop-color="#fee3ca"/><stop offset="0.6749" stop-color="#fcc191"/><stop offset="0.6788" stop-color="#fbb580"/><stop offset="0.6827" stop-color="#fccda4"/><stop offset="0.6866" stop-color="#fef1e4"/><stop offset="0.6905" stop-color="#e3edfd"/><stop offset="0.6943" stop-color="#bdd4fa"/><stop offset="0.6982" stop-color="#a0c0f8"/><stop offset="0.706" stop-color="#78a6f6"/><stop offset="0.7176" stop-color="#548ff3"/><stop offset="0.7331" stop-color="#3a7ef1"/><stop offset="0.7603" stop-color="#2570f0"/><stop offset="0.8185" stop-color="#1666ef"/><stop offset="0.9969" stop-color="#0e60ee"/></linearGradient>
<linearGradient id="a44" x1="0" y1="0" x2="0" y2="1"><stop offset="0" stop-color="#3279f1"/><stop offset="0.128" stop-color="#4182f2"/><stop offset="0.1862" stop-color="#548ff3"/><stop offset="0.2172" stop-color="#6d9ff5"/><stop offset="0.2327" stop-color="#88b1f7"/><stop offset="0.2444" stop-color="#adc9f9"/><stop offset="0.256" stop-color="#d6e4fc"/><stop offset="0.2638" stop-color="#e1ecfd"/><stop offset="0.2754" stop-color="#dce8fd"/><stop offset="0.2832" stop-color="#c8dbfb"/><stop offset="0.2987" stop-color="#87b0f7"/><stop offset="0.3103" stop-color="#669bf4"/><stop offset="0.3258" stop-color="#4e8bf3"/><stop offset="0.3569" stop-color="#377cf1"/><stop offset="0.4189" stop-color="#2771f0"/><stop offset="0.5275" stop-color="#226ef0"/><stop offset="0.5896" stop-color="#2c75f0"/><stop offset="0.6168" stop-color="#3d7ff2"/><stop offset="0.6323" stop-color="#518df3"/><stop offset="0.6439" stop-color="#6d9ff5"/><stop offset="0.6517" stop-color="#8bb3f7"/><stop offset="0.6555" stop-color="#a1c1f8"/><stop offset="0.6594" stop-color="#bdd3fa"/><stop offset="0.6633" stop-color="#e2ecfd"/><stop offset="0.6672" stop-color="#fef3e8"/><stop offset="0.6711" stop-color="#fdd0a9"/><stop offset="0.6749" stop-color="#fbb985"/><stop offset="0.6788" stop-color="#fcc496"/><stop offset="0.6827" stop-color="#fee5cf"/><stop offset="0.6866" stop-color="#f2f7fe"/><stop offset="0.6905" stop-color="#c8dbfb"/><stop offset="0.6943" stop-color="#a8c6f9"/><stop offset="0.6982" stop-color="#90b6f7"/><stop offset="0.706" stop-color="#6e9ff5"/><stop offset="0.7176" stop-color="#4e8bf3"/><stop offset="0.7331" stop-color="#377cf1"/><stop offset="0.7603" stop-color="#246ff0"/><stop offset="0.8223" stop-color="#1565ef"/><stop offset="0.9969" stop-color="#0d60ee"/></linearGradient>
<linearGradient id="a45" x1="0" y1="0" x2="0" y2="1"><stop offset="0" stop-color="#347af1"/><stop offset="0.1202" stop-color="#4484f2"/><stop offset="0.1784" stop-color="#5992f3"/><stop offset="0.2056" stop-color="#6e9ff5"/><stop offset="0.2211" stop-color="#85aff7"/><stop offset="0.2327" stop-color="#a4c3f9"/><stop offset="0.2483" stop-color="#d6e4fc"/><stop offset="0.256" stop-color="#e1ebfd"/><stop offset="0.2676" stop-color="#dde9fd"/><stop offset="0.2754" stop-color="#d1e1fc"/><stop offset="0.287" stop-color="#a7c5f9"/><stop offset="0.2987" stop-color="#7daaf6"/><stop offset="0.3103" stop-color="#6298f4"/><stop offset="0.3297" stop-color="#4988f2"/><stop offset="0.3685" stop-color="#3479f1"/><stop offset="0.4461" stop-color="#2570f0"/><stop offset="0.5508" stop-color="#2570f0"/><stop offset="0.5974" stop-color="#3178f1"/><stop offset="0.6206" stop-color="#4384f2"/><stop offset="0.6362" stop-color="#5e95f4"/><stop offset="0.6439" stop-color="#74a4f5"/><stop offset="0.6517" stop-color="#96baf8"/><stop offset="0.6555" stop-color="#afcaf9"/><stop offset="0.6594" stop-color="#cfe0fc"/><stop offset="0.6633" stop-color="#fafcff"/><stop offset="0.6672" stop-color="#fde1c6"/><stop offset="0.6711" stop-color="#fcc293"/><stop offset="0.6749" stop-color="#fbbe8d"/><stop offset="0.6788" stop-color="#fdd9b8"/><stop offset="0.6827" stop-color="#fffbf8"/><stop offset="0.6866" stop-color="#d7e4fc"/><stop offset="0.6905" stop-color="#b3cdfa"/><stop offset="0.6943" stop-color="#98bbf8"/><stop offset="0.7021" stop-color="#73a3f5"/><stop offset="0.7137" stop-color="#518df3"/><stop offset="0.7292" stop-color="#397df1"/><stop offset="0.7564" stop-color="#2570f0"/><stop offset="0.8146" stop-color="#1666ef"/><stop offset="0.9969" stop-color="#0e60ee"/></linearGradient>
<linearGradient id="a46" x1="0" y1="0" x2="0" y2="1"><stop offset="0" stop-color="#347af1"/><stop offset="0.1164" stop-color="#4384f2"/><stop offset="0.1746" stop-color="#5891f3"/><stop offset="0.2017" stop-color="#6d9ff5"/><stop offset="0.2172" stop-color="#86aff7"/><stop offset="0.2289" stop-color="#a8c6f9"/><stop offset="0.2405" stop-color="#d0e0fc"/><stop offset="0.2483" stop-color="#dee9fd"/><stop offset="0.2599" stop-color="#dce8fd"/><stop offset="0.2676" stop-color="#d2e2fc"/><stop offset="0.2754" stop-color="#bad2fa"/><stop offset="0.2909" stop-color="#7eaaf6"/><stop offset="0.3026" stop-color="#6197f4"/><stop offset="0.322" stop-color="#4887f2"/><stop offset="0.3607" stop-color="#3379f1"/><stop offset="0.4383" stop-color="#246ff0"/><stop offset="0.5469" stop-color="#246ff0"/><stop offset="0.5935" stop-color="#3077f1"/><stop offset="0.6168" stop-color="#4182f2"/><stop offset="0.6323" stop-color="#5992f3"/><stop offset="0.6439" stop-color="#7ba8f6"/><stop offset="0.6517" stop-color="#a2c2f9"/><stop offset="0.6555" stop-color="#bfd5fb"/><stop offset="0.6594" stop-color="#e4eefd"/><stop offset="0.6633" stop-color="#fef1e5"/><stop offset="0.6672" stop-color="#fdd0a9"/><stop offset="0.6711" stop-color="#fbbd8c"/><stop offset="0.6749" stop-color="#fccda4"/><stop offset="0.6788" stop-color="#feeede"/><stop offset="0.6827" stop-color="#e8f0fd"/><stop offset="0.6866" stop-color="#c0d6fb"/><stop offset="0.6905" stop-color="#a2c2f9"/><stop offset="0.6982" stop-color="#79a7f6"/><stop offset="0.7099" stop-color="#558ff3"/><stop offset="0.7254" stop-color="#3b7ef1"/><stop offset="0.7525" stop-color="#2570f0"/><stop offset="0.8107" stop-color="#1666ef"/><stop offset="0.9969" stop-color="#0d60ee"/></linearGradient>
<linearGradient id="a47" x1="0" y1="0" x2="0" y2="1"><stop offset="0" stop-color="#357af1"/><stop offset="0.1125" stop-color="#4585f2"/><stop offset="0.1707" stop-color="#5a93f4"/><stop offset="0.1978" stop-color="#71a2f5"/><stop offset="0.2095" stop-color="#85aff7"/><stop offset="0.2211" stop-color="#a5c4f9"/><stop offset="0.2327" stop-color="#cddefc"/><stop offset="0.2405" stop-color="#dbe8fd"/><stop offset="0.2521" stop-color="#dce8fd"/><stop offset="0.2599" stop-color="#d5e3fc"/><stop offset="0.2676" stop-color="#c1d6fb"/><stop offset="0.287" stop-color="#79a7f6"/><stop offset="0.2987" stop-color="#5e95f4"/><stop offset="0.3181" stop-color="#4786f2"/><stop offset="0.3569" stop-color="#3379f1"/><stop offset="0.4383" stop-color="#246ff0"/><stop offset="0.5469" stop-color="#256ff0"/><stop offset="0.5935" stop-color="#3178f1"/><stop offset="0.6168" stop-color="#4384f2"/><stop offset="0.6323" stop-color="#5e95f4"/><stop offset="0.64" stop-color="#74a4f5"/><stop offset="0.6478" stop-color="#96baf8"/><stop offset="0.6517" stop-color="#afcbf9"/><stop offset="0.6555" stop-color="#d0e0fc"/><stop offset="0.6594" stop-color="#fbfdff"/><stop offset="0.6633" stop-color="#fde0c6"/><stop offset="0.6672" stop-color="#fcc497"/><stop offset="0.6711" stop-color="#fcc395"/><stop offset="0.6749" stop-color="#fddfc3"/><stop offset="0.6788" stop-color="#fdfeff"/><stop offset="0.6827" stop-color="#d0e0fc"/><stop offset="0.6866" stop-color="#aecaf9"/><stop offset="0.6905" stop-color="#94b9f8"/><stop offset="0.6982" stop-color="#70a1f5"/><stop offset="0.7099" stop-color="#508cf3"/><stop offset="0.7254" stop-color="#387cf1"/><stop offset="0.7525" stop-color="#246ff0"/><stop offset="0.8146" stop-color="#1565ef"/><stop offset="0.9969" stop-color="#0d60ee"/></linearGradient>
<linearGradient id="a48" x1="0" y1="0" x2="0" y2="1"><stop offset="0" stop-color="#377cf1"/><stop offset="0.1086" stop-color="#4887f2"/><stop offset="0.1629" stop-color="#5d95f4"/><stop offset="0.1901" stop-color="#74a4f5"/><stop offset="0.2056" stop-color="#91b7f7"/><stop offset="0.225" stop-color="#cddefc"/><stop offset="0.2327" stop-color="#dae7fc"/><stop offset="0.2483" stop-color="#d9e6fc"/><stop offset="0.256" stop-color="#d1e0fc"/><stop offset="0.2638" stop-color="#bcd3fa"/><stop offset="0.2832" stop-color="#78a6f6"/><stop offset="0.2948" stop-color="#5f96f4"/><stop offset="0.3142" stop-color="#4887f2"/><stop offset="0.353" stop-color="#3479f1"/><stop offset="0.4344" stop-color="#2570f0"/><stop offset="0.5431" stop-color="#2570f0"/><stop offset="0.5896" stop-color="#3077f1"/><stop offset="0.6129" stop-color="#4182f2"/><stop offset="0.6284" stop-color="#5992f3"/><stop offset="0.64" stop-color="#7ba8f6"/><stop offset="0.6478" stop-color="#a2c2f9"/><stop offset="0.6517" stop-color="#bed4fa"/><stop offset="0.6555" stop-color="#e3edfd"/><stop offset="0.6594" stop-color="#fef2e7"/><stop offset="0.6633" stop-color="#fdd2ac"/><stop offset="0.6672" stop-color="#fcc192"/><stop offset="0.6711" stop-color="#fdd1aa"/><stop offset="0.6749" stop-color="#fef1e5"/><stop offset="0.6788" stop-color="#e4edfd"/><stop offset="0.6827" stop-color="#bdd4fa"/><stop offset="0.6866" stop-color="#a0c0f8"/><stop offset="0.6943" stop-color="#78a6f6"/><stop offset="0.706" stop-color="#548ff3"/><stop offset="0.7215" stop-color="#3a7ef1"/><stop offset="0.7486" stop-color="#2570f0"/><stop offset="0.8068" stop-color="#1666ef"/><stop offset="0.993" stop-color="#0e60ee"/><stop offset="0.9969" stop-color="#0e60ee"/></linearGradient>
<linearGradient id="a49" x1="0" y1="0" x2="0" y2="1"><stop offset="0" stop-color="#367bf1"/><stop offset="0.1086" stop-color="#4786f2"/><stop offset="0.1629" stop-color="#5d95f4"/><stop offset="0.1862" stop-color="#72a2f5"/><stop offset="0.1978" stop-color="#87b0f7"/><stop offset="0.2095" stop-color="#a9c6f9"/><stop offset="0.2211" stop-color="#cedffc"/><stop offset="0.2289" stop-color="#d8e5fc"/><stop offset="0.2444" stop-color="#d4e3fc"/><stop offset="0.2521" stop-color="#c7dafb"/><stop offset="0.2638" stop-color="#9ebff8"/><stop offset="0.2754" stop-color="#75a4f5"/><stop offset="0.287" stop-color="#5b93f4"/><stop offset="0.3064" stop-color="#4585f2"/><stop offset="0.3491" stop-color="#3177f1"/><stop offset="0.4383" stop-color="#236ef0"/><stop offset="0.5469" stop-color="#2570f0"/><stop offset="0.5935" stop-color="#3379f1"/><stop offset="0.6168" stop-color="#4886f2"/><stop offset="0.6284" stop-color="#5d94f4"/><stop offset="0.6362" stop-color="#72a3f5"/><stop offset="0.6439" stop-color="#94b9f8"/><stop offset="0.6478" stop-color="#adc9f9"/><stop offset="0.6517" stop-color="#cddefc"/><stop offset="0.6555" stop-color="#f7fafe"/><stop offset="0.6594" stop-color="#fee4cc"/><stop offset="0.6633" stop-color="#fcc89d"/><stop offset="0.6672" stop-color="#fcc79b"/><stop offset="0.6711" stop-color="#fee1c7"/><stop offset="0.6749" stop-color="#fbfcff"/><stop offset="0.6788" stop-color="#cfdffc"/><stop offset="0.6827" stop-color="#adc9f9"/><stop offset="0.6866" stop-color="#93b8f8"/><stop offset="0.6943" stop-color="#70a1f5"/><stop offset="0.706" stop-color="#4f8cf3"/><stop offset="0.7215" stop-color="#387cf1"/><stop offset="0.7486" stop-color="#246ff0"/><stop offset="0.8107" stop-color="#1565ef"/><stop offset="0.9969" stop-color="#0d60ee"/></linearGradient>
<linearGradient id="a50" x1="0" y1="0" x2="0" y2="1"><stop offset="0" stop-color="#397df1"/><stop offset="0.1047" stop-color="#4b89f3"/><stop offset="0.1552" stop-color="#6197f4"/><stop offset="0.1784" stop-color="#76a5f6"/><stop offset="0.1901" stop-color="#8cb3f7"/><stop offset="0.2133" stop-color="#cddefc"/><stop offset="0.2211" stop-color="#d6e4fc"/><stop offset="0.2405" stop-color="#d0e0fc"/><stop offset="0.2483" stop-color="#c2d7fb"/><stop offset="0.2715" stop-color="#75a4f5"/><stop offset="0.2832" stop-color="#5c94f4"/><stop offset="0.3026" stop-color="#4786f2"/><stop offset="0.3452" stop-color="#3278f1"/><stop offset="0.4344" stop-color="#246ff0"/><stop offset="0.5431" stop-color="#2570f0"/><stop offset="0.5896" stop-color="#3278f1"/><stop offset="0.6129" stop-color="#4585f2"/><stop offset="0.6284" stop-color="#6197f4"/><stop offset="0.6362" stop-color="#79a7f6"/><stop offset="0.6439" stop-color="#9ebff8"/><stop offset="0.6478" stop-color="#b9d1fa"/><stop offset="0.6517" stop-color="#dde9fd"/><stop offset="0.6555" stop-color="#fff7f0"/><stop offset="0.6594" stop-color="#fdd8b5"/><stop offset="0.6633" stop-color="#fcc598"/><stop offset="0.6672" stop-color="#fdd2ac"/><stop offset="0.6711" stop-color="#fef1e4"/><stop offset="0.6749" stop-color="#e5eefd"/><stop offset="0.6788" stop-color="#bed4fa"/><stop offset="0.6827" stop-color="#a0c1f8"/><stop offset="0.6905" stop-color="#78a6f6"/><stop offset="0.7021" stop-color="#548ff3"/><stop offset="0.7176" stop-color="#3a7ef1"/><stop offset="0.7448" stop-color="#2570f0"/><stop offset="0.8029" stop-color="#1666ef"/><stop offset="0.9891" stop-color="#0e60ee"/><stop offset="0.9969" stop-color="#0e60ee"/></linearGradient>
<linearGradient id="a51" x1="0" y1="0" x2="0" y2="1"><stop offset="0" stop-color="#397df1"/><stop offset="0.1009" stop-color="#4c89f3"/><stop offset="0.1513" stop-color="#6298f4"/><stop offset="0.1746" stop-color="#79a7f6"/><stop offset="0.1862" stop-color="#91b7f7"/><stop offset="0.2056" stop-color="#c9dbfb"/><stop offset="0.2133" stop-color="#d3e2fc"/><stop offset="0.2327" stop-color="#cedffc"/><stop offset="0.2405" stop-color="#c3d7fb"/><stop offset="0.2521" stop-color="#9ec0f8"/><stop offset="0.2638" stop-color="#77a6f6"/><stop offset="0.2754" stop-color="#5d95f4"/><stop offset="0.2948" stop-color="#4786f2"/><stop offset="0.3375" stop-color="#3278f1"/><stop offset="0.4267" stop-color="#246ff0"/><stop offset="0.5392" stop-color="#256ff0"/><stop offset="0.5857" stop-color="#3077f1"/><stop offset="0.609" stop-color="#4283f2"/><stop offset="0.6245" stop-color="#5b93f4"/><stop offset="0.6362" stop-color="#7eaaf6"/><stop offset="0.64" stop-color="#90b6f7"/><stop offset="0.6439" stop-color="#a7c5f9"/><stop offset="0.6478" stop-color="#c6d9fb"/><stop offset="0.6517" stop-color="#eef4fe"/><stop offset="0.6555" stop-color="#feebd9"/><stop offset="0.6594" stop-color="#fccfa7"/><stop offset="0.6633" stop-color="#fcc89d"/><stop offset="0.6672" stop-color="#fddfc4"/><stop offset="0.6711" stop-color="#feffff"/><stop offset="0.6749" stop-color="#d2e1fc"/><stop offset="0.6788" stop-color="#afcbf9"/><stop offset="0.6827" stop-color="#95b9f8"/><stop offset="0.6905" stop-color="#71a2f5"/><stop offset="0.7021" stop-color="#508cf3"/><stop offset="0.7176" stop-color="#387cf1"/><stop offset="0.7448" stop-color="#246ff0"/><stop offset="0.8068" stop-color="#1565ef"/><stop offset="0.9969" stop-color="#0d60ee"/></linearGradient>
<linearGradient id="a52" x1="0" y1="0" x2="0" y2="1"><stop offset="0" stop-color="#3a7df1"/><stop offset="0.1009" stop-color="#4d8af3"/><stop offset="0.1474" stop-color="#6197f4"/><stop offset="0.1668" stop-color="#74a4f5"/><stop offset="0.1784" stop-color="#8ab2f7"/><stop offset="0.1978" stop-color="#c3d7fb"/><stop offset="0.2056" stop-color="#cfdffc"/><stop offset="0.2211" stop-color="#cedffc"/><stop offset="0.2327" stop-color="#c2d7fb"/><stop offset="0.2405" stop-color="#adc9f9"/><stop offset="0.256" stop-color="#76a5f6"/><stop offset="0.2676" stop-color="#5c94f4"/><stop offset="0.287" stop-color="#4585f2"/><stop offset="0.3297" stop-color="#3178f1"/><stop offset="0.4228" stop-color="#236ef0"/><stop offset="0.5392" stop-color="#246ff0"/><stop offset="0.5857" stop-color="#3177f1"/><stop offset="0.609" stop-color="#4384f2"/><stop offset="0.6245" stop-color="#5e95f4"/><stop offset="0.6323" stop-color="#74a4f5"/><stop offset="0.64" stop-color="#97bbf8"/><stop offset="0.6439" stop-color="#b1ccfa"/><stop offset="0.6478" stop-color="#d3e2fc"/><stop offset="0.6517" stop-color="#fefeff"/><stop offset="0.6555" stop-color="#fde0c6"/><stop offset="0.6594" stop-color="#fccaa0"/><stop offset="0.6633" stop-color="#fdd1ab"/><stop offset="0.6672" stop-color="#feeddd"/><stop offset="0.6711" stop-color="#eaf1fe"/><stop offset="0.6749" stop-color="#c2d7fb"/><stop offset="0.6788" stop-color="#a3c3f9"/><stop offset="0.6827" stop-color="#8cb3f7"/><stop offset="0.6905" stop-color="#6b9ef5"/><stop offset="0.7021" stop-color="#4d8af3"/><stop offset="0.7215" stop-color="#3279f1"/><stop offset="0.7564" stop-color="#1f6cef"/><stop offset="0.8379" stop-color="#1263ef"/><stop offset="0.9969" stop-color="#0d60ee"/></linearGradient>
<linearGradient id="a53" x1="0" y1="0" x2="0" y2="1"><stop offset="0" stop-color="#3c7ff1"/><stop offset="0.09697" stop-color="#508cf3"/><stop offset="0.1435" stop-color="#689bf4"/><stop offset="0.1629" stop-color="#7fabf6"/><stop offset="0.1784" stop-color="#a4c3f9"/><stop offset="0.1901" stop-color="#c4d8fb"/><stop offset="0.1978" stop-color="#cedffc"/><stop offset="0.2172" stop-color="#cadcfb"/><stop offset="0.2289" stop-color="#bdd3fa"/><stop offset="0.2405" stop-color="#9bbdf8"/><stop offset="0.256" stop-color="#6b9ef5"/><stop offset="0.2715" stop-color="#518df3"/><stop offset="0.2987" stop-color="#3d7ff2"/><stop offset="0.3607" stop-color="#2b73f0"/><stop offset="0.481" stop-color="#226ef0"/><stop offset="0.5625" stop-color="#2972f0"/><stop offset="0.5974" stop-color="#397df1"/><stop offset="0.6168" stop-color="#518cf3"/><stop offset="0.6284" stop-color="#6c9ef5"/><stop offset="0.6362" stop-color="#8ab2f7"/><stop offset="0.64" stop-color="#9fc0f8"/><stop offset="0.6439" stop-color="#bbd2fa"/><stop offset="0.6478" stop-color="#e0ebfd"/><stop offset="0.6517" stop-color="#fff5ed"/><stop offset="0.6555" stop-color="#fdd8b6"/><stop offset="0.6594" stop-color="#fccba1"/><stop offset="0.6633" stop-color="#fddbbc"/><stop offset="0.6672" stop-color="#fffaf5"/><stop offset="0.6711" stop-color="#dae6fc"/><stop offset="0.6749" stop-color="#b5cffa"/><stop offset="0.6788" stop-color="#9abcf8"/><stop offset="0.6866" stop-color="#73a3f5"/><stop offset="0.6982" stop-color="#528df3"/><stop offset="0.7137" stop-color="#397df1"/><stop offset="0.7409" stop-color="#2570f0"/><stop offset="0.7991" stop-color="#1666ef"/><stop offset="0.9891" stop-color="#0e60ee"/><stop offset="0.9969" stop-color="#0d60ee"/></linearGradient>
<linearGradient id="a54" x1="0" y1="0" x2="0" y2="1"><stop offset="0" stop-color="#3b7ef1"/><stop offset="0.0931" stop-color="#4e8bf3"/><stop offset="0.1396" stop-color="#659af4"/><stop offset="0.1552" stop-color="#75a5f5"/><stop offset="0.1668" stop-color="#8db4f7"/><stop offset="0.1862" stop-color="#c3d8fb"/><stop offset="0.1939" stop-color="#cbddfb"/><stop offset="0.2133" stop-color="#c5d9fb"/><stop offset="0.2211" stop-color="#bad2fa"/><stop offset="0.2327" stop-color="#96baf8"/><stop offset="0.2444" stop-color="#70a1f5"/><stop offset="0.256" stop-color="#5791f3"/><stop offset="0.2754" stop-color="#4283f2"/><stop offset="0.322" stop-color="#2f76f1"/><stop offset="0.4228" stop-color="#226ef0"/><stop offset="0.5392" stop-color="#246ff0"/><stop offset="0.5857" stop-color="#3278f1"/><stop offset="0.609" stop-color="#4685f2"/><stop offset="0.6206" stop-color="#5a93f4"/><stop offset="0.6323" stop-color="#7daaf6"/><stop offset="0.6362" stop-color="#8fb5f7"/><stop offset="0.64" stop-color="#a6c5f9"/><stop offset="0.6439" stop-color="#c4d9fb"/><stop offset="0.6478" stop-color="#ecf3fe"/><stop offset="0.6517" stop-color="#feeddd"/><stop offset="0.6555" stop-color="#fdd3ad"/><stop offset="0.6594" stop-color="#fccfa8"/><stop offset="0.6633" stop-color="#fee6d0"/><stop offset="0.6672" stop-color="#f5f9fe"/><stop offset="0.6711" stop-color="#cbddfb"/><stop offset="0.6749" stop-color="#aac7f9"/><stop offset="0.6788" stop-color="#91b7f7"/><stop offset="0.6866" stop-color="#6ea0f5"/><stop offset="0.6982" stop-color="#4e8bf3"/><stop offset="0.7137" stop-color="#377cf1"/><stop offset="0.7409" stop-color="#246ff0"/><stop offset="0.8029" stop-color="#1565ef"/><stop offset="0.9969" stop-color="#0d60ee"/></linearGradient>
<linearGradient id="a55" x1="0" y1="0" x2="0" y2="1"><stop offset="0" stop-color="#3d80f2"/><stop offset="0.0931" stop-color="#528df3"/><stop offset="0.1319" stop-color="#669af4"/><stop offset="0.1513" stop-color="#7da9f6"/><stop offset="0.1629" stop-color="#98bbf8"/><stop offset="0.1784" stop-color="#c1d6fb"/><stop offset="0.1901" stop-color="#c9dbfb"/><stop offset="0.2095" stop-color="#c0d5fb"/><stop offset="0.2172" stop-color="#b3cdfa"/><stop offset="0.2405" stop-color="#6a9df5"/><stop offset="0.256" stop-color="#4f8bf3"/><stop offset="0.2832" stop-color="#3b7ef1"/><stop offset="0.3491" stop-color="#2972f0"/><stop offset="0.4771" stop-color="#216df0"/><stop offset="0.5586" stop-color="#2872f0"/><stop offset="0.5935" stop-color="#377cf1"/><stop offset="0.6129" stop-color="#4d8af3"/><stop offset="0.6245" stop-color="#669bf4"/><stop offset="0.6323" stop-color="#81acf6"/><stop offset="0.6362" stop-color="#94b9f8"/><stop offset="0.64" stop-color="#adc9f9"/><stop offset="0.6439" stop-color="#cedffc"/><stop offset="0.6478" stop-color="#f8faff"/><stop offset="0.6517" stop-color="#fee5cf"/><stop offset="0.6555" stop-color="#fdd0a9"/><stop offset="0.6594" stop-color="#fdd6b3"/><stop offset="0.6633" stop-color="#fef1e4"/><stop offset="0.6672" stop-color="#e6effd"/><stop offset="0.6711" stop-color="#bfd5fb"/><stop offset="0.6749" stop-color="#a1c1f8"/><stop offset="0.6788" stop-color="#8ab2f7"/><stop offset="0.6866" stop-color="#699df5"/><stop offset="0.6982" stop-color="#4c89f3"/><stop offset="0.7176" stop-color="#3278f1"/><stop offset="0.7525" stop-color="#1f6cef"/><stop offset="0.834" stop-color="#1263ef"/><stop offset="0.9969" stop-color="#0d60ee"/></linearGradient>
<linearGradient id="a56" x1="0" y1="0" x2="0" y2="1"><stop offset="0" stop-color="#3f81f2"/><stop offset="0.08922" stop-color="#548ff3"/><stop offset="0.128" stop-color="#699df5"/><stop offset="0.1435" stop-color="#7daaf6"/><stop offset="0.159" stop-color="#a3c2f9"/><stop offset="0.1707" stop-color="#bfd5fb"/><stop offset="0.1823" stop-color="#c7dafb"/><stop offset="0.2017" stop-color="#bed4fb"/><stop offset="0.2133" stop-color="#abc8f9"/><stop offset="0.2327" stop-color="#6ea0f5"/><stop offset="0.2444" stop-color="#5690f3"/><stop offset="0.2638" stop-color="#4283f2"/><stop offset="0.3103" stop-color="#3077f1"/><stop offset="0.4151" stop-color="#226ef0"/><stop offset="0.5353" stop-color="#246ff0"/><stop offset="0.5818" stop-color="#3177f1"/><stop offset="0.6051" stop-color="#4384f2"/><stop offset="0.6206" stop-color="#5e95f4"/><stop offset="0.6284" stop-color="#75a5f5"/><stop offset="0.6362" stop-color="#9abcf8"/><stop offset="0.64" stop-color="#b4cefa"/><stop offset="0.6439" stop-color="#d7e5fc"/><stop offset="0.6478" stop-color="#fffdfa"/><stop offset="0.6517" stop-color="#fde0c4"/><stop offset="0.6555" stop-color="#fdd1aa"/><stop offset="0.6594" stop-color="#fdddc0"/><stop offset="0.6633" stop-color="#fffaf6"/><stop offset="0.6672" stop-color="#dae6fc"/><stop offset="0.6711" stop-color="#b5cefa"/><stop offset="0.6749" stop-color="#99bcf8"/><stop offset="0.6827" stop-color="#73a3f5"/><stop offset="0.6943" stop-color="#518df3"/><stop offset="0.7099" stop-color="#397df1"/><stop offset="0.737" stop-color="#246ff0"/><stop offset="0.7952" stop-color="#1666ef"/><stop offset="0.9891" stop-color="#0d60ee"/><stop offset="0.9969" stop-color="#0d60ee"/></linearGradient>
<linearGradient id="a57" x1="0" y1="0" x2="0" y2="1"><stop offset="0" stop-color="#3e80f2"/><stop offset="0.08922" stop-color="#548ef3"/><stop offset="0.1241" stop-color="#679bf4"/><stop offset="0.1396" stop-color="#7ba8f6"/><stop offset="0.1513" stop-color="#98bbf8"/><stop offset="0.1629" stop-color="#b8d0fa"/><stop offset="0.1707" stop-color="#c2d7fb"/><stop offset="0.1901" stop-color="#bed4fa"/><stop offset="0.2017" stop-color="#b1cbfa"/><stop offset="0.2133" stop-color="#8eb5f7"/><stop offset="0.225" stop-color="#699cf5"/><stop offset="0.2366" stop-color="#528df3"/><stop offset="0.2599" stop-color="#3d7ff2"/><stop offset="0.3181" stop-color="#2a73f0"/><stop offset="0.4422" stop-color="#206cf0"/><stop offset="0.5469" stop-color="#2570f0"/><stop offset="0.5857" stop-color="#3379f1"/><stop offset="0.609" stop-color="#4988f2"/><stop offset="0.6206" stop-color="#6096f4"/><stop offset="0.6284" stop-color="#78a6f6"/><stop offset="0.6362" stop-color="#9ebff8"/><stop offset="0.64" stop-color="#bad2fa"/><stop offset="0.6439" stop-color="#dfeafd"/><stop offset="0.6478" stop-color="#fff7f0"/><stop offset="0.6517" stop-color="#fddcbd"/><stop offset="0.6555" stop-color="#fdd3ae"/><stop offset="0.6594" stop-color="#fee5ce"/><stop offset="0.6633" stop-color="#f9fbff"/><stop offset="0.6672" stop-color="#cedffc"/><stop offset="0.6711" stop-color="#acc9f9"/><stop offset="0.6749" stop-color="#92b8f7"/><stop offset="0.6827" stop-color="#6fa0f5"/><stop offset="0.6943" stop-color="#4f8bf3"/><stop offset="0.7099" stop-color="#377cf1"/><stop offset="0.737" stop-color="#246ff0"/><stop offset="0.7991" stop-color="#1565ef"/><stop offset="0.9969" stop-color="#0d60ee"/></linearGradient>
<linearGradient id="a58" x1="0" y1="0" x2="0" y2="1"><stop offset="0" stop-color="#4283f2"/><stop offset="0.08534" stop-color="#5892f3"/><stop offset="0.1164" stop-color="#6b9ef5"/><stop offset="0.1319" stop-color="#81acf6"/><stop offset="0.1552" stop-color="#b9d1fa"/><stop offset="0.1668" stop-color="#c1d7fb"/><stop offset="0.1901" stop-color="#b7d0fa"/><stop offset="0.2017" stop-color="#a2c2f9"/><stop offset="0.2211" stop-color="#689cf5"/><stop offset="0.2366" stop-color="#4d8af3"/><stop offset="0.2638" stop-color="#3a7df1"/><stop offset="0.3336" stop-color="#2872f0"/><stop offset="0.4732" stop-color="#206df0"/><stop offset="0.5586" stop-color="#2872f0"/><stop offset="0.5935" stop-color="#397df1"/><stop offset="0.6129" stop-color="#518df3"/><stop offset="0.6245" stop-color="#6d9ff5"/><stop offset="0.6323" stop-color="#8cb3f7"/><stop offset="0.6362" stop-color="#a2c2f9"/><stop offset="0.64" stop-color="#c0d5fb"/><stop offset="0.6439" stop-color="#e6effd"/><stop offset="0.6478" stop-color="#fef2e7"/><stop offset="0.6517" stop-color="#fddab9"/><stop offset="0.6555" stop-color="#fdd7b4"/><stop offset="0.6594" stop-color="#feecdb"/><stop offset="0.6633" stop-color="#eff4fe"/><stop offset="0.6672" stop-color="#c6d9fb"/><stop offset="0.6711" stop-color="#a6c4f9"/><stop offset="0.6749" stop-color="#8db4f7"/><stop offset="0.6827" stop-color="#6b9ef5"/><stop offset="0.6943" stop-color="#4d8af3"/><stop offset="0.7137" stop-color="#3279f1"/><stop offset="0.7448" stop-color="#206df0"/><stop offset="0.8185" stop-color="#1364ef"/><stop offset="0.9969" stop-color="#0d60ee"/></linearGradient>
<linearGradient id="a59" x1="0" y1="0" x2="0" y2="1"><stop offset="0" stop-color="#4283f2"/><stop offset="0.08534" stop-color="#5992f3"/><stop offset="0.1125" stop-color="#6a9df5"/><stop offset="0.128" stop-color="#82adf6"/><stop offset="0.1474" stop-color="#b3cdfa"/><stop offset="0.1552" stop-color="#bdd4fa"/><stop offset="0.1746" stop-color="#b9d1fa"/><stop offset="0.1862" stop-color="#b0cbf9"/><stop offset="0.1978" stop-color="#94b8f8"/><stop offset="0.2133" stop-color="#6499f4"/><stop offset="0.225" stop-color="#4f8bf3"/><stop offset="0.2483" stop-color="#3c7ff1"/><stop offset="0.3103" stop-color="#2a73f0"/><stop offset="0.4422" stop-color="#206cef"/><stop offset="0.5469" stop-color="#2570f0"/><stop offset="0.5857" stop-color="#3379f1"/><stop offset="0.6051" stop-color="#4585f2"/><stop offset="0.6168" stop-color="#5992f3"/><stop offset="0.6245" stop-color="#6ea0f5"/><stop offset="0.6323" stop-color="#8eb5f7"/><stop offset="0.6362" stop-color="#a6c4f9"/><stop offset="0.64" stop-color="#c4d8fb"/><stop offset="0.6439" stop-color="#ecf2fe"/><stop offset="0.6478" stop-color="#feefe0"/><stop offset="0.6517" stop-color="#fdd9b8"/><stop offset="0.6555" stop-color="#fddbbb"/><stop offset="0.6594" stop-color="#fef2e7"/><stop offset="0.6633" stop-color="#e5eefd"/><stop offset="0.6672" stop-color="#bed4fa"/><stop offset="0.6711" stop-color="#a0c0f8"/><stop offset="0.6749" stop-color="#89b1f7"/><stop offset="0.6827" stop-color="#689cf5"/><stop offset="0.6943" stop-color="#4b89f3"/><stop offset="0.7137" stop-color="#3178f1"/><stop offset="0.7486" stop-color="#1e6bef"/><stop offset="0.834" stop-color="#1263ef"/><stop offset="0.9969" stop-color="#0d60ee"/></linearGradient>
<linearGradient id="a60" x1="0" y1="0" x2="0" y2="1"><stop offset="0" stop-color="#4383f2"/><stop offset="0.08146" stop-color="#5a92f4"/><stop offset="0.1086" stop-color="#6c9ff5"/><stop offset="0.1202" stop-color="#7eaaf6"/><stop offset="0.1396" stop-color="#b0cbf9"/><stop offset="0.1474" stop-color="#bad1fa"/><stop offset="0.1668" stop-color="#b6cffa"/><stop offset="0.1784" stop-color="#aecaf9"/><stop offset="0.1862" stop-color="#9fc0f8"/><stop offset="0.2056" stop-color="#6499f4"/><stop offset="0.2172" stop-color="#4e8bf3"/><stop offset="0.2405" stop-color="#3b7ef1"/><stop offset="0.3026" stop-color="#2973f0"/><stop offset="0.4383" stop-color="#1f6cef"/><stop offset="0.5469" stop-color="#2570f0"/><stop offset="0.5857" stop-color="#3379f1"/><stop offset="0.6051" stop-color="#4685f2"/><stop offset="0.6168" stop-color="#5a92f4"/><stop offset="0.6245" stop-color="#6fa0f5"/><stop offset="0.6323" stop-color="#90b6f7"/><stop offset="0.6362" stop-color="#a8c6f9"/><stop offset="0.64" stop-color="#c8dbfb"/><stop offset="0.6439" stop-color="#f0f5fe"/><stop offset="0.6478" stop-color="#feecdc"/><stop offset="0.6517" stop-color="#fddab9"/><stop offset="0.6555" stop-color="#fddfc3"/><stop offset="0.6594" stop-color="#fff8f2"/><stop offset="0.6633" stop-color="#dde9fd"/><stop offset="0.6672" stop-color="#b8d0fa"/><stop offset="0.6711" stop-color="#9bbdf8"/><stop offset="0.6788" stop-color="#74a4f5"/><stop offset="0.6905" stop-color="#518df3"/><stop offset="0.706" stop-color="#387df1"/><stop offset="0.7331" stop-color="#246ff0"/><stop offset="0.7913" stop-color="#1565ef"/><stop offset="0.9853" stop-color="#0d60ee"/><stop offset="0.9969" stop-color="#0d60ee"/></linearGradient>
<linearGradient id="acb" x1="0" y1="0" x2="0" y2="1"><stop offset="0" stop-color="#e65414"/><stop offset="0.125" stop-color="#f27d3c"/><stop offset="0.25" stop-color="#faaa6e"/><stop offset="0.375" stop-color="#fdd7b4"/><stop offset="0.5" stop-color="#ffffff"/><stop offset="1" stop-color="#0a5eee"/></linearGradient>
<linearGradient id="b0" x1="0" y1="0" x2="0" y2="1"><stop offset="0" stop-color="#2872f0"/><stop offset="0.3413" stop-color="#2b74f0"/><stop offset="0.3957" stop-color="#357af1"/><stop offset="0.4151" stop-color="#4384f2"/><stop offset="0.4267" stop-color="#5992f3"/><stop offset="0.4344" stop-color="#77a6f6"/><stop offset="0.4383" stop-color="#90b6f7"/><stop offset="0.4422" stop-color="#b7d0fa"/><stop offset="0.4461" stop-color="#f7fafe"/><stop offset="0.45" stop-color="#fbbf8f"/><stop offset="0.4538" stop-color="#f89d5f"/><stop offset="0.4577" stop-color="#fee1c8"/><stop offset="0.4616" stop-color="#d6e4fc"/><stop offset="0.4655" stop-color="#a2c2f9"/><stop offset="0.4694" stop-color="#82adf6"/><stop offset="0.4732" stop-color="#6c9ef5"/><stop offset="0.481" stop-color="#518df3"/><stop offset="0.4926" stop-color="#3d80f2"/><stop offset="0.5159" stop-color="#2e76f0"/><stop offset="0.5818" stop-color="#256ff0"/><stop offset="0.7254" stop-color="#2a73f0"/><stop offset="0.7758" stop-color="#387cf1"/><stop offset="0.7991" stop-color="#4a88f2"/><stop offset="0.8146" stop-color="#6298f4"/><stop offset="0.8262" stop-color="#83aef6"/><stop offset="0.834" stop-color="#a8c6f9"/><stop offset="0.8379" stop-color="#c3d7fb"/><stop offset="0.8417" stop-color="#e5eefd"/><stop offset="0.8456" stop-color="#fef2e6"/><stop offset="0.8495" stop-color="#fcca9f"/><stop offset="0.8534" stop-color="#f89d5f"/><stop offset="0.8573" stop-color="#f48848"/><stop offset="0.8611" stop-color="#f89d60"/><stop offset="0.865" stop-color="#fccaa0"/><stop offset="0.8689" stop-color="#fef2e7"/><stop offset="0.8728" stop-color="#e4eefd"/><stop offset="0.8766" stop-color="#c2d7fb"/><stop offset="0.8805" stop-color="#a8c6f9"/><stop offset="0.8883" stop-color="#83aef6"/><stop offset="0.8999" stop-color="#6298f4"/><stop offset="0.9154" stop-color="#4988f2"/><stop offset="0.9426" stop-color="#367bf1"/><stop offset="0.9969" stop-color="#2972f0"/></linearGradient>
<linearGradient id="b1" x1="0" y1="0" x2="0" y2="1"><stop offset="0" stop-color="#2872f0"/><stop offset="0.3336" stop-color="#2b74f0"/><stop offset="0.3918" stop-color="#367bf1"/><stop offset="0.4112" stop-color="#4484f2"/><stop offset="0.4228" stop-color="#5891f3"/><stop offset="0.4306" stop-color="#73a3f5"/><stop offset="0.4344" stop-color="#89b1f7"/><stop offset="0.4383" stop-color="#a9c7f9"/><stop offset="0.4422" stop-color="#dce8fd"/><stop offset="0.4461" stop-color="#fddec2"/><stop offset="0.45" stop-color="#f79b5d"/><stop offset="0.4538" stop-color="#fbb782"/><stop offset="0.4577" stop-color="#fffdfa"/><stop offset="0.4616" stop-color="#bfd5fb"/><stop offset="0.4655" stop-color="#96baf8"/><stop offset="0.4694" stop-color="#7ba8f6"/><stop offset="0.4732" stop-color="#689cf5"/><stop offset="0.481" stop-color="#508cf3"/><stop offset="0.4926" stop-color="#3d80f2"/><stop offset="0.5159" stop-color="#2e76f1"/><stop offset="0.5818" stop-color="#2570f0"/><stop offset="0.7215" stop-color="#2a73f0"/><stop offset="0.7719" stop-color="#387cf1"/><stop offset="0.7952" stop-color="#4b89f3"/><stop offset="0.8107" stop-color="#659af4"/><stop offset="0.8223" stop-color="#89b2f7"/><stop offset="0.8301" stop-color="#b2ccfa"/><stop offset="0.834" stop-color="#cfdffc"/><stop offset="0.8379" stop-color="#f6f9fe"/><stop offset="0.8417" stop-color="#fee4cc"/><stop offset="0.8456" stop-color="#fbb783"/><stop offset="0.8495" stop-color="#f69152"/><stop offset="0.8534" stop-color="#f58d4e"/><stop offset="0.8573" stop-color="#fab077"/><stop offset="0.8611" stop-color="#fdddbf"/><stop offset="0.865" stop-color="#fdfeff"/><stop offset="0.8689" stop-color="#d5e3fc"/><stop offset="0.8728" stop-color="#b6cffa"/><stop offset="0.8805" stop-color="#8cb3f7"/><stop offset="0.8883" stop-color="#71a2f5"/><stop offset="0.8999" stop-color="#5791f3"/><stop offset="0.9193" stop-color="#4082f2"/><stop offset="0.9542" stop-color="#3077f1"/><stop offset="0.9969" stop-color="#2872f0"/></linearGradient>
<linearGradient id="b2" x1="0" y1="0" x2="0" y2="1"><stop offset="0" stop-color="#2872f0"/><stop offset="0.3375" stop-color="#2b74f0"/><stop offset="0.3918" stop-color="#357af1"/><stop offset="0.4112" stop-color="#4484f2"/><stop offset="0.4228" stop-color="#5a93f4"/><stop offset="0.4267" stop-color="#679bf4"/><stop offset="0.4306" stop-color="#79a7f6"/><stop offset="0.4344" stop-color="#94b9f8"/><stop offset="0.4383" stop-color="#bcd3fa"/><stop offset="0.4422" stop-color="#fffefd"/><stop offset="0.4461" stop-color="#fbb57f"/><stop offset="0.45" stop-color="#f79a5c"/><stop offset="0.4538" stop-color="#fee3cb"/><stop offset="0.4577" stop-color="#d4e3fc"/><stop offset="0.4616" stop-color="#a1c1f8"/><stop offset="0.4655" stop-color="#81acf6"/><stop offset="0.4694" stop-color="#6c9ef5"/><stop offset="0.4771" stop-color="#518df3"/><stop offset="0.4888" stop-color="#3d80f2"/><stop offset="0.512" stop-color="#2e76f1"/><stop offset="0.578" stop-color="#2570f0"/><stop offset="0.7137" stop-color="#2a73f0"/><stop offset="0.7642" stop-color="#377cf1"/><stop offset="0.7874" stop-color="#4887f2"/><stop offset="0.8029" stop-color="#6096f4"/><stop offset="0.8146" stop-color="#80abf6"/><stop offset="0.8223" stop-color="#a3c2f9"/><stop offset="0.8262" stop-color="#bcd3fa"/><stop offset="0.8301" stop-color="#dce8fd"/><stop offset="0.834" stop-color="#fff9f5"/><stop offset="0.8379" stop-color="#fdd4b0"/><stop offset="0.8417" stop-color="#f9a76a"/><stop offset="0.8456" stop-color="#f48b4b"/><stop offset="0.8495" stop-color="#f7985a"/><stop offset="0.8534" stop-color="#fcc395"/><stop offset="0.8573" stop-color="#feeddc"/><stop offset="0.8611" stop-color="#ebf2fe"/><stop offset="0.865" stop-color="#c7dafb"/><stop offset="0.8689" stop-color="#acc8f9"/><stop offset="0.8766" stop-color="#85aff7"/><stop offset="0.8883" stop-color="#6399f4"/><stop offset="0.9038" stop-color="#4a88f2"/><stop offset="0.931" stop-color="#367bf1"/><stop offset="0.9891" stop-color="#2872f0"/><stop offset="0.9969" stop-color="#2771f0"/></linearGradient>
<linearGradient id="b3" x1="0" y1="0" x2="0" y2="1"><stop offset="0" stop-color="#2972f0"/><stop offset="0.3258" stop-color="#2c74f0"/><stop offset="0.384" stop-color="#367bf1"/><stop offset="0.4073" stop-color="#4786f2"/><stop offset="0.4189" stop-color="#5d95f4"/><stop offset="0.4267" stop-color="#7ba8f6"/><stop offset="0.4306" stop-color="#93b8f8"/><stop offset="0.4344" stop-color="#b7cffa"/><stop offset="0.4383" stop-color="#eff4fe"/><stop offset="0.4422" stop-color="#fccda5"/><stop offset="0.4461" stop-color="#f69152"/><stop offset="0.45" stop-color="#fbb985"/><stop offset="0.4538" stop-color="#fffdfb"/><stop offset="0.4577" stop-color="#c2d7fb"/><stop offset="0.4616" stop-color="#99bcf8"/><stop offset="0.4655" stop-color="#7eaaf6"/><stop offset="0.4694" stop-color="#6b9ef5"/><stop offset="0.4771" stop-color="#538ef3"/><stop offset="0.4888" stop-color="#3f81f2"/><stop offset="0.512" stop-color="#2f77f1"/><stop offset="0.578" stop-color="#2570f0"/><stop offset="0.7099" stop-color="#2a73f0"/><stop offset="0.7603" stop-color="#387cf1"/><stop offset="0.7836" stop-color="#4a88f2"/><stop offset="0.7991" stop-color="#6398f4"/><stop offset="0.8107" stop-color="#85aff7"/><stop offset="0.8185" stop-color="#abc8f9"/><stop offset="0.8223" stop-color="#c7dafb"/><stop offset="0.8262" stop-color="#ebf2fe"/><stop offset="0.8301" stop-color="#feeddd"/><stop offset="0.834" stop-color="#fcc395"/><stop offset="0.8379" stop-color="#f7995b"/><stop offset="0.8417" stop-color="#f58c4c"/><stop offset="0.8456" stop-color="#faa86c"/><stop offset="0.8495" stop-color="#fdd5b2"/><stop offset="0.8534" stop-color="#fffaf6"/><stop offset="0.8573" stop-color="#dbe8fd"/><stop offset="0.8611" stop-color="#bbd2fa"/><stop offset="0.865" stop-color="#a2c2f9"/><stop offset="0.8728" stop-color="#80abf6"/><stop offset="0.8844" stop-color="#6096f4"/><stop offset="0.8999" stop-color="#4887f2"/><stop offset="0.9271" stop-color="#357af1"/><stop offset="0.9891" stop-color="#2871f0"/><stop offset="0.9969" stop-color="#2771f0"/></linearGradient>
<linearGradient id="b4" x1="0" y1="0" x2="0" y2="1"><stop offset="0" stop-color="#2972f0"/><stop offset="0.3258" stop-color="#2c74f0"/><stop offset="0.384" stop-color="#367bf1"/><stop offset="0.4034" stop-color="#4484f2"/><stop offset="0.4151" stop-color="#5891f3"/><stop offset="0.4228" stop-color="#72a2f5"/><stop offset="0.4267" stop-color="#87b0f7"/><stop offset="0.4306" stop-color="#a5c4f9"/><stop offset="0.4344" stop-color="#d4e3fc"/><stop offset="0.4383" stop-color="#fee9d5"/><stop offset="0.4422" stop-color="#f89f61"/><stop offset="0.4461" stop-color="#f89c5e"/><stop offset="0.45" stop-color="#fee6d1"/><stop offset="0.4538" stop-color="#d6e4fc"/><stop offset="0.4577" stop-color="#a5c4f9"/><stop offset="0.4616" stop-color="#86b0f7"/><stop offset="0.4655" stop-color="#70a1f5"/><stop offset="0.4732" stop-color="#558ff3"/><stop offset="0.4849" stop-color="#4082f2"/><stop offset="0.5081" stop-color="#3077f1"/><stop offset="0.5702" stop-color="#2570f0"/><stop offset="0.7021" stop-color="#2a73f0"/><stop offset="0.7525" stop-color="#377bf1"/><stop offset="0.7797" stop-color="#4c89f3"/><stop offset="0.7952" stop-color="#669af4"/><stop offset="0.8068" stop-color="#8bb3f7"/><stop offset="0.8146" stop-color="#b4cefa"/><stop offset="0.8185" stop-color="#d2e2fc"/><stop offset="0.8223" stop-color="#fafcff"/><stop offset="0.8262" stop-color="#fddfc4"/><stop offset="0.8301" stop-color="#fbb37c"/><stop offset="0.834" stop-color="#f59051"/><stop offset="0.8379" stop-color="#f69355"/><stop offset="0.8417" stop-color="#fbb986"/><stop offset="0.8456" stop-color="#fee5ce"/><stop offset="0.8495" stop-color="#f4f8fe"/><stop offset="0.8534" stop-color="#cddefc"/><stop offset="0.8573" stop-color="#b0cbfa"/><stop offset="0.865" stop-color="#88b1f7"/><stop offset="0.8766" stop-color="#659af4"/><stop offset="0.8922" stop-color="#4b89f3"/><stop offset="0.9193" stop-color="#367bf1"/><stop offset="0.9775" stop-color="#2872f0"/><stop offset="0.9969" stop-color="#2671f0"/></linearGradient>
<linearGradient id="b5" x1="0" y1="0" x2="0" y2="1"><stop offset="0" stop-color="#2972f0"/><stop offset="0.322" stop-color="#2c74f0"/><stop offset="0.3801" stop-color="#367bf1"/><stop offset="0.3995" stop-color="#4383f2"/><stop offset="0.4112" stop-color="#5590f3"/><stop offset="0.4189" stop-color="#6d9ff5"/><stop offset="0.4228" stop-color="#80abf6"/><stop offset="0.4267" stop-color="#9abdf8"/><stop offset="0.4306" stop-color="#c2d7fb"/><stop offset="0.4344" stop-color="#fffcfa"/><stop offset="0.4383" stop-color="#fbb681"/><stop offset="0.4422" stop-color="#f48b4b"/><stop offset="0.4461" stop-color="#fcca9f"/><stop offset="0.45" stop-color="#f0f5fe"/><stop offset="0.4538" stop-color="#b6cffa"/><stop offset="0.4577" stop-color="#91b7f7"/><stop offset="0.4616" stop-color="#78a7f6"/><stop offset="0.4694" stop-color="#5a92f4"/><stop offset="0.481" stop-color="#4283f2"/><stop offset="0.5004" stop-color="#3278f1"/><stop offset="0.5508" stop-color="#2771f0"/><stop offset="0.6827" stop-color="#2872f0"/><stop offset="0.7409" stop-color="#3479f1"/><stop offset="0.768" stop-color="#4585f2"/><stop offset="0.7836" stop-color="#5992f3"/><stop offset="0.7952" stop-color="#74a4f5"/><stop offset="0.8029" stop-color="#91b6f7"/><stop offset="0.8068" stop-color="#a4c3f9"/><stop offset="0.8107" stop-color="#bed4fa"/><stop offset="0.8146" stop-color="#dfeafd"/><stop offset="0.8185" stop-color="#fff7f0"/><stop offset="0.8223" stop-color="#fdd1aa"/><stop offset="0.8262" stop-color="#f9a468"/><stop offset="0.8301" stop-color="#f58d4e"/><stop offset="0.834" stop-color="#f89f62"/><stop offset="0.8379" stop-color="#fccba1"/><stop offset="0.8417" stop-color="#fef3e8"/><stop offset="0.8456" stop-color="#e4edfd"/><stop offset="0.8495" stop-color="#c1d7fb"/><stop offset="0.8534" stop-color="#a7c5f9"/><stop offset="0.8611" stop-color="#83adf6"/><stop offset="0.8728" stop-color="#6197f4"/><stop offset="0.8883" stop-color="#4987f2"/><stop offset="0.9154" stop-color="#357bf1"/><stop offset="0.9775" stop-color="#2872f0"/><stop offset="0.9969" stop-color="#2670f0"/></linearGradient>
<linearGradient id="b6" x1="0" y1="0" x2="0" y2="1"><stop offset="0" stop-color="#2972f0"/><stop offset="0.3142" stop-color="#2c75f0"/><stop offset="0.3724" stop-color="#367bf1"/><stop offset="0.3957" stop-color="#4685f2"/><stop offset="0.4073" stop-color="#5992f3"/><stop offset="0.4151" stop-color="#70a1f5"/><stop offset="0.4189" stop-color="#82adf6"/><stop offset="0.4228" stop-color="#9bbdf8"/><stop offset="0.4267" stop-color="#bfd5fb"/><stop offset="0.4306" stop-color="#f8faff"/><stop offset="0.4344" stop-color="#fcc89c"/><stop offset="0.4383" stop-color="#f4894a"/><stop offset="0.4422" stop-color="#faa86b"/><stop offset="0.4461" stop-color="#feeedf"/><stop offset="0.45" stop-color="#d3e2fc"/><stop offset="0.4538" stop-color="#a7c5f9"/><stop offset="0.4577" stop-color="#89b2f7"/><stop offset="0.4616" stop-color="#74a4f5"/><stop offset="0.4694" stop-color="#5992f3"/><stop offset="0.481" stop-color="#4384f2"/><stop offset="0.5043" stop-color="#3278f1"/><stop offset="0.5625" stop-color="#2671f0"/><stop offset="0.6905" stop-color="#2a73f0"/><stop offset="0.7409" stop-color="#367bf1"/><stop offset="0.768" stop-color="#4a88f2"/><stop offset="0.7836" stop-color="#6399f4"/><stop offset="0.7952" stop-color="#86aff7"/><stop offset="0.8029" stop-color="#acc9f9"/><stop offset="0.8068" stop-color="#c8dbfb"/><stop offset="0.8107" stop-color="#ecf3fe"/><stop offset="0.8146" stop-color="#feebda"/><stop offset="0.8185" stop-color="#fcc192"/><stop offset="0.8223" stop-color="#f7995b"/><stop offset="0.8262" stop-color="#f59051"/><stop offset="0.8301" stop-color="#faae75"/><stop offset="0.834" stop-color="#fddbbc"/><stop offset="0.8379" stop-color="#fffffe"/><stop offset="0.8417" stop-color="#d6e4fc"/><stop offset="0.8456" stop-color="#b7d0fa"/><stop offset="0.8495" stop-color="#9fc0f8"/><stop offset="0.8573" stop-color="#7daaf6"/><stop offset="0.8689" stop-color="#5e95f4"/><stop offset="0.8844" stop-color="#4886f2"/><stop offset="0.9116" stop-color="#357af1"/><stop offset="0.9736" stop-color="#2871f0"/><stop offset="0.9969" stop-color="#2670f0"/></linearGradient>
<linearGradient id="b7" x1="0" y1="0" x2="0" y2="1"><stop offset="0" stop-color="#2972f0"/><stop offset="0.3181" stop-color="#2c75f0"/><stop offset="0.3763" stop-color="#387cf1"/><stop offset="0.3957" stop-color="#4686f2"/><stop offset="0.4073" stop-color="#5b93f4"/><stop offset="0.4151" stop-color="#76a5f6"/><stop offset="0.4189" stop-color="#8cb4f7"/><stop offset="0.4228" stop-color="#acc8f9"/><stop offset="0.4267" stop-color="#dce8fd"/><stop offset="0.4306" stop-color="#fee2c8"/><stop offset="0.4344" stop-color="#f69557"/><stop offset="0.4383" stop-color="#f69354"/><stop offset="0.4422" stop-color="#fddfc4"/><stop offset="0.4461" stop-color="#dee9fd"/><stop offset="0.45" stop-color="#acc8f9"/><stop offset="0.4538" stop-color="#8bb3f7"/><stop offset="0.4577" stop-color="#75a4f5"/><stop offset="0.4655" stop-color="#5891f3"/><stop offset="0.4771" stop-color="#4283f2"/><stop offset="0.5004" stop-color="#3177f1"/><stop offset="0.5625" stop-color="#2670f0"/><stop offset="0.6905" stop-color="#2a73f0"/><stop offset="0.7409" stop-color="#387cf1"/><stop offset="0.7642" stop-color="#4b89f3"/><stop offset="0.7797" stop-color="#669af4"/><stop offset="0.7913" stop-color="#8bb2f7"/><stop offset="0.7991" stop-color="#b4cefa"/><stop offset="0.8029" stop-color="#d2e2fc"/><stop offset="0.8068" stop-color="#fbfcff"/><stop offset="0.8107" stop-color="#fddfc3"/><stop offset="0.8146" stop-color="#fbb37c"/><stop offset="0.8185" stop-color="#f69253"/><stop offset="0.8223" stop-color="#f79859"/><stop offset="0.8262" stop-color="#fbbe8d"/><stop offset="0.8301" stop-color="#fee9d5"/><stop offset="0.834" stop-color="#eff5fe"/><stop offset="0.8379" stop-color="#cadcfb"/><stop offset="0.8417" stop-color="#aecaf9"/><stop offset="0.8495" stop-color="#87b0f7"/><stop offset="0.8611" stop-color="#6499f4"/><stop offset="0.8766" stop-color="#4a88f2"/><stop offset="0.9038" stop-color="#367bf1"/><stop offset="0.962" stop-color="#2872f0"/><stop offset="0.9969" stop-color="#2570f0"/></linearGradient>
<linearGradient id="b8" x1="0" y1="0" x2="0" y2="1"><stop offset="0" stop-color="#2972f0"/><stop offset="0.3064" stop-color="#2d75f0"/><stop offset="0.3685" stop-color="#387cf1"/><stop offset="0.3918" stop-color="#4987f2"/><stop offset="0.4034" stop-color="#5e95f4"/><stop offset="0.4112" stop-color="#79a7f6"/><stop offset="0.4151" stop-color="#8eb5f7"/><stop offset="0.4189" stop-color="#acc9f9"/><stop offset="0.4228" stop-color="#d9e6fc"/><stop offset="0.4267" stop-color="#feead7"/><stop offset="0.4306" stop-color="#f9a265"/><stop offset="0.4344" stop-color="#f38343"/><stop offset="0.4383" stop-color="#fcc294"/><stop offset="0.4422" stop-color="#fdfeff"/><stop offset="0.4461" stop-color="#c2d7fb"/><stop offset="0.45" stop-color="#9cbef8"/><stop offset="0.4538" stop-color="#82adf6"/><stop offset="0.4616" stop-color="#6197f4"/><stop offset="0.4732" stop-color="#4887f2"/><stop offset="0.4926" stop-color="#357bf1"/><stop offset="0.5392" stop-color="#2972f0"/><stop offset="0.6555" stop-color="#2771f0"/><stop offset="0.7215" stop-color="#3278f1"/><stop offset="0.7525" stop-color="#4484f2"/><stop offset="0.768" stop-color="#5992f3"/><stop offset="0.7797" stop-color="#73a3f5"/><stop offset="0.7874" stop-color="#90b6f7"/><stop offset="0.7913" stop-color="#a3c3f9"/><stop offset="0.7952" stop-color="#bcd3fa"/><stop offset="0.7991" stop-color="#dee9fd"/><stop offset="0.8029" stop-color="#fff8f2"/><stop offset="0.8068" stop-color="#fdd2ad"/><stop offset="0.8107" stop-color="#f9a66a"/><stop offset="0.8146" stop-color="#f59051"/><stop offset="0.8185" stop-color="#f9a366"/><stop offset="0.8223" stop-color="#fccea6"/><stop offset="0.8262" stop-color="#fef5ec"/><stop offset="0.8301" stop-color="#e1ecfd"/><stop offset="0.834" stop-color="#bfd5fb"/><stop offset="0.8379" stop-color="#a6c4f9"/><stop offset="0.8456" stop-color="#81acf6"/><stop offset="0.8573" stop-color="#6197f4"/><stop offset="0.8728" stop-color="#4987f2"/><stop offset="0.8999" stop-color="#357af1"/><stop offset="0.962" stop-color="#2872f0"/><stop offset="0.9969" stop-color="#2570f0"/></linearGradient>
<linearGradient id="b9" x1="0" y1="0" x2="0" y2="1"><stop offset="0" stop-color="#2972f0"/><stop offset="0.3026" stop-color="#2d75f0"/><stop offset="0.3646" stop-color="#387cf1"/><stop offset="0.3879" stop-color="#4987f2"/><stop offset="0.3995" stop-color="#5e95f4"/><stop offset="0.4073" stop-color="#78a6f6"/><stop offset="0.4112" stop-color="#8cb3f7"/><stop offset="0.4151" stop-color="#a7c5f9"/><stop offset="0.4189" stop-color="#d0e0fc"/><stop offset="0.4228" stop-color="#fef4ea"/><stop offset="0.4267" stop-color="#fab179"/><stop offset="0.4306" stop-color="#f27d3c"/><stop offset="0.4344" stop-color="#faab70"/><stop offset="0.4383" stop-color="#fef0e4"/><stop offset="0.4422" stop-color="#d3e2fc"/><stop offset="0.4461" stop-color="#a8c6f9"/><stop offset="0.45" stop-color="#8bb3f7"/><stop offset="0.4538" stop-color="#76a5f5"/><stop offset="0.4616" stop-color="#5b93f4"/><stop offset="0.4732" stop-color="#4585f2"/><stop offset="0.4965" stop-color="#3379f1"/><stop offset="0.5547" stop-color="#2771f0"/><stop offset="0.6749" stop-color="#2a73f0"/><stop offset="0.7292" stop-color="#387cf1"/><stop offset="0.7525" stop-color="#4a88f2"/><stop offset="0.768" stop-color="#6298f4"/><stop offset="0.7797" stop-color="#84aef6"/><stop offset="0.7874" stop-color="#aac7f9"/><stop offset="0.7913" stop-color="#c5d9fb"/><stop offset="0.7952" stop-color="#e9f1fd"/><stop offset="0.7991" stop-color="#feeedf"/><stop offset="0.8029" stop-color="#fcc598"/><stop offset="0.8068" stop-color="#f89d5f"/><stop offset="0.8107" stop-color="#f69254"/><stop offset="0.8146" stop-color="#fab077"/><stop offset="0.8185" stop-color="#fddcbd"/><stop offset="0.8223" stop-color="#feffff"/><stop offset="0.8262" stop-color="#d5e3fc"/><stop offset="0.8301" stop-color="#b6cffa"/><stop offset="0.834" stop-color="#9ebff8"/><stop offset="0.8417" stop-color="#7da9f6"/><stop offset="0.8534" stop-color="#5e95f4"/><stop offset="0.8689" stop-color="#4786f2"/><stop offset="0.896" stop-color="#357af1"/><stop offset="0.9581" stop-color="#2871f0"/><stop offset="0.9969" stop-color="#2570f0"/></linearGradient>
<linearGradient id="b10" x1="0" y1="0" x2="0" y2="1"><stop offset="0" stop-color="#2972f0"/><stop offset="0.3026" stop-color="#2d75f0"/><stop offset="0.3607" stop-color="#377bf1"/><stop offset="0.384" stop-color="#4686f2"/><stop offset="0.3957" stop-color="#5992f3"/><stop offset="0.4034" stop-color="#71a2f5"/><stop offset="0.4073" stop-color="#83aef6"/><stop offset="0.4112" stop-color="#9dbef8"/><stop offset="0.4151" stop-color="#c1d7fb"/><stop offset="0.4189" stop-color="#fbfcff"/><stop offset="0.4228" stop-color="#fcc496"/><stop offset="0.4267" stop-color="#f27f3e"/><stop offset="0.4306" stop-color="#f79b5d"/><stop offset="0.4344" stop-color="#fee6d1"/><stop offset="0.4383" stop-color="#dae7fc"/><stop offset="0.4422" stop-color="#acc8f9"/><stop offset="0.4461" stop-color="#8db4f7"/><stop offset="0.45" stop-color="#77a6f6"/><stop offset="0.4577" stop-color="#5b93f4"/><stop offset="0.4694" stop-color="#4484f2"/><stop offset="0.4926" stop-color="#3278f1"/><stop offset="0.5508" stop-color="#2771f0"/><stop offset="0.6711" stop-color="#2a73f0"/><stop offset="0.7215" stop-color="#367bf1"/><stop offset="0.7486" stop-color="#4b89f2"/><stop offset="0.7642" stop-color="#659af4"/><stop offset="0.7758" stop-color="#88b1f7"/><stop offset="0.7836" stop-color="#b1ccfa"/><stop offset="0.7874" stop-color="#cedffc"/><stop offset="0.7913" stop-color="#f5f9fe"/><stop offset="0.7952" stop-color="#fee4cb"/><stop offset="0.7991" stop-color="#fbb884"/><stop offset="0.8029" stop-color="#f69658"/><stop offset="0.8068" stop-color="#f7995b"/><stop offset="0.8107" stop-color="#fbbe8d"/><stop offset="0.8146" stop-color="#fee8d4"/><stop offset="0.8185" stop-color="#f0f5fe"/><stop offset="0.8223" stop-color="#cadcfb"/><stop offset="0.8262" stop-color="#aecaf9"/><stop offset="0.834" stop-color="#86b0f7"/><stop offset="0.8456" stop-color="#6399f4"/><stop offset="0.8611" stop-color="#4a88f2"/><stop offset="0.8883" stop-color="#367bf1"/><stop offset="0.9465" stop-color="#2872f0"/><stop offset="0.9969" stop-color="#246ff0"/></linearGradient>
<linearGradient id="b11" x1="0" y1="0" x2="0" y2="1"><stop offset="0" stop-color="#2972f0"/><stop offset="0.2909" stop-color="#2d75f0"/><stop offset="0.353" stop-color="#387cf1"/><stop offset="0.3763" stop-color="#4786f2"/><stop offset="0.3879" stop-color="#5791f3"/><stop offset="0.3957" stop-color="#6a9df5"/><stop offset="0.4034" stop-color="#8bb3f7"/><stop offset="0.4073" stop-color="#a4c3f9"/><stop offset="0.4112" stop-color="#c8dbfb"/><stop offset="0.4151" stop-color="#ffffff"/><stop offset="0.4189" stop-color="#fcc69a"/><stop offset="0.4228" stop-color="#f38241"/><stop offset="0.4267" stop-color="#f48747"/><stop offset="0.4306" stop-color="#fccea7"/><stop offset="0.4344" stop-color="#f7fafe"/><stop offset="0.4383" stop-color="#c2d7fb"/><stop offset="0.4422" stop-color="#9fc0f8"/><stop offset="0.4461" stop-color="#86aff7"/><stop offset="0.4538" stop-color="#659af4"/><stop offset="0.4655" stop-color="#4b89f3"/><stop offset="0.4849" stop-color="#387cf1"/><stop offset="0.5275" stop-color="#2a73f0"/><stop offset="0.6284" stop-color="#2771f0"/><stop offset="0.7021" stop-color="#3178f1"/><stop offset="0.7331" stop-color="#4082f2"/><stop offset="0.7525" stop-color="#5791f3"/><stop offset="0.7642" stop-color="#71a2f5"/><stop offset="0.7719" stop-color="#8db4f7"/><stop offset="0.7758" stop-color="#a0c0f8"/><stop offset="0.7797" stop-color="#b8d0fa"/><stop offset="0.7836" stop-color="#d8e5fc"/><stop offset="0.7874" stop-color="#fffdfb"/><stop offset="0.7913" stop-color="#fdd9b8"/><stop offset="0.7952" stop-color="#faad73"/><stop offset="0.7991" stop-color="#f69355"/><stop offset="0.8029" stop-color="#f9a265"/><stop offset="0.8068" stop-color="#fccba2"/><stop offset="0.8107" stop-color="#fef3e8"/><stop offset="0.8146" stop-color="#e4edfd"/><stop offset="0.8185" stop-color="#c1d6fb"/><stop offset="0.8223" stop-color="#a7c5f9"/><stop offset="0.8301" stop-color="#82adf6"/><stop offset="0.8417" stop-color="#6197f4"/><stop offset="0.8573" stop-color="#4987f2"/><stop offset="0.8844" stop-color="#357af1"/><stop offset="0.9465" stop-color="#2872f0"/><stop offset="0.9969" stop-color="#246ff0"/></linearGradient>
<linearGradient id="b12" x1="0" y1="0" x2="0" y2="1"><stop offset="0" stop-color="#2972f0"/><stop offset="0.2948" stop-color="#2d75f0"/><stop offset="0.353" stop-color="#387cf1"/><stop offset="0.3763" stop-color="#4887f2"/><stop offset="0.3879" stop-color="#5b93f4"/><stop offset="0.3957" stop-color="#72a2f5"/><stop offset="0.3995" stop-color="#83aef6"/><stop offset="0.4034" stop-color="#9bbdf8"/><stop offset="0.4073" stop-color="#bcd3fa"/><stop offset="0.4112" stop-color="#eff4fe"/><stop offset="0.4151" stop-color="#fdd5b1"/><stop offset="0.4189" stop-color="#f4894a"/><stop offset="0.4228" stop-color="#f27d3c"/><stop offset="0.4267" stop-color="#fcc598"/><stop offset="0.4306" stop-color="#fcfdff"/><stop offset="0.4344" stop-color="#c4d8fb"/><stop offset="0.4383" stop-color="#9fc0f8"/><stop offset="0.4422" stop-color="#85aff7"/><stop offset="0.45" stop-color="#6499f4"/><stop offset="0.4616" stop-color="#4a88f2"/><stop offset="0.481" stop-color="#377bf1"/><stop offset="0.5237" stop-color="#2a73f0"/><stop offset="0.6245" stop-color="#2771f0"/><stop offset="0.6982" stop-color="#3178f1"/><stop offset="0.7292" stop-color="#4182f2"/><stop offset="0.7486" stop-color="#5992f3"/><stop offset="0.7603" stop-color="#74a4f5"/><stop offset="0.768" stop-color="#91b7f7"/><stop offset="0.7719" stop-color="#a5c4f9"/><stop offset="0.7758" stop-color="#bfd5fb"/><stop offset="0.7797" stop-color="#e1ebfd"/><stop offset="0.7836" stop-color="#fef5ec"/><stop offset="0.7874" stop-color="#fccea6"/><stop offset="0.7913" stop-color="#f9a467"/><stop offset="0.7952" stop-color="#f69456"/><stop offset="0.7991" stop-color="#faad72"/><stop offset="0.8029" stop-color="#fdd8b6"/><stop offset="0.8068" stop-color="#fffcfa"/><stop offset="0.8107" stop-color="#d8e6fc"/><stop offset="0.8146" stop-color="#b8d1fa"/><stop offset="0.8185" stop-color="#a0c1f8"/><stop offset="0.8262" stop-color="#7eaaf6"/><stop offset="0.8379" stop-color="#5e95f4"/><stop offset="0.8534" stop-color="#4786f2"/><stop offset="0.8805" stop-color="#357af1"/><stop offset="0.9426" stop-color="#2871f0"/><stop offset="0.9969" stop-color="#246ff0"/></linearGradient>
<linearGradient id="b13" x1="0" y1="0" x2="0" y2="1"><stop offset="0" stop-color="#2972f0"/><stop offset="0.287" stop-color="#2e75f0"/><stop offset="0.3491" stop-color="#3a7df1"/><stop offset="0.3724" stop-color="#4a88f2"/><stop offset="0.384" stop-color="#5e95f4"/><stop offset="0.3918" stop-color="#75a4f5"/><stop offset="0.3957" stop-color="#86b0f7"/><stop offset="0.3995" stop-color="#9ebff8"/><stop offset="0.4034" stop-color="#bfd5fb"/><stop offset="0.4073" stop-color="#eff5fe"/><stop offset="0.4112" stop-color="#fdd8b6"/><stop offset="0.4151" stop-color="#f58f50"/><stop offset="0.4189" stop-color="#f07636"/><stop offset="0.4228" stop-color="#fbb47e"/><stop offset="0.4267" stop-color="#fef4eb"/><stop offset="0.4306" stop-color="#d2e2fc"/><stop offset="0.4344" stop-color="#aac7f9"/><stop offset="0.4383" stop-color="#8eb5f7"/><stop offset="0.4422" stop-color="#7aa7f6"/><stop offset="0.45" stop-color="#5f96f4"/><stop offset="0.4616" stop-color="#4887f2"/><stop offset="0.4849" stop-color="#357af1"/><stop offset="0.5392" stop-color="#2872f0"/><stop offset="0.6478" stop-color="#2972f0"/><stop offset="0.706" stop-color="#367bf1"/><stop offset="0.7331" stop-color="#4a88f2"/><stop offset="0.7486" stop-color="#6298f4"/><stop offset="0.7603" stop-color="#85aff7"/><stop offset="0.768" stop-color="#abc8f9"/><stop offset="0.7719" stop-color="#c6dafb"/><stop offset="0.7758" stop-color="#ebf2fe"/><stop offset="0.7797" stop-color="#feecdc"/><stop offset="0.7836" stop-color="#fcc395"/><stop offset="0.7874" stop-color="#f89d60"/><stop offset="0.7913" stop-color="#f7985a"/><stop offset="0.7952" stop-color="#fbb884"/><stop offset="0.7991" stop-color="#fee3ca"/><stop offset="0.8029" stop-color="#f6f9fe"/><stop offset="0.8068" stop-color="#cfdffc"/><stop offset="0.8107" stop-color="#b1ccfa"/><stop offset="0.8185" stop-color="#88b1f7"/><stop offset="0.8301" stop-color="#6499f4"/><stop offset="0.8456" stop-color="#4b88f2"/><stop offset="0.8728" stop-color="#367bf1"/><stop offset="0.931" stop-color="#2872f0"/><stop offset="0.9969" stop-color="#246ff0"/></linearGradient>
<linearGradient id="b14" x1="0" y1="0" x2="0" y2="1"><stop offset="0" stop-color="#2973f0"/><stop offset="0.2754" stop-color="#2e76f0"/><stop offset="0.3413" stop-color="#3a7ef1"/><stop offset="0.3646" stop-color="#4a88f2"/><stop offset="0.3763" stop-color="#5b93f4"/><stop offset="0.384" stop-color="#6ea0f5"/><stop offset="0.3918" stop-color="#8eb5f7"/><stop offset="0.3957" stop-color="#a6c4f9"/><stop offset="0.3995" stop-color="#c7dafb"/><stop offset="0.4034" stop-color="#f7fafe"/><stop offset="0.4073" stop-color="#fdd5b1"/><stop offset="0.4112" stop-color="#f59051"/><stop offset="0.4151" stop-color="#ef7232"/><stop offset="0.4189" stop-color="#f9a468"/><stop offset="0.4228" stop-color="#fee5cf"/><stop offset="0.4267" stop-color="#e5eefd"/><stop offset="0.4306" stop-color="#bad1fa"/><stop offset="0.4344" stop-color="#9bbdf8"/><stop offset="0.4383" stop-color="#85aff7"/><stop offset="0.4461" stop-color="#679bf4"/><stop offset="0.4577" stop-color="#4e8af3"/><stop offset="0.4771" stop-color="#3a7df1"/><stop offset="0.5198" stop-color="#2c74f0"/><stop offset="0.6129" stop-color="#2771f0"/><stop offset="0.6866" stop-color="#3177f1"/><stop offset="0.7215" stop-color="#4383f2"/><stop offset="0.7409" stop-color="#5c94f4"/><stop offset="0.7525" stop-color="#7aa7f6"/><stop offset="0.7603" stop-color="#9abcf8"/><stop offset="0.7642" stop-color="#b0cbfa"/><stop offset="0.768" stop-color="#cedffc"/><stop offset="0.7719" stop-color="#f5f8fe"/><stop offset="0.7758" stop-color="#fee4cc"/><stop offset="0.7797" stop-color="#fbb986"/><stop offset="0.7836" stop-color="#f7995b"/><stop offset="0.7874" stop-color="#f89e60"/><stop offset="0.7913" stop-color="#fcc395"/><stop offset="0.7952" stop-color="#feecdc"/><stop offset="0.7991" stop-color="#ebf2fe"/><stop offset="0.8029" stop-color="#c6dafb"/><stop offset="0.8068" stop-color="#abc8f9"/><stop offset="0.8146" stop-color="#84aef6"/><stop offset="0.8262" stop-color="#6298f4"/><stop offset="0.8417" stop-color="#4988f2"/><stop offset="0.8689" stop-color="#357bf1"/><stop offset="0.9271" stop-color="#2872f0"/><stop offset="0.9969" stop-color="#246ff0"/></linearGradient>
<linearGradient id="b15" x1="0" y1="0" x2="0" y2="1"><stop offset="0" stop-color="#2972f0"/><stop offset="0.2754" stop-color="#2e75f0"/><stop offset="0.3375" stop-color="#397df1"/><stop offset="0.3607" stop-color="#4886f2"/><stop offset="0.3763" stop-color="#5f96f4"/><stop offset="0.384" stop-color="#77a5f6"/><stop offset="0.3879" stop-color="#88b1f7"/><stop offset="0.3918" stop-color="#9ebff8"/><stop offset="0.3957" stop-color="#bed4fa"/><stop offset="0.3995" stop-color="#ecf3fe"/><stop offset="0.4034" stop-color="#fdddc0"/><stop offset="0.4073" stop-color="#f79759"/><stop offset="0.4112" stop-color="#ee702f"/><stop offset="0.4151" stop-color="#f8a063"/><stop offset="0.4189" stop-color="#fee5ce"/><stop offset="0.4228" stop-color="#e4edfd"/><stop offset="0.4267" stop-color="#b7d0fa"/><stop offset="0.4306" stop-color="#99bcf8"/><stop offset="0.4344" stop-color="#82adf6"/><stop offset="0.4422" stop-color="#6499f4"/><stop offset="0.4538" stop-color="#4c89f3"/><stop offset="0.4732" stop-color="#397df1"/><stop offset="0.5159" stop-color="#2b74f0"/><stop offset="0.6129" stop-color="#2771f0"/><stop offset="0.6866" stop-color="#3278f1"/><stop offset="0.7176" stop-color="#4384f2"/><stop offset="0.7331" stop-color="#5790f3"/><stop offset="0.7448" stop-color="#70a1f5"/><stop offset="0.7525" stop-color="#8bb3f7"/><stop offset="0.7564" stop-color="#9ebff8"/><stop offset="0.7603" stop-color="#b6cffa"/><stop offset="0.7642" stop-color="#d5e3fc"/><stop offset="0.768" stop-color="#feffff"/><stop offset="0.7719" stop-color="#fddcbd"/><stop offset="0.7758" stop-color="#fab179"/><stop offset="0.7797" stop-color="#f79759"/><stop offset="0.7836" stop-color="#f9a569"/><stop offset="0.7874" stop-color="#fccea6"/><stop offset="0.7913" stop-color="#fef5ec"/><stop offset="0.7952" stop-color="#e1ebfd"/><stop offset="0.7991" stop-color="#bfd5fb"/><stop offset="0.8029" stop-color="#a5c4f9"/><stop offset="0.8107" stop-color="#81acf6"/><stop offset="0.8223" stop-color="#6097f4"/><stop offset="0.8379" stop-color="#4887f2"/><stop offset="0.865" stop-color="#357af1"/><stop offset="0.9271" stop-color="#2871f0"/><stop offset="0.9969" stop-color="#246ff0"/></linearGradient>
<linearGradient id="b16" x1="0" y1="0" x2="0" y2="1"><stop offset="0" stop-color="#2973f0"/><stop offset="0.2638" stop-color="#2e76f1"/><stop offset="0.3297" stop-color="#3b7ef1"/><stop offset="0.3569" stop-color="#4d8af3"/><stop offset="0.3685" stop-color="#5f96f4"/><stop offset="0.3763" stop-color="#73a3f5"/><stop offset="0.384" stop-color="#93b8f8"/><stop offset="0.3879" stop-color="#abc8f9"/><stop offset="0.3918" stop-color="#ccddfb"/><stop offset="0.3957" stop-color="#fbfcff"/><stop offset="0.3995" stop-color="#fdd4b0"/><stop offset="0.4034" stop-color="#f69354"/><stop offset="0.4073" stop-color="#ee6e2e"/><stop offset="0.4112" stop-color="#f69455"/><stop offset="0.4151" stop-color="#fdd6b2"/><stop offset="0.4189" stop-color="#f9fbff"/><stop offset="0.4228" stop-color="#c9dcfb"/><stop offset="0.4267" stop-color="#a8c6f9"/><stop offset="0.4306" stop-color="#90b6f7"/><stop offset="0.4383" stop-color="#6fa0f5"/><stop offset="0.45" stop-color="#538ef3"/><stop offset="0.4694" stop-color="#3d80f2"/><stop offset="0.5081" stop-color="#2e76f0"/><stop offset="0.5974" stop-color="#2871f0"/><stop offset="0.6749" stop-color="#3077f1"/><stop offset="0.7099" stop-color="#4182f2"/><stop offset="0.7292" stop-color="#5891f3"/><stop offset="0.7409" stop-color="#72a3f5"/><stop offset="0.7486" stop-color="#8fb5f7"/><stop offset="0.7525" stop-color="#a2c2f9"/><stop offset="0.7564" stop-color="#bbd2fa"/><stop offset="0.7603" stop-color="#dce8fd"/><stop offset="0.7642" stop-color="#fff9f4"/><stop offset="0.768" stop-color="#fdd4af"/><stop offset="0.7719" stop-color="#faaa6e"/><stop offset="0.7758" stop-color="#f7985a"/><stop offset="0.7797" stop-color="#faad73"/><stop offset="0.7836" stop-color="#fdd8b6"/><stop offset="0.7874" stop-color="#fffcf9"/><stop offset="0.7913" stop-color="#d9e6fc"/><stop offset="0.7952" stop-color="#b8d1fa"/><stop offset="0.7991" stop-color="#a0c1f8"/><stop offset="0.8068" stop-color="#7eaaf6"/><stop offset="0.8185" stop-color="#5e95f4"/><stop offset="0.834" stop-color="#4786f2"/><stop offset="0.8611" stop-color="#357af1"/><stop offset="0.9232" stop-color="#2871f0"/><stop offset="0.9969" stop-color="#236ff0"/></linearGradient>
<linearGradient id="b17" x1="0" y1="0" x2="0" y2="1"><stop offset="0" stop-color="#2973f0"/><stop offset="0.2638" stop-color="#2f76f1"/><stop offset="0.3258" stop-color="#3b7ef1"/><stop offset="0.353" stop-color="#4e8bf3"/><stop offset="0.3646" stop-color="#6096f4"/><stop offset="0.3724" stop-color="#74a4f5"/><stop offset="0.3801" stop-color="#94b9f8"/><stop offset="0.384" stop-color="#acc8f9"/><stop offset="0.3879" stop-color="#cddefc"/><stop offset="0.3918" stop-color="#fbfdff"/><stop offset="0.3957" stop-color="#fdd4b0"/><stop offset="0.3995" stop-color="#f69354"/><stop offset="0.4034" stop-color="#ed6d2c"/><stop offset="0.4073" stop-color="#f59051"/><stop offset="0.4112" stop-color="#fdd2ac"/><stop offset="0.4151" stop-color="#fdfdff"/><stop offset="0.4189" stop-color="#ccdefb"/><stop offset="0.4228" stop-color="#abc8f9"/><stop offset="0.4267" stop-color="#92b7f7"/><stop offset="0.4344" stop-color="#71a1f5"/><stop offset="0.4461" stop-color="#548ff3"/><stop offset="0.4655" stop-color="#3e80f2"/><stop offset="0.5043" stop-color="#2e76f1"/><stop offset="0.5935" stop-color="#2872f0"/><stop offset="0.6711" stop-color="#3077f1"/><stop offset="0.706" stop-color="#4182f2"/><stop offset="0.7254" stop-color="#5992f3"/><stop offset="0.737" stop-color="#74a4f5"/><stop offset="0.7448" stop-color="#92b7f7"/><stop offset="0.7486" stop-color="#a6c4f9"/><stop offset="0.7525" stop-color="#c0d6fb"/><stop offset="0.7564" stop-color="#e3ecfd"/><stop offset="0.7603" stop-color="#fef3e9"/><stop offset="0.7642" stop-color="#fccca3"/><stop offset="0.768" stop-color="#f9a568"/><stop offset="0.7719" stop-color="#f79a5c"/><stop offset="0.7758" stop-color="#fbb680"/><stop offset="0.7797" stop-color="#fde0c5"/><stop offset="0.7836" stop-color="#f9fbff"/><stop offset="0.7874" stop-color="#d1e1fc"/><stop offset="0.7913" stop-color="#b3cdfa"/><stop offset="0.7991" stop-color="#89b2f7"/><stop offset="0.8107" stop-color="#659af4"/><stop offset="0.8262" stop-color="#4b89f2"/><stop offset="0.8534" stop-color="#367bf1"/><stop offset="0.9116" stop-color="#2872f0"/><stop offset="0.9969" stop-color="#236ff0"/></linearGradient>
<linearGradient id="b18" x1="0" y1="0" x2="0" y2="1"><stop offset="0" stop-color="#2973f0"/><stop offset="0.2599" stop-color="#2f76f1"/><stop offset="0.322" stop-color="#3b7ef1"/><stop offset="0.3491" stop-color="#4e8bf3"/><stop offset="0.3607" stop-color="#6096f4"/><stop offset="0.3685" stop-color="#74a4f5"/><stop offset="0.3763" stop-color="#94b9f8"/><stop offset="0.3801" stop-color="#acc9f9"/><stop offset="0.384" stop-color="#cddefc"/><stop offset="0.3879" stop-color="#fcfdff"/><stop offset="0.3918" stop-color="#fdd4af"/><stop offset="0.3957" stop-color="#f69253"/><stop offset="0.3995" stop-color="#ed6b2b"/><stop offset="0.4034" stop-color="#f58e4f"/><stop offset="0.4073" stop-color="#fdd1aa"/><stop offset="0.4112" stop-color="#fefeff"/><stop offset="0.4151" stop-color="#cddefc"/><stop offset="0.4189" stop-color="#acc8f9"/><stop offset="0.4228" stop-color="#93b8f7"/><stop offset="0.4306" stop-color="#71a2f5"/><stop offset="0.4422" stop-color="#548ff3"/><stop offset="0.4616" stop-color="#3e80f2"/><stop offset="0.5004" stop-color="#2e76f1"/><stop offset="0.5896" stop-color="#2872f0"/><stop offset="0.6672" stop-color="#3177f1"/><stop offset="0.7021" stop-color="#4283f2"/><stop offset="0.7215" stop-color="#5a93f4"/><stop offset="0.7331" stop-color="#76a5f5"/><stop offset="0.7409" stop-color="#94b9f8"/><stop offset="0.7448" stop-color="#a9c7f9"/><stop offset="0.7486" stop-color="#c5d9fb"/><stop offset="0.7525" stop-color="#e9f1fd"/><stop offset="0.7564" stop-color="#feeede"/><stop offset="0.7603" stop-color="#fcc599"/><stop offset="0.7642" stop-color="#f8a164"/><stop offset="0.768" stop-color="#f89d60"/><stop offset="0.7719" stop-color="#fbbe8d"/><stop offset="0.7758" stop-color="#fee7d3"/><stop offset="0.7797" stop-color="#f1f6fe"/><stop offset="0.7836" stop-color="#cadcfb"/><stop offset="0.7874" stop-color="#aec9f9"/><stop offset="0.7952" stop-color="#86b0f7"/><stop offset="0.8068" stop-color="#6398f4"/><stop offset="0.8223" stop-color="#4a88f2"/><stop offset="0.8495" stop-color="#367bf1"/><stop offset="0.9077" stop-color="#2872f0"/><stop offset="0.9969" stop-color="#236ff0"/></linearGradient>
<linearGradient id="b19" x1="0" y1="0" x2="0" y2="1"><stop offset="0" stop-color="#2a73f0"/><stop offset="0.2483" stop-color="#3077f1"/><stop offset="0.3142" stop-color="#3d80f2"/><stop offset="0.3413" stop-color="#508cf3"/><stop offset="0.3569" stop-color="#699df5"/><stop offset="0.3646" stop-color="#80abf6"/><stop offset="0.3724" stop-color="#a3c2f9"/><stop offset="0.3763" stop-color="#bcd3fa"/><stop offset="0.3801" stop-color="#dfeafd"/><stop offset="0.384" stop-color="#fef4eb"/><stop offset="0.3879" stop-color="#fcc598"/><stop offset="0.3918" stop-color="#f48949"/><stop offset="0.3957" stop-color="#ec6929"/><stop offset="0.3995" stop-color="#f48848"/><stop offset="0.4034" stop-color="#fcc598"/><stop offset="0.4073" stop-color="#fef5ec"/><stop offset="0.4112" stop-color="#dde9fd"/><stop offset="0.4151" stop-color="#bad2fa"/><stop offset="0.4189" stop-color="#a0c0f8"/><stop offset="0.4267" stop-color="#7ca9f6"/><stop offset="0.4383" stop-color="#5c94f4"/><stop offset="0.4538" stop-color="#4686f2"/><stop offset="0.4849" stop-color="#347af1"/><stop offset="0.5586" stop-color="#2972f0"/><stop offset="0.6517" stop-color="#2e76f1"/><stop offset="0.6905" stop-color="#3d7ff2"/><stop offset="0.7099" stop-color="#4f8bf3"/><stop offset="0.7215" stop-color="#6398f4"/><stop offset="0.7331" stop-color="#85aff7"/><stop offset="0.7409" stop-color="#acc9f9"/><stop offset="0.7448" stop-color="#c9dbfb"/><stop offset="0.7486" stop-color="#eef4fe"/><stop offset="0.7525" stop-color="#fee9d6"/><stop offset="0.7564" stop-color="#fcc191"/><stop offset="0.7603" stop-color="#f8a063"/><stop offset="0.7642" stop-color="#f9a366"/><stop offset="0.768" stop-color="#fcc79b"/><stop offset="0.7719" stop-color="#feefe0"/><stop offset="0.7758" stop-color="#e8f0fd"/><stop offset="0.7797" stop-color="#c4d8fb"/><stop offset="0.7836" stop-color="#a8c6f9"/><stop offset="0.7913" stop-color="#83adf6"/><stop offset="0.8029" stop-color="#6197f4"/><stop offset="0.8185" stop-color="#4987f2"/><stop offset="0.8456" stop-color="#357af1"/><stop offset="0.9077" stop-color="#2872f0"/><stop offset="0.9969" stop-color="#236ef0"/></linearGradient>
<linearGradient id="b20" x1="0" y1="0" x2="0" y2="1"><stop offset="0" stop-color="#2a73f0"/><stop offset="0.2483" stop-color="#2f77f1"/><stop offset="0.3103" stop-color="#3c7ff1"/><stop offset="0.3375" stop-color="#4e8af3"/><stop offset="0.353" stop-color="#669af4"/><stop offset="0.3607" stop-color="#7ca9f6"/><stop offset="0.3685" stop-color="#9ebff8"/><stop offset="0.3724" stop-color="#b8d0fa"/><stop offset="0.3763" stop-color="#dbe7fc"/><stop offset="0.3801" stop-color="#fff7ef"/><stop offset="0.384" stop-color="#fcc79b"/><stop offset="0.3879" stop-color="#f48747"/><stop offset="0.3918" stop-color="#ec6828"/><stop offset="0.3957" stop-color="#f58c4d"/><stop offset="0.3995" stop-color="#fccca3"/><stop offset="0.4034" stop-color="#fffbf7"/><stop offset="0.4073" stop-color="#d5e4fc"/><stop offset="0.4112" stop-color="#b3cdfa"/><stop offset="0.4151" stop-color="#9abcf8"/><stop offset="0.4228" stop-color="#77a5f6"/><stop offset="0.4344" stop-color="#5992f3"/><stop offset="0.45" stop-color="#4484f2"/><stop offset="0.481" stop-color="#3379f1"/><stop offset="0.5586" stop-color="#2872f0"/><stop offset="0.6478" stop-color="#2e76f0"/><stop offset="0.6866" stop-color="#3c7ff2"/><stop offset="0.706" stop-color="#4f8bf3"/><stop offset="0.7176" stop-color="#6399f4"/><stop offset="0.7292" stop-color="#86b0f7"/><stop offset="0.737" stop-color="#aecaf9"/><stop offset="0.7409" stop-color="#cbddfb"/><stop offset="0.7448" stop-color="#f2f7fe"/><stop offset="0.7486" stop-color="#fee6d0"/><stop offset="0.7525" stop-color="#fbbd8c"/><stop offset="0.7564" stop-color="#f8a164"/><stop offset="0.7603" stop-color="#faa96d"/><stop offset="0.7642" stop-color="#fccfa8"/><stop offset="0.768" stop-color="#fff5ed"/><stop offset="0.7719" stop-color="#e0ebfd"/><stop offset="0.7758" stop-color="#bed4fa"/><stop offset="0.7797" stop-color="#a4c3f9"/><stop offset="0.7874" stop-color="#80abf6"/><stop offset="0.7991" stop-color="#5f96f4"/><stop offset="0.8146" stop-color="#4887f2"/><stop offset="0.8417" stop-color="#357af1"/><stop offset="0.9038" stop-color="#2771f0"/><stop offset="0.9969" stop-color="#236ef0"/></linearGradient>
<linearGradient id="b21" x1="0" y1="0" x2="0" y2="1"><stop offset="0" stop-color="#2a73f0"/><stop offset="0.2366" stop-color="#3077f1"/><stop offset="0.3026" stop-color="#3d7ff2"/><stop offset="0.3297" stop-color="#4e8bf3"/><stop offset="0.3452" stop-color="#6599f4"/><stop offset="0.3569" stop-color="#85aff7"/><stop offset="0.3646" stop-color="#aac7f9"/><stop offset="0.3685" stop-color="#c5d9fb"/><stop offset="0.3724" stop-color="#e9f1fd"/><stop offset="0.3763" stop-color="#feebda"/><stop offset="0.3801" stop-color="#fbba86"/><stop offset="0.384" stop-color="#f27e3d"/><stop offset="0.3879" stop-color="#ec6726"/><stop offset="0.3918" stop-color="#f48b4b"/><stop offset="0.3957" stop-color="#fcc79c"/><stop offset="0.3995" stop-color="#fff5ed"/><stop offset="0.4034" stop-color="#dee9fd"/><stop offset="0.4073" stop-color="#bbd2fa"/><stop offset="0.4112" stop-color="#a1c1f9"/><stop offset="0.4189" stop-color="#7daaf6"/><stop offset="0.4306" stop-color="#5e95f4"/><stop offset="0.4461" stop-color="#4886f2"/><stop offset="0.4771" stop-color="#357af1"/><stop offset="0.5508" stop-color="#2972f0"/><stop offset="0.64" stop-color="#2d75f0"/><stop offset="0.6827" stop-color="#3d7ff2"/><stop offset="0.7021" stop-color="#4f8bf3"/><stop offset="0.7137" stop-color="#6499f4"/><stop offset="0.7254" stop-color="#87b0f7"/><stop offset="0.7331" stop-color="#b0cbfa"/><stop offset="0.737" stop-color="#cedffc"/><stop offset="0.7409" stop-color="#f6f9fe"/><stop offset="0.7448" stop-color="#fee3cb"/><stop offset="0.7486" stop-color="#fbbb88"/><stop offset="0.7525" stop-color="#f9a265"/><stop offset="0.7564" stop-color="#fab077"/><stop offset="0.7603" stop-color="#fdd7b4"/><stop offset="0.7642" stop-color="#fffbf7"/><stop offset="0.768" stop-color="#dae6fc"/><stop offset="0.7719" stop-color="#b9d1fa"/><stop offset="0.7758" stop-color="#a0c0f8"/><stop offset="0.7836" stop-color="#7daaf6"/><stop offset="0.7952" stop-color="#5e95f4"/><stop offset="0.8107" stop-color="#4786f2"/><stop offset="0.8379" stop-color="#347af1"/><stop offset="0.8999" stop-color="#2771f0"/><stop offset="0.9969" stop-color="#236ef0"/></linearGradient>
<linearGradient id="b22" x1="0" y1="0" x2="0" y2="1"><stop offset="0" stop-color="#2a73f0"/><stop offset="0.2289" stop-color="#3077f1"/><stop offset="0.2948" stop-color="#3d80f2"/><stop offset="0.322" stop-color="#4e8bf3"/><stop offset="0.3375" stop-color="#6298f4"/><stop offset="0.3491" stop-color="#7fabf6"/><stop offset="0.3569" stop-color="#9dbff8"/><stop offset="0.3607" stop-color="#b3cdfa"/><stop offset="0.3646" stop-color="#d0e0fc"/><stop offset="0.3685" stop-color="#f6f9fe"/><stop offset="0.3724" stop-color="#fee2c8"/><stop offset="0.3763" stop-color="#faaf75"/><stop offset="0.3801" stop-color="#f17837"/><stop offset="0.384" stop-color="#ec6828"/><stop offset="0.3879" stop-color="#f58d4e"/><stop offset="0.3918" stop-color="#fcc79b"/><stop offset="0.3957" stop-color="#fef3e8"/><stop offset="0.3995" stop-color="#e3ecfd"/><stop offset="0.4034" stop-color="#c0d6fb"/><stop offset="0.4073" stop-color="#a6c5f9"/><stop offset="0.4151" stop-color="#82adf6"/><stop offset="0.4267" stop-color="#6298f4"/><stop offset="0.4422" stop-color="#4a88f2"/><stop offset="0.4694" stop-color="#387cf1"/><stop offset="0.5314" stop-color="#2b74f0"/><stop offset="0.6206" stop-color="#2b74f0"/><stop offset="0.6711" stop-color="#387cf1"/><stop offset="0.6943" stop-color="#4b88f2"/><stop offset="0.7099" stop-color="#6499f4"/><stop offset="0.7215" stop-color="#88b1f7"/><stop offset="0.7254" stop-color="#9abdf8"/><stop offset="0.7292" stop-color="#b1ccfa"/><stop offset="0.7331" stop-color="#d0e0fc"/><stop offset="0.737" stop-color="#f9fbff"/><stop offset="0.7409" stop-color="#fde1c6"/><stop offset="0.7448" stop-color="#fbb986"/><stop offset="0.7486" stop-color="#f9a468"/><stop offset="0.7525" stop-color="#fbb580"/><stop offset="0.7564" stop-color="#fdddbf"/><stop offset="0.7603" stop-color="#fefeff"/><stop offset="0.7642" stop-color="#d4e3fc"/><stop offset="0.768" stop-color="#b4cefa"/><stop offset="0.7719" stop-color="#9cbef8"/><stop offset="0.7797" stop-color="#7ba8f6"/><stop offset="0.7913" stop-color="#5c94f4"/><stop offset="0.8068" stop-color="#4685f2"/><stop offset="0.8379" stop-color="#3379f1"/><stop offset="0.9077" stop-color="#2671f0"/><stop offset="0.9969" stop-color="#236ef0"/></linearGradient>
<linearGradient id="b23" x1="0" y1="0" x2="0" y2="1"><stop offset="0" stop-color="#2a73f0"/><stop offset="0.2289" stop-color="#3077f1"/><stop offset="0.2948" stop-color="#3e80f2"/><stop offset="0.322" stop-color="#508cf3"/><stop offset="0.3375" stop-color="#689cf5"/><stop offset="0.3491" stop-color="#8ab2f7"/><stop offset="0.3569" stop-color="#b2ccfa"/><stop offset="0.3607" stop-color="#cfdffc"/><stop offset="0.3646" stop-color="#f6f9fe"/><stop offset="0.3685" stop-color="#fde1c6"/><stop offset="0.3724" stop-color="#faab70"/><stop offset="0.3763" stop-color="#f07535"/><stop offset="0.3801" stop-color="#ed6c2b"/><stop offset="0.384" stop-color="#f79759"/><stop offset="0.3879" stop-color="#fdd1ab"/><stop offset="0.3918" stop-color="#fffbf7"/><stop offset="0.3957" stop-color="#d9e6fc"/><stop offset="0.3995" stop-color="#b8d0fa"/><stop offset="0.4034" stop-color="#9fc0f8"/><stop offset="0.4112" stop-color="#7daaf6"/><stop offset="0.4228" stop-color="#5e95f4"/><stop offset="0.4383" stop-color="#4887f2"/><stop offset="0.4694" stop-color="#357af1"/><stop offset="0.5392" stop-color="#2a73f0"/><stop offset="0.6284" stop-color="#2d75f0"/><stop offset="0.6711" stop-color="#3a7ef1"/><stop offset="0.6943" stop-color="#4f8cf3"/><stop offset="0.706" stop-color="#6499f4"/><stop offset="0.7137" stop-color="#7aa7f6"/><stop offset="0.7215" stop-color="#9bbdf8"/><stop offset="0.7254" stop-color="#b2ccfa"/><stop offset="0.7292" stop-color="#d1e1fc"/><stop offset="0.7331" stop-color="#fafcff"/><stop offset="0.737" stop-color="#fde0c4"/><stop offset="0.7409" stop-color="#fbb985"/><stop offset="0.7448" stop-color="#f9a76b"/><stop offset="0.7486" stop-color="#fbbb88"/><stop offset="0.7525" stop-color="#fee2c8"/><stop offset="0.7564" stop-color="#f7fafe"/><stop offset="0.7603" stop-color="#cfdffc"/><stop offset="0.7642" stop-color="#b0cbfa"/><stop offset="0.768" stop-color="#99bcf8"/><stop offset="0.7758" stop-color="#79a7f6"/><stop offset="0.7874" stop-color="#5b93f4"/><stop offset="0.8068" stop-color="#4283f2"/><stop offset="0.8417" stop-color="#3077f1"/><stop offset="0.931" stop-color="#2570f0"/><stop offset="0.9969" stop-color="#236ef0"/></linearGradient>
<linearGradient id="b24" x1="0" y1="0" x2="0" y2="1"><stop offset="0" stop-color="#2a73f0"/><stop offset="0.2172" stop-color="#3178f1"/><stop offset="0.2832" stop-color="#3f81f2"/><stop offset="0.3103" stop-color="#508cf3"/><stop offset="0.3258" stop-color="#6499f4"/><stop offset="0.3375" stop-color="#7fabf6"/><stop offset="0.3452" stop-color="#9abdf8"/><stop offset="0.3491" stop-color="#adc9f9"/><stop offset="0.353" stop-color="#c6d9fb"/><stop offset="0.3569" stop-color="#e5eefd"/><stop offset="0.3607" stop-color="#fef4ea"/><stop offset="0.3646" stop-color="#fccda5"/><stop offset="0.3685" stop-color="#f79a5c"/><stop offset="0.3724" stop-color="#ee6f2f"/><stop offset="0.3763" stop-color="#ee6e2e"/><stop offset="0.3801" stop-color="#f79759"/><stop offset="0.384" stop-color="#fccca3"/><stop offset="0.3879" stop-color="#fef4ea"/><stop offset="0.3918" stop-color="#e5eefd"/><stop offset="0.3957" stop-color="#c4d8fb"/><stop offset="0.3995" stop-color="#abc8f9"/><stop offset="0.4073" stop-color="#87b0f7"/><stop offset="0.4189" stop-color="#679bf4"/><stop offset="0.4344" stop-color="#4e8bf3"/><stop offset="0.4616" stop-color="#3a7ef1"/><stop offset="0.5198" stop-color="#2c75f0"/><stop offset="0.609" stop-color="#2b74f0"/><stop offset="0.6594" stop-color="#377bf1"/><stop offset="0.6866" stop-color="#4b88f2"/><stop offset="0.7021" stop-color="#6499f4"/><stop offset="0.7099" stop-color="#7aa8f6"/><stop offset="0.7176" stop-color="#9bbdf8"/><stop offset="0.7215" stop-color="#b3cdfa"/><stop offset="0.7254" stop-color="#d2e1fc"/><stop offset="0.7292" stop-color="#fcfdff"/><stop offset="0.7331" stop-color="#fddfc2"/><stop offset="0.737" stop-color="#fbb985"/><stop offset="0.7409" stop-color="#faaa6e"/><stop offset="0.7448" stop-color="#fbc090"/><stop offset="0.7486" stop-color="#fee6d0"/><stop offset="0.7525" stop-color="#f2f7fe"/><stop offset="0.7564" stop-color="#cbddfb"/><stop offset="0.7603" stop-color="#adc9f9"/><stop offset="0.768" stop-color="#85aff7"/><stop offset="0.7797" stop-color="#6298f4"/><stop offset="0.7952" stop-color="#4987f2"/><stop offset="0.8223" stop-color="#357af1"/><stop offset="0.8805" stop-color="#2872f0"/><stop offset="0.9969" stop-color="#236ef0"/></linearGradient>
<linearGradient id="b25" x1="0" y1="0" x2="0" y2="1"><stop offset="0" stop-color="#2a73f0"/><stop offset="0.2172" stop-color="#3178f1"/><stop offset="0.2793" stop-color="#3f81f2"/><stop offset="0.3064" stop-color="#4f8cf3"/><stop offset="0.322" stop-color="#6399f4"/><stop offset="0.3336" stop-color="#7daaf6"/><stop offset="0.3413" stop-color="#9abcf8"/><stop offset="0.3452" stop-color="#adc9f9"/><stop offset="0.3491" stop-color="#c6dafb"/><stop offset="0.353" stop-color="#e7f0fd"/><stop offset="0.3569" stop-color="#fef1e5"/><stop offset="0.3607" stop-color="#fcc79b"/><stop offset="0.3646" stop-color="#f69253"/><stop offset="0.3685" stop-color="#ed6d2c"/><stop offset="0.3724" stop-color="#ef7333"/><stop offset="0.3763" stop-color="#f8a265"/><stop offset="0.3801" stop-color="#fdd6b3"/><stop offset="0.384" stop-color="#fffcf9"/><stop offset="0.3879" stop-color="#dae7fc"/><stop offset="0.3918" stop-color="#bbd3fa"/><stop offset="0.3957" stop-color="#a4c3f9"/><stop offset="0.4034" stop-color="#82adf6"/><stop offset="0.4151" stop-color="#6398f4"/><stop offset="0.4306" stop-color="#4c89f3"/><stop offset="0.4577" stop-color="#397df1"/><stop offset="0.5198" stop-color="#2c74f0"/><stop offset="0.609" stop-color="#2c74f0"/><stop offset="0.6594" stop-color="#387cf1"/><stop offset="0.6827" stop-color="#4a88f2"/><stop offset="0.6982" stop-color="#6499f4"/><stop offset="0.706" stop-color="#7aa7f6"/><stop offset="0.7137" stop-color="#9bbdf8"/><stop offset="0.7176" stop-color="#b2cdfa"/><stop offset="0.7215" stop-color="#d2e1fc"/><stop offset="0.7254" stop-color="#fcfdff"/><stop offset="0.7292" stop-color="#fddfc3"/><stop offset="0.7331" stop-color="#fbba87"/><stop offset="0.737" stop-color="#faad72"/><stop offset="0.7409" stop-color="#fcc496"/><stop offset="0.7448" stop-color="#feead7"/><stop offset="0.7486" stop-color="#eef4fe"/><stop offset="0.7525" stop-color="#c7dafb"/><stop offset="0.7564" stop-color="#aac7f9"/><stop offset="0.7642" stop-color="#83aef6"/><stop offset="0.7758" stop-color="#6197f4"/><stop offset="0.7913" stop-color="#4887f2"/><stop offset="0.8185" stop-color="#357af1"/><stop offset="0.8805" stop-color="#2771f0"/><stop offset="0.9969" stop-color="#226ef0"/></linearGradient>
<linearGradient id="b26" x1="0" y1="0" x2="0" y2="1"><stop offset="0" stop-color="#2b73f0"/><stop offset="0.2133" stop-color="#3278f1"/><stop offset="0.2754" stop-color="#3f81f2"/><stop offset="0.3026" stop-color="#518df3"/><stop offset="0.3181" stop-color="#669af4"/><stop offset="0.3297" stop-color="#81acf6"/><stop offset="0.3375" stop-color="#9fc0f8"/><stop offset="0.3413" stop-color="#b4cefa"/><stop offset="0.3452" stop-color="#cfdffc"/><stop offset="0.3491" stop-color="#f2f7fe"/><stop offset="0.353" stop-color="#fee8d3"/><stop offset="0.3569" stop-color="#fbba87"/><stop offset="0.3607" stop-color="#f48646"/><stop offset="0.3646" stop-color="#ed6b2a"/><stop offset="0.3685" stop-color="#f17938"/><stop offset="0.3724" stop-color="#faa96d"/><stop offset="0.3763" stop-color="#fddcbd"/><stop offset="0.3801" stop-color="#ffffff"/><stop offset="0.384" stop-color="#d6e4fc"/><stop offset="0.3879" stop-color="#b9d1fa"/><stop offset="0.3957" stop-color="#90b6f7"/><stop offset="0.4073" stop-color="#6b9ef5"/><stop offset="0.4228" stop-color="#518cf3"/><stop offset="0.45" stop-color="#3b7ef1"/><stop offset="0.5043" stop-color="#2d75f0"/><stop offset="0.5974" stop-color="#2b74f0"/><stop offset="0.6517" stop-color="#367bf1"/><stop offset="0.6788" stop-color="#4a88f2"/><stop offset="0.6943" stop-color="#6399f4"/><stop offset="0.7021" stop-color="#79a7f6"/><stop offset="0.7099" stop-color="#9abdf8"/><stop offset="0.7137" stop-color="#b2ccfa"/><stop offset="0.7176" stop-color="#d1e1fc"/><stop offset="0.7215" stop-color="#fbfcff"/><stop offset="0.7254" stop-color="#fde0c4"/><stop offset="0.7292" stop-color="#fbbc8a"/><stop offset="0.7331" stop-color="#fab077"/><stop offset="0.737" stop-color="#fcc79c"/><stop offset="0.7409" stop-color="#feecdc"/><stop offset="0.7448" stop-color="#eaf1fe"/><stop offset="0.7486" stop-color="#c5d9fb"/><stop offset="0.7525" stop-color="#a8c6f9"/><stop offset="0.7603" stop-color="#82adf6"/><stop offset="0.7719" stop-color="#6096f4"/><stop offset="0.7874" stop-color="#4887f2"/><stop offset="0.8146" stop-color="#357af1"/><stop offset="0.8766" stop-color="#2771f0"/><stop offset="0.9969" stop-color="#226ef0"/></linearGradient>
<linearGradient id="b27" x1="0" y1="0" x2="0" y2="1"><stop offset="0" stop-color="#2b74f0"/><stop offset="0.2017" stop-color="#3279f1"/><stop offset="0.2676" stop-color="#4182f2"/><stop offset="0.2948" stop-color="#538ef3"/><stop offset="0.3142" stop-color="#6ea0f5"/><stop offset="0.3258" stop-color="#8db4f7"/><stop offset="0.3336" stop-color="#aec9f9"/><stop offset="0.3375" stop-color="#c4d8fb"/><stop offset="0.3413" stop-color="#e2ecfd"/><stop offset="0.3452" stop-color="#fff8f2"/><stop offset="0.3491" stop-color="#fdd6b2"/><stop offset="0.353" stop-color="#f9a669"/><stop offset="0.3569" stop-color="#f17a39"/><stop offset="0.3607" stop-color="#ed6b2a"/><stop offset="0.3646" stop-color="#f27d3d"/><stop offset="0.3685" stop-color="#faac71"/><stop offset="0.3724" stop-color="#fddbbb"/><stop offset="0.3763" stop-color="#fffdfb"/><stop offset="0.3801" stop-color="#dce8fd"/><stop offset="0.384" stop-color="#bed4fb"/><stop offset="0.3918" stop-color="#95baf8"/><stop offset="0.4034" stop-color="#71a1f5"/><stop offset="0.4189" stop-color="#558ff3"/><stop offset="0.4422" stop-color="#4082f2"/><stop offset="0.4888" stop-color="#3077f1"/><stop offset="0.5818" stop-color="#2a73f0"/><stop offset="0.6439" stop-color="#357af1"/><stop offset="0.6711" stop-color="#4685f2"/><stop offset="0.6866" stop-color="#5b93f4"/><stop offset="0.6982" stop-color="#78a7f6"/><stop offset="0.706" stop-color="#99bcf8"/><stop offset="0.7099" stop-color="#b0cbfa"/><stop offset="0.7137" stop-color="#cfe0fc"/><stop offset="0.7176" stop-color="#f9fbff"/><stop offset="0.7215" stop-color="#fee1c7"/><stop offset="0.7254" stop-color="#fbbe8d"/><stop offset="0.7292" stop-color="#fbb27b"/><stop offset="0.7331" stop-color="#fccaa0"/><stop offset="0.737" stop-color="#feeee0"/><stop offset="0.7409" stop-color="#e8f0fd"/><stop offset="0.7448" stop-color="#c3d7fb"/><stop offset="0.7486" stop-color="#a7c5f9"/><stop offset="0.7564" stop-color="#81acf6"/><stop offset="0.768" stop-color="#5f96f4"/><stop offset="0.7836" stop-color="#4786f2"/><stop offset="0.8107" stop-color="#347af1"/><stop offset="0.8728" stop-color="#2771f0"/><stop offset="0.9969" stop-color="#226ef0"/></linearGradient>
<linearGradient id="b28" x1="0" y1="0" x2="0" y2="1"><stop offset="0" stop-color="#2b74f0"/><stop offset="0.2017" stop-color="#3278f1"/><stop offset="0.2638" stop-color="#3f81f2"/><stop offset="0.2948" stop-color="#548ff3"/><stop offset="0.3103" stop-color="#6b9df5"/><stop offset="0.322" stop-color="#89b1f7"/><stop offset="0.3297" stop-color="#aac7f9"/><stop offset="0.3336" stop-color="#c2d7fb"/><stop offset="0.3375" stop-color="#e1ebfd"/><stop offset="0.3413" stop-color="#fff7f0"/><stop offset="0.3452" stop-color="#fdd1ab"/><stop offset="0.3491" stop-color="#f89e61"/><stop offset="0.353" stop-color="#f07534"/><stop offset="0.3569" stop-color="#ed6d2d"/><stop offset="0.3607" stop-color="#f48a4a"/><stop offset="0.3646" stop-color="#fbbd8c"/><stop offset="0.3685" stop-color="#feead7"/><stop offset="0.3724" stop-color="#eef4fe"/><stop offset="0.3763" stop-color="#cbddfb"/><stop offset="0.3801" stop-color="#b0cbfa"/><stop offset="0.3879" stop-color="#8ab2f7"/><stop offset="0.3995" stop-color="#699cf5"/><stop offset="0.4151" stop-color="#508cf3"/><stop offset="0.4422" stop-color="#3b7ef1"/><stop offset="0.5004" stop-color="#2d75f0"/><stop offset="0.5935" stop-color="#2b74f0"/><stop offset="0.6478" stop-color="#387cf1"/><stop offset="0.6711" stop-color="#4987f2"/><stop offset="0.6866" stop-color="#6298f4"/><stop offset="0.6982" stop-color="#85aff7"/><stop offset="0.7021" stop-color="#97bbf8"/><stop offset="0.706" stop-color="#aecaf9"/><stop offset="0.7099" stop-color="#cddefc"/><stop offset="0.7137" stop-color="#f6f9fe"/><stop offset="0.7176" stop-color="#fee4cc"/><stop offset="0.7215" stop-color="#fcc192"/><stop offset="0.7254" stop-color="#fbb57f"/><stop offset="0.7292" stop-color="#fccca3"/><stop offset="0.7331" stop-color="#fef0e3"/><stop offset="0.737" stop-color="#e6effd"/><stop offset="0.7409" stop-color="#c1d6fb"/><stop offset="0.7448" stop-color="#a5c4f9"/><stop offset="0.7525" stop-color="#80abf6"/><stop offset="0.7642" stop-color="#5f96f4"/><stop offset="0.7797" stop-color="#4786f2"/><stop offset="0.8068" stop-color="#347af1"/><stop offset="0.8689" stop-color="#2771f0"/><stop offset="0.9969" stop-color="#226ef0"/></linearGradient>
<linearGradient id="b29" x1="0" y1="0" x2="0" y2="1"><stop offset="0" stop-color="#2b74f0"/><stop offset="0.1901" stop-color="#3379f1"/><stop offset="0.256" stop-color="#4283f2"/><stop offset="0.287" stop-color="#5891f3"/><stop offset="0.3026" stop-color="#6ea0f5"/><stop offset="0.3142" stop-color="#8bb3f7"/><stop offset="0.322" stop-color="#a9c7f9"/><stop offset="0.3258" stop-color="#bed4fa"/><stop offset="0.3297" stop-color="#d9e6fc"/><stop offset="0.3336" stop-color="#fcfdff"/><stop offset="0.3375" stop-color="#fee2c9"/><stop offset="0.3413" stop-color="#fbb884"/><stop offset="0.3452" stop-color="#f48a4b"/><stop offset="0.3491" stop-color="#ee702f"/><stop offset="0.353" stop-color="#ef7131"/><stop offset="0.3569" stop-color="#f58f50"/><stop offset="0.3607" stop-color="#fbbe8d"/><stop offset="0.3646" stop-color="#fee7d2"/><stop offset="0.3685" stop-color="#f5f9fe"/><stop offset="0.3724" stop-color="#d2e2fc"/><stop offset="0.3763" stop-color="#b8d0fa"/><stop offset="0.384" stop-color="#92b8f7"/><stop offset="0.3957" stop-color="#70a1f5"/><stop offset="0.4112" stop-color="#5690f3"/><stop offset="0.4383" stop-color="#3f81f2"/><stop offset="0.4926" stop-color="#2f76f1"/><stop offset="0.5857" stop-color="#2b74f0"/><stop offset="0.64" stop-color="#367bf1"/><stop offset="0.6672" stop-color="#4987f2"/><stop offset="0.6827" stop-color="#6197f4"/><stop offset="0.6943" stop-color="#84aef6"/><stop offset="0.6982" stop-color="#96baf8"/><stop offset="0.7021" stop-color="#acc9f9"/><stop offset="0.706" stop-color="#cadcfb"/><stop offset="0.7099" stop-color="#f2f7fe"/><stop offset="0.7137" stop-color="#fee6d1"/><stop offset="0.7176" stop-color="#fcc497"/><stop offset="0.7215" stop-color="#fbb783"/><stop offset="0.7254" stop-color="#fccda5"/><stop offset="0.7292" stop-color="#fef0e3"/><stop offset="0.7331" stop-color="#e6eefd"/><stop offset="0.737" stop-color="#c1d6fb"/><stop offset="0.7409" stop-color="#a5c4f9"/><stop offset="0.7486" stop-color="#7fabf6"/><stop offset="0.7603" stop-color="#5e95f4"/><stop offset="0.7758" stop-color="#4786f2"/><stop offset="0.8029" stop-color="#347af1"/><stop offset="0.865" stop-color="#2771f0"/><stop offset="0.9969" stop-color="#226ef0"/></linearGradient>
<linearGradient id="b30" x1="0" y1="0" x2="0" y2="1"><stop offset="0" stop-color="#2c74f0"/><stop offset="0.1823" stop-color="#3479f1"/><stop offset="0.2483" stop-color="#4484f2"/><stop offset="0.2793" stop-color="#5992f3"/><stop offset="0.2987" stop-color="#76a5f5"/><stop offset="0.3103" stop-color="#95b9f8"/><stop offset="0.3181" stop-color="#b6cffa"/><stop offset="0.322" stop-color="#cddefc"/><stop offset="0.3258" stop-color="#ebf2fe"/><stop offset="0.3297" stop-color="#fef2e7"/><stop offset="0.3336" stop-color="#fdd1aa"/><stop offset="0.3375" stop-color="#f9a669"/><stop offset="0.3413" stop-color="#f2803f"/><stop offset="0.3452" stop-color="#ee7130"/><stop offset="0.3491" stop-color="#f17837"/><stop offset="0.353" stop-color="#f7985a"/><stop offset="0.3569" stop-color="#fcc496"/><stop offset="0.3607" stop-color="#feead7"/><stop offset="0.3646" stop-color="#f4f8fe"/><stop offset="0.3685" stop-color="#d3e2fc"/><stop offset="0.3724" stop-color="#b9d1fa"/><stop offset="0.3801" stop-color="#95b9f8"/><stop offset="0.3918" stop-color="#73a3f5"/><stop offset="0.4073" stop-color="#5992f3"/><stop offset="0.4344" stop-color="#4182f2"/><stop offset="0.4849" stop-color="#3178f1"/><stop offset="0.578" stop-color="#2b74f0"/><stop offset="0.6362" stop-color="#367bf1"/><stop offset="0.6633" stop-color="#4887f2"/><stop offset="0.6788" stop-color="#6097f4"/><stop offset="0.6905" stop-color="#82adf6"/><stop offset="0.6982" stop-color="#aac7f9"/><stop offset="0.7021" stop-color="#c7dafb"/><stop offset="0.706" stop-color="#eef4fe"/><stop offset="0.7099" stop-color="#feead8"/><stop offset="0.7137" stop-color="#fcc89d"/><stop offset="0.7176" stop-color="#fbba86"/><stop offset="0.7215" stop-color="#fccea6"/><stop offset="0.7254" stop-color="#fef0e3"/><stop offset="0.7292" stop-color="#e6eefd"/><stop offset="0.7331" stop-color="#c1d6fb"/><stop offset="0.737" stop-color="#a5c4f9"/><stop offset="0.7448" stop-color="#7fabf6"/><stop offset="0.7564" stop-color="#5e95f4"/><stop offset="0.7719" stop-color="#4786f2"/><stop offset="0.7991" stop-color="#347af1"/><stop offset="0.8611" stop-color="#2771f0"/><stop offset="0.9969" stop-color="#226ef0"/></linearGradient>
<linearGradient id="b31" x1="0" y1="0" x2="0" y2="1"><stop offset="0" stop-color="#2c74f0"/><stop offset="0.1784" stop-color="#347af1"/><stop offset="0.2405" stop-color="#4384f2"/><stop offset="0.2715" stop-color="#5791f3"/><stop offset="0.2909" stop-color="#72a2f5"/><stop offset="0.3026" stop-color="#8eb5f7"/><stop offset="0.3103" stop-color="#abc8f9"/><stop offset="0.3142" stop-color="#bed5fb"/><stop offset="0.3181" stop-color="#d8e5fc"/><stop offset="0.322" stop-color="#f8fbff"/><stop offset="0.3258" stop-color="#fee7d3"/><stop offset="0.3297" stop-color="#fcc294"/><stop offset="0.3336" stop-color="#f7995b"/><stop offset="0.3375" stop-color="#f17b3a"/><stop offset="0.3413" stop-color="#ef7433"/><stop offset="0.3452" stop-color="#f38141"/><stop offset="0.3491" stop-color="#f9a568"/><stop offset="0.353" stop-color="#fccfa8"/><stop offset="0.3569" stop-color="#fef2e6"/><stop offset="0.3607" stop-color="#ebf2fe"/><stop offset="0.3646" stop-color="#ccdefb"/><stop offset="0.3724" stop-color="#a1c2f9"/><stop offset="0.384" stop-color="#7ba8f6"/><stop offset="0.3995" stop-color="#5d95f4"/><stop offset="0.4228" stop-color="#4686f2"/><stop offset="0.4655" stop-color="#347af1"/><stop offset="0.5547" stop-color="#2b74f0"/><stop offset="0.6206" stop-color="#3278f1"/><stop offset="0.6517" stop-color="#4182f2"/><stop offset="0.6711" stop-color="#5891f3"/><stop offset="0.6827" stop-color="#73a3f5"/><stop offset="0.6905" stop-color="#91b7f7"/><stop offset="0.6943" stop-color="#a7c5f9"/><stop offset="0.6982" stop-color="#c3d7fb"/><stop offset="0.7021" stop-color="#e9f0fd"/><stop offset="0.706" stop-color="#feeedf"/><stop offset="0.7099" stop-color="#fccda4"/><stop offset="0.7137" stop-color="#fbbc8a"/><stop offset="0.7176" stop-color="#fccda5"/><stop offset="0.7215" stop-color="#feefe1"/><stop offset="0.7254" stop-color="#e7effd"/><stop offset="0.7292" stop-color="#c2d7fb"/><stop offset="0.7331" stop-color="#a6c4f9"/><stop offset="0.7409" stop-color="#80abf6"/><stop offset="0.7525" stop-color="#5e96f4"/><stop offset="0.768" stop-color="#4786f2"/><stop offset="0.7952" stop-color="#347af1"/><stop offset="0.8573" stop-color="#2771f0"/><stop offset="0.9969" stop-color="#226ef0"/></linearGradient>
<linearGradient id="b32" x1="0" y1="0" x2="0" y2="1"><stop offset="0" stop-color="#2d75f0"/><stop offset="0.1668" stop-color="#367bf1"/><stop offset="0.2289" stop-color="#4786f2"/><stop offset="0.2599" stop-color="#5b93f4"/><stop offset="0.2793" stop-color="#73a3f5"/><stop offset="0.2948" stop-color="#96baf8"/><stop offset="0.3026" stop-color="#b2ccfa"/><stop offset="0.3103" stop-color="#dbe8fd"/><stop offset="0.3142" stop-color="#f9fbff"/><stop offset="0.3181" stop-color="#feebda"/><stop offset="0.322" stop-color="#fccca4"/><stop offset="0.3258" stop-color="#faa86c"/><stop offset="0.3297" stop-color="#f48849"/><stop offset="0.3336" stop-color="#f17837"/><stop offset="0.3375" stop-color="#f17837"/><stop offset="0.3413" stop-color="#f48748"/><stop offset="0.3452" stop-color="#f9a76b"/><stop offset="0.3491" stop-color="#fccca3"/><stop offset="0.353" stop-color="#feebda"/><stop offset="0.3569" stop-color="#f7fafe"/><stop offset="0.3607" stop-color="#d9e6fc"/><stop offset="0.3685" stop-color="#aecaf9"/><stop offset="0.3801" stop-color="#86aff7"/><stop offset="0.3957" stop-color="#679bf4"/><stop offset="0.4189" stop-color="#4d8af3"/><stop offset="0.4577" stop-color="#3a7df1"/><stop offset="0.5353" stop-color="#2d75f0"/><stop offset="0.609" stop-color="#3178f1"/><stop offset="0.6439" stop-color="#3e80f2"/><stop offset="0.6633" stop-color="#528df3"/><stop offset="0.6749" stop-color="#689bf4"/><stop offset="0.6827" stop-color="#7fabf6"/><stop offset="0.6905" stop-color="#a4c3f9"/><stop offset="0.6943" stop-color="#bfd5fb"/><stop offset="0.6982" stop-color="#e3edfd"/><stop offset="0.7021" stop-color="#fef3e8"/><stop offset="0.706" stop-color="#fdd1ab"/><stop offset="0.7099" stop-color="#fbbe8d"/><stop offset="0.7137" stop-color="#fccca3"/><stop offset="0.7176" stop-color="#feeddd"/><stop offset="0.7215" stop-color="#eaf1fe"/><stop offset="0.7254" stop-color="#c4d8fb"/><stop offset="0.7292" stop-color="#a8c6f9"/><stop offset="0.737" stop-color="#81acf6"/><stop offset="0.7486" stop-color="#5f96f4"/><stop offset="0.7642" stop-color="#4786f2"/><stop offset="0.7913" stop-color="#357af1"/><stop offset="0.8534" stop-color="#2871f0"/><stop offset="0.9969" stop-color="#226ef0"/></linearGradient>
<linearGradient id="b33" x1="0" y1="0" x2="0" y2="1"><stop offset="0" stop-color="#2d75f0"/><stop offset="0.1629" stop-color="#367bf1"/><stop offset="0.225" stop-color="#4686f2"/><stop offset="0.256" stop-color="#5b93f4"/><stop offset="0.2754" stop-color="#74a4f5"/><stop offset="0.287" stop-color="#8db4f7"/><stop offset="0.2948" stop-color="#a5c4f9"/><stop offset="0.3026" stop-color="#c9dbfb"/><stop offset="0.3103" stop-color="#fffdfc"/><stop offset="0.3142" stop-color="#fee3cb"/><stop offset="0.3181" stop-color="#fcc293"/><stop offset="0.322" stop-color="#f89e61"/><stop offset="0.3258" stop-color="#f38443"/><stop offset="0.3297" stop-color="#f17a39"/><stop offset="0.3336" stop-color="#f27e3e"/><stop offset="0.3375" stop-color="#f69455"/><stop offset="0.3413" stop-color="#fbb681"/><stop offset="0.3452" stop-color="#fddaba"/><stop offset="0.3491" stop-color="#fff7ef"/><stop offset="0.353" stop-color="#e9f0fd"/><stop offset="0.3569" stop-color="#cddefc"/><stop offset="0.3646" stop-color="#a5c4f9"/><stop offset="0.3763" stop-color="#80acf6"/><stop offset="0.3918" stop-color="#6399f4"/><stop offset="0.4151" stop-color="#4b89f3"/><stop offset="0.4577" stop-color="#387cf1"/><stop offset="0.5431" stop-color="#2c75f0"/><stop offset="0.6129" stop-color="#3278f1"/><stop offset="0.6439" stop-color="#4082f2"/><stop offset="0.6633" stop-color="#5690f3"/><stop offset="0.6749" stop-color="#70a1f5"/><stop offset="0.6827" stop-color="#8cb3f7"/><stop offset="0.6866" stop-color="#a0c1f8"/><stop offset="0.6905" stop-color="#bad2fa"/><stop offset="0.6943" stop-color="#dde8fd"/><stop offset="0.6982" stop-color="#fff8f2"/><stop offset="0.7021" stop-color="#fdd7b5"/><stop offset="0.706" stop-color="#fcc192"/><stop offset="0.7099" stop-color="#fccba2"/><stop offset="0.7137" stop-color="#feebd9"/><stop offset="0.7176" stop-color="#eef4fe"/><stop offset="0.7215" stop-color="#c7dafb"/><stop offset="0.7254" stop-color="#a9c7f9"/><stop offset="0.7331" stop-color="#82adf6"/><stop offset="0.7448" stop-color="#6096f4"/><stop offset="0.7603" stop-color="#4886f2"/><stop offset="0.7874" stop-color="#357af1"/><stop offset="0.8495" stop-color="#2871f0"/><stop offset="0.9969" stop-color="#226ef0"/></linearGradient>
<linearGradient id="b34" x1="0" y1="0" x2="0" y2="1"><stop offset="0" stop-color="#2d75f0"/><stop offset="0.1552" stop-color="#387cf1"/><stop offset="0.2172" stop-color="#4987f2"/><stop offset="0.2483" stop-color="#5e95f4"/><stop offset="0.2676" stop-color="#76a5f6"/><stop offset="0.2832" stop-color="#99bcf8"/><stop offset="0.2909" stop-color="#b4cefa"/><stop offset="0.2987" stop-color="#dde9fd"/><stop offset="0.3026" stop-color="#f9fbff"/><stop offset="0.3064" stop-color="#feecdb"/><stop offset="0.3103" stop-color="#fdd0a9"/><stop offset="0.3142" stop-color="#faae75"/><stop offset="0.3181" stop-color="#f69152"/><stop offset="0.322" stop-color="#f38040"/><stop offset="0.3258" stop-color="#f27d3c"/><stop offset="0.3297" stop-color="#f48545"/><stop offset="0.3336" stop-color="#f89c5f"/><stop offset="0.3375" stop-color="#fbbc8b"/><stop offset="0.3413" stop-color="#fdddbf"/><stop offset="0.3452" stop-color="#fff7f1"/><stop offset="0.3491" stop-color="#eaf1fe"/><stop offset="0.353" stop-color="#cfe0fc"/><stop offset="0.3607" stop-color="#a9c6f9"/><stop offset="0.3724" stop-color="#84aef6"/><stop offset="0.3879" stop-color="#679bf4"/><stop offset="0.4151" stop-color="#4c89f3"/><stop offset="0.4616" stop-color="#387cf1"/><stop offset="0.5469" stop-color="#2d75f0"/><stop offset="0.6129" stop-color="#3479f1"/><stop offset="0.6439" stop-color="#4384f2"/><stop offset="0.6594" stop-color="#5590f3"/><stop offset="0.6711" stop-color="#6ea0f5"/><stop offset="0.6788" stop-color="#89b2f7"/><stop offset="0.6827" stop-color="#9cbef8"/><stop offset="0.6866" stop-color="#b5cefa"/><stop offset="0.6905" stop-color="#d6e4fc"/><stop offset="0.6943" stop-color="#fffefd"/><stop offset="0.6982" stop-color="#fdddc0"/><stop offset="0.7021" stop-color="#fcc597"/><stop offset="0.706" stop-color="#fccaa0"/><stop offset="0.7099" stop-color="#fee7d2"/><stop offset="0.7137" stop-color="#f2f7fe"/><stop offset="0.7176" stop-color="#cadcfb"/><stop offset="0.7215" stop-color="#acc9f9"/><stop offset="0.7254" stop-color="#95b9f8"/><stop offset="0.7331" stop-color="#75a5f5"/><stop offset="0.7448" stop-color="#5992f3"/><stop offset="0.7642" stop-color="#4182f2"/><stop offset="0.7991" stop-color="#2f77f1"/><stop offset="0.8922" stop-color="#2570f0"/><stop offset="0.9969" stop-color="#226ef0"/></linearGradient>
<linearGradient id="b35" x1="0" y1="0" x2="0" y2="1"><stop offset="0" stop-color="#2e76f1"/><stop offset="0.1474" stop-color="#3a7df1"/><stop offset="0.2095" stop-color="#4c89f3"/><stop offset="0.2444" stop-color="#669af4"/><stop offset="0.2638" stop-color="#81acf6"/><stop offset="0.2754" stop-color="#9cbef8"/><stop offset="0.2832" stop-color="#b5cffa"/><stop offset="0.2909" stop-color="#dbe7fd"/><stop offset="0.2948" stop-color="#f5f8fe"/><stop offset="0.2987" stop-color="#fef1e5"/><stop offset="0.3026" stop-color="#fdd9b7"/><stop offset="0.3064" stop-color="#fbbb88"/><stop offset="0.3103" stop-color="#f89e61"/><stop offset="0.3142" stop-color="#f4894a"/><stop offset="0.3181" stop-color="#f38140"/><stop offset="0.322" stop-color="#f38241"/><stop offset="0.3258" stop-color="#f58d4d"/><stop offset="0.3297" stop-color="#f9a367"/><stop offset="0.3336" stop-color="#fcc192"/><stop offset="0.3375" stop-color="#fddfc3"/><stop offset="0.3413" stop-color="#fff7f0"/><stop offset="0.3452" stop-color="#ecf2fe"/><stop offset="0.353" stop-color="#bed4fa"/><stop offset="0.3607" stop-color="#9fc0f8"/><stop offset="0.3724" stop-color="#80acf6"/><stop offset="0.3918" stop-color="#6298f4"/><stop offset="0.4228" stop-color="#4887f2"/><stop offset="0.4771" stop-color="#367bf1"/><stop offset="0.5663" stop-color="#2e76f1"/><stop offset="0.6206" stop-color="#387cf1"/><stop offset="0.6478" stop-color="#4a88f2"/><stop offset="0.6633" stop-color="#6398f4"/><stop offset="0.6711" stop-color="#78a6f6"/><stop offset="0.6788" stop-color="#98bbf8"/><stop offset="0.6827" stop-color="#b0cbf9"/><stop offset="0.6866" stop-color="#cfdffc"/><stop offset="0.6905" stop-color="#f8fafe"/><stop offset="0.6943" stop-color="#fee4cc"/><stop offset="0.6982" stop-color="#fcc99e"/><stop offset="0.7021" stop-color="#fcc99e"/><stop offset="0.706" stop-color="#fee3cb"/><stop offset="0.7099" stop-color="#f9fbff"/><stop offset="0.7137" stop-color="#cfe0fc"/><stop offset="0.7176" stop-color="#b0cbf9"/><stop offset="0.7215" stop-color="#98bbf8"/><stop offset="0.7292" stop-color="#77a6f6"/><stop offset="0.7409" stop-color="#5a93f4"/><stop offset="0.7603" stop-color="#4182f2"/><stop offset="0.7952" stop-color="#3077f1"/><stop offset="0.8883" stop-color="#2570f0"/><stop offset="0.9969" stop-color="#226ef0"/></linearGradient>
<linearGradient id="b36" x1="0" y1="0" x2="0" y2="1"><stop offset="0" stop-color="#2e76f1"/><stop offset="0.1435" stop-color="#397df1"/><stop offset="0.2056" stop-color="#4b89f3"/><stop offset="0.2366" stop-color="#6197f4"/><stop offset="0.256" stop-color="#79a7f6"/><stop offset="0.2715" stop-color="#9cbef8"/><stop offset="0.2793" stop-color="#b7cffa"/><stop offset="0.287" stop-color="#dfeafd"/><stop offset="0.2909" stop-color="#fbfcff"/><stop offset="0.2948" stop-color="#feecdb"/><stop offset="0.3026" stop-color="#fbb27b"/><stop offset="0.3064" stop-color="#f7985a"/><stop offset="0.3103" stop-color="#f48848"/><stop offset="0.3142" stop-color="#f38444"/><stop offset="0.3181" stop-color="#f48849"/><stop offset="0.322" stop-color="#f7985a"/><stop offset="0.3258" stop-color="#fbb37c"/><stop offset="0.3336" stop-color="#feedde"/><stop offset="0.3375" stop-color="#f7fafe"/><stop offset="0.3413" stop-color="#dbe7fc"/><stop offset="0.3491" stop-color="#b1ccfa"/><stop offset="0.3607" stop-color="#8bb3f7"/><stop offset="0.3763" stop-color="#6c9ff5"/><stop offset="0.3995" stop-color="#528ef3"/><stop offset="0.4422" stop-color="#3c7ff1"/><stop offset="0.5198" stop-color="#2f76f1"/><stop offset="0.5935" stop-color="#3178f1"/><stop offset="0.6323" stop-color="#3f81f2"/><stop offset="0.6517" stop-color="#538ef3"/><stop offset="0.6633" stop-color="#6a9df5"/><stop offset="0.6711" stop-color="#82adf6"/><stop offset="0.6788" stop-color="#a9c7f9"/><stop offset="0.6827" stop-color="#c6dafb"/><stop offset="0.6866" stop-color="#edf3fe"/><stop offset="0.6905" stop-color="#feecdb"/><stop offset="0.6943" stop-color="#fccfa8"/><stop offset="0.6982" stop-color="#fcc99e"/><stop offset="0.7021" stop-color="#fddfc4"/><stop offset="0.706" stop-color="#ffffff"/><stop offset="0.7099" stop-color="#d4e3fc"/><stop offset="0.7137" stop-color="#b3cdfa"/><stop offset="0.7176" stop-color="#9bbdf8"/><stop offset="0.7254" stop-color="#79a7f6"/><stop offset="0.737" stop-color="#5b93f4"/><stop offset="0.7564" stop-color="#4282f2"/><stop offset="0.7913" stop-color="#3077f1"/><stop offset="0.8844" stop-color="#2570f0"/><stop offset="0.9969" stop-color="#226ef0"/></linearGradient>
<linearGradient id="b37" x1="0" y1="0" x2="0" y2="1"><stop offset="0" stop-color="#3077f1"/><stop offset="0.1358" stop-color="#3c7ff1"/><stop offset="0.1939" stop-color="#4f8bf3"/><stop offset="0.2289" stop-color="#679bf4"/><stop offset="0.2483" stop-color="#81acf6"/><stop offset="0.2638" stop-color="#a3c3f9"/><stop offset="0.2715" stop-color="#bed4fa"/><stop offset="0.2793" stop-color="#e5eefd"/><stop offset="0.2832" stop-color="#feffff"/><stop offset="0.287" stop-color="#feebda"/><stop offset="0.2948" stop-color="#fbb985"/><stop offset="0.2987" stop-color="#f8a063"/><stop offset="0.3026" stop-color="#f58f50"/><stop offset="0.3064" stop-color="#f48848"/><stop offset="0.3103" stop-color="#f48848"/><stop offset="0.3142" stop-color="#f58e4f"/><stop offset="0.3181" stop-color="#f89e61"/><stop offset="0.322" stop-color="#fbb681"/><stop offset="0.3297" stop-color="#feebd9"/><stop offset="0.3336" stop-color="#fefeff"/><stop offset="0.3413" stop-color="#ccdefb"/><stop offset="0.3491" stop-color="#abc8f9"/><stop offset="0.3607" stop-color="#89b2f7"/><stop offset="0.3801" stop-color="#699cf5"/><stop offset="0.4112" stop-color="#4d8af3"/><stop offset="0.4616" stop-color="#397df1"/><stop offset="0.5508" stop-color="#2f76f1"/><stop offset="0.609" stop-color="#367bf1"/><stop offset="0.6362" stop-color="#4585f2"/><stop offset="0.6517" stop-color="#5891f3"/><stop offset="0.6633" stop-color="#72a2f5"/><stop offset="0.6711" stop-color="#8fb5f7"/><stop offset="0.6749" stop-color="#a4c3f9"/><stop offset="0.6788" stop-color="#bfd5fb"/><stop offset="0.6827" stop-color="#e3ecfd"/><stop offset="0.6866" stop-color="#fef4ea"/><stop offset="0.6905" stop-color="#fdd6b3"/><stop offset="0.6943" stop-color="#fcc99e"/><stop offset="0.6982" stop-color="#fddbbb"/><stop offset="0.7021" stop-color="#fff9f4"/><stop offset="0.706" stop-color="#dbe8fd"/><stop offset="0.7099" stop-color="#b9d1fa"/><stop offset="0.7137" stop-color="#9fc0f8"/><stop offset="0.7215" stop-color="#7ca9f6"/><stop offset="0.7331" stop-color="#5d94f4"/><stop offset="0.7486" stop-color="#4686f2"/><stop offset="0.7797" stop-color="#3379f1"/><stop offset="0.8534" stop-color="#2771f0"/><stop offset="0.9969" stop-color="#226ef0"/></linearGradient>
<linearGradient id="b38" x1="0" y1="0" x2="0" y2="1"><stop offset="0" stop-color="#3077f1"/><stop offset="0.1319" stop-color="#3d7ff2"/><stop offset="0.1901" stop-color="#4f8cf3"/><stop offset="0.225" stop-color="#699cf5"/><stop offset="0.2444" stop-color="#83aef6"/><stop offset="0.256" stop-color="#9cbef8"/><stop offset="0.2676" stop-color="#c4d8fb"/><stop offset="0.2754" stop-color="#eff4fe"/><stop offset="0.2793" stop-color="#fff7f0"/><stop offset="0.287" stop-color="#fcc89d"/><stop offset="0.2909" stop-color="#faae74"/><stop offset="0.2948" stop-color="#f7995b"/><stop offset="0.2987" stop-color="#f58d4e"/><stop offset="0.3026" stop-color="#f48a4b"/><stop offset="0.3064" stop-color="#f58c4d"/><stop offset="0.3103" stop-color="#f69658"/><stop offset="0.3142" stop-color="#faaa6e"/><stop offset="0.3258" stop-color="#fef5ec"/><stop offset="0.3297" stop-color="#f0f5fe"/><stop offset="0.3375" stop-color="#c3d7fb"/><stop offset="0.3452" stop-color="#a4c3f9"/><stop offset="0.3569" stop-color="#85aff7"/><stop offset="0.3763" stop-color="#669bf4"/><stop offset="0.4073" stop-color="#4c8af3"/><stop offset="0.4616" stop-color="#387cf1"/><stop offset="0.5547" stop-color="#2f76f1"/><stop offset="0.609" stop-color="#377cf1"/><stop offset="0.6362" stop-color="#4886f2"/><stop offset="0.6517" stop-color="#5d94f4"/><stop offset="0.6633" stop-color="#7ba8f6"/><stop offset="0.6711" stop-color="#9dbff8"/><stop offset="0.6749" stop-color="#b6cffa"/><stop offset="0.6788" stop-color="#d7e5fc"/><stop offset="0.6827" stop-color="#fffdfb"/><stop offset="0.6866" stop-color="#fddec2"/><stop offset="0.6905" stop-color="#fccca3"/><stop offset="0.6943" stop-color="#fdd7b4"/><stop offset="0.6982" stop-color="#fef3e9"/><stop offset="0.7021" stop-color="#e3edfd"/><stop offset="0.706" stop-color="#bfd5fb"/><stop offset="0.7099" stop-color="#a3c3f9"/><stop offset="0.7176" stop-color="#7eaaf6"/><stop offset="0.7292" stop-color="#5e95f4"/><stop offset="0.7448" stop-color="#4786f2"/><stop offset="0.7719" stop-color="#357af1"/><stop offset="0.8379" stop-color="#2871f0"/><stop offset="0.9969" stop-color="#226ef0"/></linearGradient>
<linearGradient id="b39" x1="0" y1="0" x2="0" y2="1"><stop offset="0" stop-color="#3177f1"/><stop offset="0.128" stop-color="#3d80f2"/><stop offset="0.1862" stop-color="#518df3"/><stop offset="0.2211" stop-color="#6b9ef5"/><stop offset="0.2405" stop-color="#87b0f7"/><stop offset="0.2521" stop-color="#a2c2f9"/><stop offset="0.2599" stop-color="#bcd3fa"/><stop offset="0.2676" stop-color="#e3edfd"/><stop offset="0.2715" stop-color="#fdfeff"/><stop offset="0.2754" stop-color="#feecdc"/><stop offset="0.2832" stop-color="#fbbb88"/><stop offset="0.287" stop-color="#f9a467"/><stop offset="0.2909" stop-color="#f69456"/><stop offset="0.2948" stop-color="#f58e4f"/><stop offset="0.2987" stop-color="#f58e4e"/><stop offset="0.3026" stop-color="#f69254"/><stop offset="0.3064" stop-color="#f8a062"/><stop offset="0.3103" stop-color="#fbb57f"/><stop offset="0.3181" stop-color="#fee8d4"/><stop offset="0.322" stop-color="#fffefd"/><stop offset="0.3297" stop-color="#cedffc"/><stop offset="0.3375" stop-color="#abc8f9"/><stop offset="0.3491" stop-color="#8ab2f7"/><stop offset="0.3685" stop-color="#699cf5"/><stop offset="0.3995" stop-color="#4e8bf3"/><stop offset="0.4538" stop-color="#397df1"/><stop offset="0.5469" stop-color="#2f76f1"/><stop offset="0.6051" stop-color="#377bf1"/><stop offset="0.6323" stop-color="#4686f2"/><stop offset="0.6478" stop-color="#5b93f4"/><stop offset="0.6594" stop-color="#77a5f6"/><stop offset="0.6672" stop-color="#96baf8"/><stop offset="0.6711" stop-color="#aec9f9"/><stop offset="0.6749" stop-color="#ccdefb"/><stop offset="0.6788" stop-color="#f4f8fe"/><stop offset="0.6827" stop-color="#fee8d3"/><stop offset="0.6866" stop-color="#fdd1aa"/><stop offset="0.6905" stop-color="#fdd3ae"/><stop offset="0.6943" stop-color="#feeddd"/><stop offset="0.6982" stop-color="#ecf3fe"/><stop offset="0.7021" stop-color="#c6d9fb"/><stop offset="0.706" stop-color="#a9c6f9"/><stop offset="0.7099" stop-color="#92b8f7"/><stop offset="0.7176" stop-color="#74a3f5"/><stop offset="0.7292" stop-color="#5891f3"/><stop offset="0.7486" stop-color="#4082f2"/><stop offset="0.7836" stop-color="#3077f1"/><stop offset="0.8805" stop-color="#2570f0"/><stop offset="0.9969" stop-color="#226ef0"/></linearGradient>
<linearGradient id="b40" x1="0" y1="0" x2="0" y2="1"><stop offset="0" stop-color="#3279f1"/><stop offset="0.1202" stop-color="#4182f2"/><stop offset="0.1784" stop-color="#5690f3"/><stop offset="0.2133" stop-color="#72a2f5"/><stop offset="0.2327" stop-color="#8eb4f7"/><stop offset="0.2444" stop-color="#a9c6f9"/><stop offset="0.2521" stop-color="#c3d8fb"/><stop offset="0.2599" stop-color="#e8f0fd"/><stop offset="0.2638" stop-color="#fffefd"/><stop offset="0.2715" stop-color="#fdd6b3"/><stop offset="0.2793" stop-color="#faa96d"/><stop offset="0.2832" stop-color="#f79a5c"/><stop offset="0.287" stop-color="#f69253"/><stop offset="0.2948" stop-color="#f69152"/><stop offset="0.2987" stop-color="#f79859"/><stop offset="0.3026" stop-color="#f9a569"/><stop offset="0.3064" stop-color="#fbba86"/><stop offset="0.3181" stop-color="#fffcf9"/><stop offset="0.322" stop-color="#eaf1fe"/><stop offset="0.3297" stop-color="#c1d6fb"/><stop offset="0.3413" stop-color="#99bcf8"/><stop offset="0.3569" stop-color="#7aa7f6"/><stop offset="0.3801" stop-color="#5e95f4"/><stop offset="0.4189" stop-color="#4686f2"/><stop offset="0.4888" stop-color="#357af1"/><stop offset="0.5741" stop-color="#3278f1"/><stop offset="0.6168" stop-color="#3e80f2"/><stop offset="0.64" stop-color="#538ef3"/><stop offset="0.6517" stop-color="#699cf5"/><stop offset="0.6594" stop-color="#80acf6"/><stop offset="0.6672" stop-color="#a6c4f9"/><stop offset="0.6711" stop-color="#c2d7fb"/><stop offset="0.6749" stop-color="#e7effd"/><stop offset="0.6788" stop-color="#fef2e6"/><stop offset="0.6827" stop-color="#fdd7b5"/><stop offset="0.6866" stop-color="#fdd1ab"/><stop offset="0.6905" stop-color="#fee6d0"/><stop offset="0.6943" stop-color="#f8fafe"/><stop offset="0.6982" stop-color="#cfdffc"/><stop offset="0.7021" stop-color="#afcbf9"/><stop offset="0.706" stop-color="#98bbf8"/><stop offset="0.7137" stop-color="#77a6f6"/><stop offset="0.7254" stop-color="#5a93f4"/><stop offset="0.7448" stop-color="#4283f2"/><stop offset="0.7797" stop-color="#3077f1"/><stop offset="0.8728" stop-color="#2570f0"/><stop offset="0.9969" stop-color="#226ef0"/></linearGradient>
<linearGradient id="b41" x1="0" y1="0" x2="0" y2="1"><stop offset="0" stop-color="#3278f1"/><stop offset="0.1164" stop-color="#3f81f2"/><stop offset="0.1746" stop-color="#548ef3"/><stop offset="0.2095" stop-color="#6fa0f5"/><stop offset="0.2289" stop-color="#8bb3f7"/><stop offset="0.2405" stop-color="#a7c5f9"/><stop offset="0.2483" stop-color="#c2d7fb"/><stop offset="0.256" stop-color="#ebf2fe"/><stop offset="0.2599" stop-color="#fffbf7"/><stop offset="0.2715" stop-color="#fbb884"/><stop offset="0.2754" stop-color="#f9a468"/><stop offset="0.2793" stop-color="#f7985a"/><stop offset="0.2832" stop-color="#f69455"/><stop offset="0.2909" stop-color="#f79759"/><stop offset="0.2948" stop-color="#f8a164"/><stop offset="0.2987" stop-color="#fbb47d"/><stop offset="0.3103" stop-color="#fff8f3"/><stop offset="0.3142" stop-color="#edf3fe"/><stop offset="0.322" stop-color="#c1d6fb"/><stop offset="0.3297" stop-color="#a3c3f9"/><stop offset="0.3413" stop-color="#85aff7"/><stop offset="0.3607" stop-color="#689cf5"/><stop offset="0.3918" stop-color="#4e8bf3"/><stop offset="0.45" stop-color="#397df1"/><stop offset="0.5431" stop-color="#2f77f1"/><stop offset="0.5974" stop-color="#367bf1"/><stop offset="0.6284" stop-color="#4886f2"/><stop offset="0.6439" stop-color="#5d94f4"/><stop offset="0.6555" stop-color="#7ba8f6"/><stop offset="0.6633" stop-color="#9dbff8"/><stop offset="0.6672" stop-color="#b6cffa"/><stop offset="0.6711" stop-color="#d8e5fc"/><stop offset="0.6749" stop-color="#fffdfb"/><stop offset="0.6788" stop-color="#fde0c6"/><stop offset="0.6827" stop-color="#fdd2ad"/><stop offset="0.6866" stop-color="#fde0c5"/><stop offset="0.6905" stop-color="#fffcfa"/><stop offset="0.6982" stop-color="#b6cffa"/><stop offset="0.7021" stop-color="#9dbef8"/><stop offset="0.7099" stop-color="#7aa8f6"/><stop offset="0.7215" stop-color="#5c94f4"/><stop offset="0.737" stop-color="#4685f2"/><stop offset="0.768" stop-color="#3379f1"/><stop offset="0.8417" stop-color="#2771f0"/><stop offset="0.9969" stop-color="#226ef0"/></linearGradient>
<linearGradient id="b42" x1="0" y1="0" x2="0" y2="1"><stop offset="0" stop-color="#3479f1"/><stop offset="0.1125" stop-color="#4383f2"/><stop offset="0.1668" stop-color="#5791f3"/><stop offset="0.2017" stop-color="#73a3f5"/><stop offset="0.2211" stop-color="#90b6f7"/><stop offset="0.2327" stop-color="#abc8f9"/><stop offset="0.2405" stop-color="#c6dafb"/><stop offset="0.2483" stop-color="#edf3fe"/><stop offset="0.2521" stop-color="#fffaf6"/><stop offset="0.2638" stop-color="#fbbd8b"/><stop offset="0.2676" stop-color="#faaa6e"/><stop offset="0.2715" stop-color="#f89d60"/><stop offset="0.2754" stop-color="#f79759"/><stop offset="0.2832" stop-color="#f79759"/><stop offset="0.287" stop-color="#f89c5f"/><stop offset="0.2909" stop-color="#faa86c"/><stop offset="0.2948" stop-color="#fbba87"/><stop offset="0.3064" stop-color="#fffaf5"/><stop offset="0.3103" stop-color="#edf3fe"/><stop offset="0.3181" stop-color="#c3d8fb"/><stop offset="0.3297" stop-color="#9bbdf8"/><stop offset="0.3452" stop-color="#7ba8f6"/><stop offset="0.3685" stop-color="#6096f4"/><stop offset="0.4073" stop-color="#4887f2"/><stop offset="0.4771" stop-color="#367bf1"/><stop offset="0.5663" stop-color="#3178f1"/><stop offset="0.609" stop-color="#3c7ff1"/><stop offset="0.6323" stop-color="#4f8bf3"/><stop offset="0.6439" stop-color="#6298f4"/><stop offset="0.6555" stop-color="#84aef6"/><stop offset="0.6594" stop-color="#95baf8"/><stop offset="0.6633" stop-color="#acc9f9"/><stop offset="0.6672" stop-color="#cadcfb"/><stop offset="0.6711" stop-color="#f2f6fe"/><stop offset="0.6749" stop-color="#feebd9"/><stop offset="0.6788" stop-color="#fdd6b3"/><stop offset="0.6827" stop-color="#fddbbb"/><stop offset="0.6866" stop-color="#fef3e9"/><stop offset="0.6905" stop-color="#e5eefd"/><stop offset="0.6943" stop-color="#c0d5fb"/><stop offset="0.6982" stop-color="#a4c3f9"/><stop offset="0.706" stop-color="#7eabf6"/><stop offset="0.7176" stop-color="#5e95f4"/><stop offset="0.7331" stop-color="#4786f2"/><stop offset="0.7603" stop-color="#357af1"/><stop offset="0.8262" stop-color="#2872f0"/><stop offset="0.9969" stop-color="#226ef0"/></linearGradient>
<linearGradient id="b43" x1="0" y1="0" x2="0" y2="1"><stop offset="0" stop-color="#357af1"/><stop offset="0.1047" stop-color="#4484f2"/><stop offset="0.1629" stop-color="#5b93f4"/><stop offset="0.1939" stop-color="#74a4f5"/><stop offset="0.2133" stop-color="#90b6f7"/><stop offset="0.225" stop-color="#aac7f9"/><stop offset="0.2327" stop-color="#c4d8fb"/><stop offset="0.2405" stop-color="#e9f1fd"/><stop offset="0.2444" stop-color="#fffefd"/><stop offset="0.256" stop-color="#fcc496"/><stop offset="0.2599" stop-color="#fab178"/><stop offset="0.2638" stop-color="#f9a366"/><stop offset="0.2676" stop-color="#f79b5e"/><stop offset="0.2754" stop-color="#f7995b"/><stop offset="0.2793" stop-color="#f79c5e"/><stop offset="0.2832" stop-color="#f9a366"/><stop offset="0.287" stop-color="#fab179"/><stop offset="0.2948" stop-color="#fdd9b8"/><stop offset="0.3026" stop-color="#fefeff"/><stop offset="0.3103" stop-color="#d0e0fc"/><stop offset="0.3181" stop-color="#b0cbf9"/><stop offset="0.3297" stop-color="#8fb6f7"/><stop offset="0.3491" stop-color="#70a1f5"/><stop offset="0.3801" stop-color="#558ff3"/><stop offset="0.4344" stop-color="#3e80f2"/><stop offset="0.5237" stop-color="#3178f1"/><stop offset="0.5857" stop-color="#357af1"/><stop offset="0.6168" stop-color="#4383f2"/><stop offset="0.6362" stop-color="#5891f3"/><stop offset="0.6478" stop-color="#71a2f5"/><stop offset="0.6555" stop-color="#8eb5f7"/><stop offset="0.6594" stop-color="#a2c2f9"/><stop offset="0.6633" stop-color="#bdd4fa"/><stop offset="0.6672" stop-color="#e1ebfd"/><stop offset="0.6711" stop-color="#fff7ef"/><stop offset="0.6749" stop-color="#fdddc0"/><stop offset="0.6788" stop-color="#fdd8b6"/><stop offset="0.6827" stop-color="#feebd9"/><stop offset="0.6866" stop-color="#f2f7fe"/><stop offset="0.6905" stop-color="#cbddfb"/><stop offset="0.6943" stop-color="#acc9f9"/><stop offset="0.6982" stop-color="#95b9f8"/><stop offset="0.706" stop-color="#75a4f5"/><stop offset="0.7176" stop-color="#5992f3"/><stop offset="0.737" stop-color="#4182f2"/><stop offset="0.7719" stop-color="#3077f1"/><stop offset="0.865" stop-color="#2570f0"/><stop offset="0.9969" stop-color="#226ef0"/></linearGradient>
<linearGradient id="b44" x1="0" y1="0" x2="0" y2="1"><stop offset="0" stop-color="#357af1"/><stop offset="0.1047" stop-color="#4484f2"/><stop offset="0.159" stop-color="#5a92f4"/><stop offset="0.1901" stop-color="#73a3f5"/><stop offset="0.2095" stop-color="#8fb5f7"/><stop offset="0.2211" stop-color="#abc8f9"/><stop offset="0.2289" stop-color="#c7dafb"/><stop offset="0.2366" stop-color="#eff4fe"/><stop offset="0.2405" stop-color="#fff9f3"/><stop offset="0.2521" stop-color="#fbbc8a"/><stop offset="0.256" stop-color="#faac70"/><stop offset="0.2599" stop-color="#f8a164"/><stop offset="0.2676" stop-color="#f89c5e"/><stop offset="0.2754" stop-color="#f9a266"/><stop offset="0.2793" stop-color="#faad73"/><stop offset="0.2832" stop-color="#fbbf8e"/><stop offset="0.2948" stop-color="#fffcfa"/><stop offset="0.3026" stop-color="#d2e1fc"/><stop offset="0.3103" stop-color="#b0cbf9"/><stop offset="0.322" stop-color="#8eb5f7"/><stop offset="0.3413" stop-color="#6ea0f5"/><stop offset="0.3724" stop-color="#538ef3"/><stop offset="0.4267" stop-color="#3d80f2"/><stop offset="0.5198" stop-color="#3077f1"/><stop offset="0.5857" stop-color="#357af1"/><stop offset="0.6168" stop-color="#4484f2"/><stop offset="0.6362" stop-color="#5b93f4"/><stop offset="0.6478" stop-color="#78a6f6"/><stop offset="0.6555" stop-color="#98bbf8"/><stop offset="0.6594" stop-color="#b0cbfa"/><stop offset="0.6633" stop-color="#cfe0fc"/><stop offset="0.6672" stop-color="#f8fafe"/><stop offset="0.6711" stop-color="#fee8d4"/><stop offset="0.6749" stop-color="#fdd9b8"/><stop offset="0.6788" stop-color="#fee3cb"/><stop offset="0.6827" stop-color="#fffefd"/><stop offset="0.6866" stop-color="#d7e5fc"/><stop offset="0.6905" stop-color="#b5cefa"/><stop offset="0.6943" stop-color="#9cbef8"/><stop offset="0.7021" stop-color="#79a7f6"/><stop offset="0.7137" stop-color="#5b93f4"/><stop offset="0.7331" stop-color="#4283f2"/><stop offset="0.768" stop-color="#3077f1"/><stop offset="0.8611" stop-color="#2570f0"/><stop offset="0.9969" stop-color="#226ef0"/></linearGradient>
<linearGradient id="b45" x1="0" y1="0" x2="0" y2="1"><stop offset="0" stop-color="#387cf1"/><stop offset="0.09697" stop-color="#4887f2"/><stop offset="0.1513" stop-color="#6096f4"/><stop offset="0.1823" stop-color="#7aa8f6"/><stop offset="0.2017" stop-color="#97bbf8"/><stop offset="0.2133" stop-color="#b4cefa"/><stop offset="0.2211" stop-color="#d1e1fc"/><stop offset="0.2289" stop-color="#f9fbff"/><stop offset="0.2327" stop-color="#fef3e9"/><stop offset="0.2405" stop-color="#fccfa7"/><stop offset="0.2444" stop-color="#fbbc8a"/><stop offset="0.2483" stop-color="#faae74"/><stop offset="0.2521" stop-color="#f9a467"/><stop offset="0.2599" stop-color="#f89e61"/><stop offset="0.2676" stop-color="#f8a164"/><stop offset="0.2715" stop-color="#f9a76b"/><stop offset="0.2754" stop-color="#fbb27b"/><stop offset="0.2793" stop-color="#fcc394"/><stop offset="0.2909" stop-color="#fffaf6"/><stop offset="0.2948" stop-color="#edf3fe"/><stop offset="0.3026" stop-color="#c6d9fb"/><stop offset="0.3142" stop-color="#9ebff8"/><stop offset="0.3297" stop-color="#7fabf6"/><stop offset="0.3569" stop-color="#6197f4"/><stop offset="0.4034" stop-color="#4786f2"/><stop offset="0.481" stop-color="#357bf1"/><stop offset="0.5663" stop-color="#3379f1"/><stop offset="0.6051" stop-color="#3e80f2"/><stop offset="0.6284" stop-color="#538ef3"/><stop offset="0.64" stop-color="#689cf5"/><stop offset="0.6478" stop-color="#7fabf6"/><stop offset="0.6555" stop-color="#a5c4f9"/><stop offset="0.6594" stop-color="#c0d6fb"/><stop offset="0.6633" stop-color="#e5eefd"/><stop offset="0.6672" stop-color="#fef4eb"/><stop offset="0.6711" stop-color="#fddec2"/><stop offset="0.6749" stop-color="#fddec1"/><stop offset="0.6788" stop-color="#fef3e9"/><stop offset="0.6827" stop-color="#e6effd"/><stop offset="0.6866" stop-color="#c1d6fb"/><stop offset="0.6905" stop-color="#a5c4f9"/><stop offset="0.6982" stop-color="#7fabf6"/><stop offset="0.7099" stop-color="#5e96f4"/><stop offset="0.7254" stop-color="#4886f2"/><stop offset="0.7525" stop-color="#357af1"/><stop offset="0.8185" stop-color="#2872f0"/><stop offset="0.9969" stop-color="#236ef0"/></linearGradient>
<linearGradient id="b46" x1="0" y1="0" x2="0" y2="1"><stop offset="0" stop-color="#377cf1"/><stop offset="0.09697" stop-color="#4887f2"/><stop offset="0.1513" stop-color="#6197f4"/><stop offset="0.1823" stop-color="#7daaf6"/><stop offset="0.1978" stop-color="#96baf8"/><stop offset="0.2095" stop-color="#b5cefa"/><stop offset="0.2172" stop-color="#d4e3fc"/><stop offset="0.225" stop-color="#fffffe"/><stop offset="0.2366" stop-color="#fcc79b"/><stop offset="0.2405" stop-color="#fbb680"/><stop offset="0.2444" stop-color="#faa96d"/><stop offset="0.2521" stop-color="#f8a163"/><stop offset="0.2599" stop-color="#f9a265"/><stop offset="0.2638" stop-color="#f9a66a"/><stop offset="0.2676" stop-color="#fab077"/><stop offset="0.2715" stop-color="#fbbe8e"/><stop offset="0.2754" stop-color="#fdd2ac"/><stop offset="0.2832" stop-color="#fff8f2"/><stop offset="0.287" stop-color="#eff5fe"/><stop offset="0.2948" stop-color="#c5d9fb"/><stop offset="0.3064" stop-color="#9cbef8"/><stop offset="0.322" stop-color="#7da9f6"/><stop offset="0.3491" stop-color="#5f96f4"/><stop offset="0.3957" stop-color="#4685f2"/><stop offset="0.4771" stop-color="#347af1"/><stop offset="0.5663" stop-color="#3279f1"/><stop offset="0.6051" stop-color="#3f81f2"/><stop offset="0.6245" stop-color="#508cf3"/><stop offset="0.6362" stop-color="#6499f4"/><stop offset="0.6439" stop-color="#79a7f6"/><stop offset="0.6517" stop-color="#9abcf8"/><stop offset="0.6555" stop-color="#b2ccfa"/><stop offset="0.6594" stop-color="#d2e2fc"/><stop offset="0.6633" stop-color="#fbfcff"/><stop offset="0.6672" stop-color="#fee8d3"/><stop offset="0.6711" stop-color="#fddcbd"/><stop offset="0.6749" stop-color="#fee9d6"/><stop offset="0.6788" stop-color="#f8fafe"/><stop offset="0.6827" stop-color="#cfe0fc"/><stop offset="0.6866" stop-color="#b0cbf9"/><stop offset="0.6905" stop-color="#98bbf8"/><stop offset="0.6982" stop-color="#77a5f6"/><stop offset="0.7099" stop-color="#5a92f4"/><stop offset="0.7292" stop-color="#4182f2"/><stop offset="0.7642" stop-color="#3077f1"/><stop offset="0.8573" stop-color="#2670f0"/><stop offset="0.9969" stop-color="#226ef0"/></linearGradient>
<linearGradient id="b47" x1="0" y1="0" x2="0" y2="1"><stop offset="0" stop-color="#397df1"/><stop offset="0.0931" stop-color="#4a88f2"/><stop offset="0.1435" stop-color="#6298f4"/><stop offset="0.1746" stop-color="#7daaf6"/><stop offset="0.1901" stop-color="#96baf8"/><stop offset="0.2017" stop-color="#b3cdfa"/><stop offset="0.2095" stop-color="#d1e1fc"/><stop offset="0.2172" stop-color="#fbfdff"/><stop offset="0.2211" stop-color="#fef0e4"/><stop offset="0.2289" stop-color="#fccba2"/><stop offset="0.2327" stop-color="#fbba87"/><stop offset="0.2366" stop-color="#faad73"/><stop offset="0.2405" stop-color="#f9a669"/><stop offset="0.2521" stop-color="#f9a366"/><stop offset="0.256" stop-color="#f9a669"/><stop offset="0.2599" stop-color="#faac71"/><stop offset="0.2638" stop-color="#fbb783"/><stop offset="0.2676" stop-color="#fcc89c"/><stop offset="0.2793" stop-color="#fefeff"/><stop offset="0.287" stop-color="#d0e0fc"/><stop offset="0.2948" stop-color="#afcbf9"/><stop offset="0.3064" stop-color="#8fb5f7"/><stop offset="0.3258" stop-color="#71a1f5"/><stop offset="0.3569" stop-color="#5690f3"/><stop offset="0.4112" stop-color="#4082f2"/><stop offset="0.5043" stop-color="#3278f1"/><stop offset="0.578" stop-color="#357af1"/><stop offset="0.609" stop-color="#4383f2"/><stop offset="0.6284" stop-color="#5992f3"/><stop offset="0.64" stop-color="#73a3f5"/><stop offset="0.6478" stop-color="#90b6f7"/><stop offset="0.6517" stop-color="#a5c4f9"/><stop offset="0.6555" stop-color="#c1d7fb"/><stop offset="0.6594" stop-color="#e6effd"/><stop offset="0.6633" stop-color="#fef4ea"/><stop offset="0.6672" stop-color="#fddfc4"/><stop offset="0.6711" stop-color="#fee1c7"/><stop offset="0.6749" stop-color="#fff7f1"/><stop offset="0.6788" stop-color="#e1ebfd"/><stop offset="0.6827" stop-color="#bdd4fa"/><stop offset="0.6866" stop-color="#a2c2f9"/><stop offset="0.6943" stop-color="#7da9f6"/><stop offset="0.706" stop-color="#5d95f4"/><stop offset="0.7215" stop-color="#4786f2"/><stop offset="0.7525" stop-color="#3379f1"/><stop offset="0.8262" stop-color="#2771f0"/><stop offset="0.9969" stop-color="#226ef0"/></linearGradient>
<linearGradient id="b48" x1="0" y1="0" x2="0" y2="1"><stop offset="0" stop-color="#3b7ff1"/><stop offset="0.08922" stop-color="#4f8bf3"/><stop offset="0.1396" stop-color="#689cf5"/><stop offset="0.1668" stop-color="#82adf6"/><stop offset="0.1823" stop-color="#9abdf8"/><stop offset="0.1939" stop-color="#b8d1fa"/><stop offset="0.2017" stop-color="#d7e4fc"/><stop offset="0.2095" stop-color="#fffefd"/><stop offset="0.2211" stop-color="#fccba1"/><stop offset="0.225" stop-color="#fbbb89"/><stop offset="0.2289" stop-color="#faaf76"/><stop offset="0.2327" stop-color="#faa86c"/><stop offset="0.2444" stop-color="#f9a468"/><stop offset="0.2521" stop-color="#faa96d"/><stop offset="0.256" stop-color="#fab179"/><stop offset="0.2599" stop-color="#fbbd8c"/><stop offset="0.2638" stop-color="#fccda5"/><stop offset="0.2715" stop-color="#fef1e4"/><stop offset="0.2754" stop-color="#fbfcff"/><stop offset="0.2832" stop-color="#d0e0fc"/><stop offset="0.2909" stop-color="#b0cbfa"/><stop offset="0.3026" stop-color="#91b7f7"/><stop offset="0.322" stop-color="#73a3f5"/><stop offset="0.3569" stop-color="#5790f3"/><stop offset="0.4151" stop-color="#4082f2"/><stop offset="0.512" stop-color="#3379f1"/><stop offset="0.578" stop-color="#367bf1"/><stop offset="0.609" stop-color="#4585f2"/><stop offset="0.6284" stop-color="#5c94f4"/><stop offset="0.64" stop-color="#79a7f6"/><stop offset="0.6478" stop-color="#9abdf8"/><stop offset="0.6517" stop-color="#b2cdfa"/><stop offset="0.6555" stop-color="#d2e2fc"/><stop offset="0.6594" stop-color="#fafcff"/><stop offset="0.6633" stop-color="#fee8d5"/><stop offset="0.6672" stop-color="#fddec1"/><stop offset="0.6711" stop-color="#feebda"/><stop offset="0.6749" stop-color="#f5f8fe"/><stop offset="0.6788" stop-color="#cedefc"/><stop offset="0.6827" stop-color="#aecaf9"/><stop offset="0.6866" stop-color="#97baf8"/><stop offset="0.6943" stop-color="#76a5f6"/><stop offset="0.706" stop-color="#5a92f4"/><stop offset="0.7254" stop-color="#4283f2"/><stop offset="0.7603" stop-color="#3177f1"/><stop offset="0.8534" stop-color="#2670f0"/><stop offset="0.9969" stop-color="#236ef0"/></linearGradient>
<linearGradient id="b49" x1="0" y1="0" x2="0" y2="1"><stop offset="0" stop-color="#3b7ef1"/><stop offset="0.08534" stop-color="#4c8af3"/><stop offset="0.1358" stop-color="#659af4"/><stop offset="0.1629" stop-color="#7eaaf6"/><stop offset="0.1784" stop-color="#97bbf8"/><stop offset="0.1901" stop-color="#b6cffa"/><stop offset="0.1978" stop-color="#d7e4fc"/><stop offset="0.2017" stop-color="#ecf2fe"/><stop offset="0.2056" stop-color="#fffcf9"/><stop offset="0.2133" stop-color="#fdd8b6"/><stop offset="0.2172" stop-color="#fcc599"/><stop offset="0.2211" stop-color="#fbb782"/><stop offset="0.225" stop-color="#faad73"/><stop offset="0.2289" stop-color="#faa86c"/><stop offset="0.2405" stop-color="#faa76b"/><stop offset="0.2444" stop-color="#faaa6e"/><stop offset="0.2483" stop-color="#fab179"/><stop offset="0.2521" stop-color="#fbbc8b"/><stop offset="0.256" stop-color="#fccda4"/><stop offset="0.2638" stop-color="#fef2e7"/><stop offset="0.2676" stop-color="#f8fafe"/><stop offset="0.2754" stop-color="#cadcfb"/><stop offset="0.2832" stop-color="#aac7f9"/><stop offset="0.2948" stop-color="#8cb3f7"/><stop offset="0.3142" stop-color="#6fa0f5"/><stop offset="0.3491" stop-color="#538ef3"/><stop offset="0.4112" stop-color="#3d80f2"/><stop offset="0.512" stop-color="#3178f1"/><stop offset="0.578" stop-color="#367bf1"/><stop offset="0.609" stop-color="#4585f2"/><stop offset="0.6245" stop-color="#5891f3"/><stop offset="0.6362" stop-color="#72a2f5"/><stop offset="0.6439" stop-color="#8fb5f7"/><stop offset="0.6478" stop-color="#a3c3f9"/><stop offset="0.6517" stop-color="#bfd5fb"/><stop offset="0.6555" stop-color="#e3ecfd"/><stop offset="0.6594" stop-color="#fff6ef"/><stop offset="0.6633" stop-color="#fee2c9"/><stop offset="0.6672" stop-color="#fee3ca"/><stop offset="0.6711" stop-color="#fff8f2"/><stop offset="0.6749" stop-color="#e0ebfd"/><stop offset="0.6788" stop-color="#bcd3fa"/><stop offset="0.6827" stop-color="#a1c1f8"/><stop offset="0.6905" stop-color="#7da9f6"/><stop offset="0.7021" stop-color="#5d95f4"/><stop offset="0.7176" stop-color="#4786f2"/><stop offset="0.7486" stop-color="#3379f1"/><stop offset="0.8223" stop-color="#2771f0"/><stop offset="0.9969" stop-color="#226ef0"/></linearGradient>
<linearGradient id="b50" x1="0" y1="0" x2="0" y2="1"><stop offset="0" stop-color="#3e80f2"/><stop offset="0.08146" stop-color="#528df3"/><stop offset="0.1319" stop-color="#6d9ff5"/><stop offset="0.159" stop-color="#8ab2f7"/><stop offset="0.1746" stop-color="#a7c5f9"/><stop offset="0.1862" stop-color="#cedffc"/><stop offset="0.1939" stop-color="#f6f9fe"/><stop offset="0.1978" stop-color="#fff6ed"/><stop offset="0.2056" stop-color="#fdd4b0"/><stop offset="0.2095" stop-color="#fcc496"/><stop offset="0.2133" stop-color="#fbb782"/><stop offset="0.2172" stop-color="#faae74"/><stop offset="0.2211" stop-color="#faaa6e"/><stop offset="0.2366" stop-color="#faaa6e"/><stop offset="0.2405" stop-color="#faae74"/><stop offset="0.2444" stop-color="#fbb580"/><stop offset="0.2483" stop-color="#fcc192"/><stop offset="0.2521" stop-color="#fdd1ab"/><stop offset="0.2599" stop-color="#fef3e9"/><stop offset="0.2638" stop-color="#f8fafe"/><stop offset="0.2715" stop-color="#cddefc"/><stop offset="0.2793" stop-color="#aecaf9"/><stop offset="0.2909" stop-color="#8fb5f7"/><stop offset="0.3103" stop-color="#72a2f5"/><stop offset="0.3452" stop-color="#5791f3"/><stop offset="0.4073" stop-color="#4082f2"/><stop offset="0.5081" stop-color="#3279f1"/><stop offset="0.5741" stop-color="#367bf1"/><stop offset="0.6051" stop-color="#4484f2"/><stop offset="0.6245" stop-color="#5c94f4"/><stop offset="0.6362" stop-color="#77a6f6"/><stop offset="0.6439" stop-color="#97bbf8"/><stop offset="0.6478" stop-color="#afcaf9"/><stop offset="0.6517" stop-color="#cedffc"/><stop offset="0.6555" stop-color="#f4f8fe"/><stop offset="0.6594" stop-color="#feecdc"/><stop offset="0.6633" stop-color="#fde0c4"/><stop offset="0.6672" stop-color="#feebda"/><stop offset="0.6711" stop-color="#f6f9fe"/><stop offset="0.6749" stop-color="#cfdffc"/><stop offset="0.6788" stop-color="#b0cbf9"/><stop offset="0.6827" stop-color="#98bbf8"/><stop offset="0.6905" stop-color="#77a6f6"/><stop offset="0.7021" stop-color="#5a93f4"/><stop offset="0.7215" stop-color="#4283f2"/><stop offset="0.7564" stop-color="#3178f1"/><stop offset="0.8495" stop-color="#2670f0"/><stop offset="0.9969" stop-color="#236ef0"/></linearGradient>
<linearGradient id="b51" x1="0" y1="0" x2="0" y2="1"><stop offset="0" stop-color="#3f81f2"/><stop offset="0.08146" stop-color="#548ff3"/><stop offset="0.128" stop-color="#6fa0f5"/><stop offset="0.1552" stop-color="#8db4f7"/><stop offset="0.1668" stop-color="#a3c3f9"/><stop offset="0.1784" stop-color="#c8dbfb"/><stop offset="0.1862" stop-color="#eef4fe"/><stop offset="0.1901" stop-color="#fffbf7"/><stop offset="0.1978" stop-color="#fddab9"/><stop offset="0.2017" stop-color="#fcc99e"/><stop offset="0.2056" stop-color="#fbbb89"/><stop offset="0.2095" stop-color="#fbb27a"/><stop offset="0.2172" stop-color="#faaa6e"/><stop offset="0.2289" stop-color="#faab70"/><stop offset="0.2366" stop-color="#fbb47e"/><stop offset="0.2405" stop-color="#fbbe8d"/><stop offset="0.2444" stop-color="#fccca3"/><stop offset="0.2521" stop-color="#feeedf"/><stop offset="0.256" stop-color="#ffffff"/><stop offset="0.2638" stop-color="#d2e1fc"/><stop offset="0.2715" stop-color="#b1ccfa"/><stop offset="0.2832" stop-color="#90b6f7"/><stop offset="0.3026" stop-color="#73a3f5"/><stop offset="0.3375" stop-color="#5791f3"/><stop offset="0.3995" stop-color="#4082f2"/><stop offset="0.5043" stop-color="#3278f1"/><stop offset="0.5741" stop-color="#367bf1"/><stop offset="0.6051" stop-color="#4585f2"/><stop offset="0.6206" stop-color="#5791f3"/><stop offset="0.6323" stop-color="#70a1f5"/><stop offset="0.64" stop-color="#8cb3f7"/><stop offset="0.6439" stop-color="#a0c0f8"/><stop offset="0.6478" stop-color="#bad1fa"/><stop offset="0.6517" stop-color="#dce8fd"/><stop offset="0.6555" stop-color="#fffcf9"/><stop offset="0.6594" stop-color="#fee6cf"/><stop offset="0.6633" stop-color="#fee3ca"/><stop offset="0.6672" stop-color="#fff6ee"/><stop offset="0.6711" stop-color="#e4edfd"/><stop offset="0.6749" stop-color="#c0d6fb"/><stop offset="0.6788" stop-color="#a4c3f9"/><stop offset="0.6866" stop-color="#7eabf6"/><stop offset="0.6982" stop-color="#5e95f4"/><stop offset="0.7137" stop-color="#4786f2"/><stop offset="0.7409" stop-color="#357bf1"/><stop offset="0.8068" stop-color="#2872f0"/><stop offset="0.9969" stop-color="#236ef0"/></linearGradient>
<linearGradient id="b52" x1="0" y1="0" x2="0" y2="1"><stop offset="0" stop-color="#4081f2"/><stop offset="0.07758" stop-color="#548ef3"/><stop offset="0.1241" stop-color="#6ea0f5"/><stop offset="0.1474" stop-color="#87b0f7"/><stop offset="0.1629" stop-color="#a5c4f9"/><stop offset="0.1707" stop-color="#bed4fa"/><stop offset="0.1784" stop-color="#e2ecfd"/><stop offset="0.1823" stop-color="#f8fbff"/><stop offset="0.1862" stop-color="#fef3e8"/><stop offset="0.1939" stop-color="#fdd0a9"/><stop offset="0.1978" stop-color="#fcc191"/><stop offset="0.2017" stop-color="#fbb680"/><stop offset="0.2056" stop-color="#faaf76"/><stop offset="0.2133" stop-color="#faab70"/><stop offset="0.225" stop-color="#faae75"/><stop offset="0.2289" stop-color="#fbb37c"/><stop offset="0.2327" stop-color="#fbbc8a"/><stop offset="0.2366" stop-color="#fcca9f"/><stop offset="0.2405" stop-color="#fddbbb"/><stop offset="0.2483" stop-color="#fffefd"/><stop offset="0.256" stop-color="#d2e1fc"/><stop offset="0.2638" stop-color="#afcbf9"/><stop offset="0.2754" stop-color="#8fb5f7"/><stop offset="0.2948" stop-color="#71a2f5"/><stop offset="0.3297" stop-color="#5690f3"/><stop offset="0.3918" stop-color="#3f81f2"/><stop offset="0.5004" stop-color="#3178f1"/><stop offset="0.5702" stop-color="#357af1"/><stop offset="0.6012" stop-color="#4383f2"/><stop offset="0.6206" stop-color="#5992f3"/><stop offset="0.6323" stop-color="#74a3f5"/><stop offset="0.64" stop-color="#92b7f7"/><stop offset="0.6439" stop-color="#a8c6f9"/><stop offset="0.6478" stop-color="#c5d9fb"/><stop offset="0.6517" stop-color="#e9f1fe"/><stop offset="0.6555" stop-color="#fef3e8"/><stop offset="0.6594" stop-color="#fee3ca"/><stop offset="0.6633" stop-color="#fee9d6"/><stop offset="0.6672" stop-color="#fcfdff"/><stop offset="0.6711" stop-color="#d4e3fc"/><stop offset="0.6749" stop-color="#b3cdfa"/><stop offset="0.6788" stop-color="#9abdf8"/><stop offset="0.6866" stop-color="#78a7f6"/><stop offset="0.6982" stop-color="#5b93f4"/><stop offset="0.7176" stop-color="#4283f2"/><stop offset="0.7525" stop-color="#3177f1"/><stop offset="0.8456" stop-color="#2670f0"/><stop offset="0.9969" stop-color="#226ef0"/></linearGradient>
<linearGradient id="b53" x1="0" y1="0" x2="0" y2="1"><stop offset="0" stop-color="#4484f2"/><stop offset="0.0737" stop-color="#5a92f4"/><stop offset="0.1164" stop-color="#74a3f5"/><stop offset="0.1396" stop-color="#8eb5f7"/><stop offset="0.1552" stop-color="#aecaf9"/><stop offset="0.1629" stop-color="#c8dbfb"/><stop offset="0.1707" stop-color="#edf3fe"/><stop offset="0.1746" stop-color="#fffcfa"/><stop offset="0.1862" stop-color="#fccca3"/><stop offset="0.1901" stop-color="#fbbe8e"/><stop offset="0.1939" stop-color="#fbb57e"/><stop offset="0.2017" stop-color="#faac71"/><stop offset="0.2172" stop-color="#faad73"/><stop offset="0.225" stop-color="#fbb681"/><stop offset="0.2289" stop-color="#fbc090"/><stop offset="0.2327" stop-color="#fccea6"/><stop offset="0.2405" stop-color="#feeee0"/><stop offset="0.2444" stop-color="#ffffff"/><stop offset="0.2521" stop-color="#d3e2fc"/><stop offset="0.2599" stop-color="#b2ccfa"/><stop offset="0.2715" stop-color="#91b7f7"/><stop offset="0.2909" stop-color="#74a4f5"/><stop offset="0.3258" stop-color="#5992f3"/><stop offset="0.3879" stop-color="#4283f2"/><stop offset="0.4965" stop-color="#3379f1"/><stop offset="0.5702" stop-color="#367bf1"/><stop offset="0.6012" stop-color="#4585f2"/><stop offset="0.6206" stop-color="#5c94f4"/><stop offset="0.6323" stop-color="#78a7f6"/><stop offset="0.64" stop-color="#99bcf8"/><stop offset="0.6439" stop-color="#b1ccfa"/><stop offset="0.6478" stop-color="#d1e0fc"/><stop offset="0.6517" stop-color="#f7fafe"/><stop offset="0.6555" stop-color="#feecdb"/><stop offset="0.6594" stop-color="#fee3cb"/><stop offset="0.6633" stop-color="#fef1e5"/><stop offset="0.6672" stop-color="#edf3fe"/><stop offset="0.6711" stop-color="#c8dbfb"/><stop offset="0.6749" stop-color="#aac7f9"/><stop offset="0.6788" stop-color="#93b8f8"/><stop offset="0.6866" stop-color="#74a4f5"/><stop offset="0.6982" stop-color="#5992f3"/><stop offset="0.7176" stop-color="#4182f2"/><stop offset="0.7525" stop-color="#3177f1"/><stop offset="0.8495" stop-color="#2670f0"/><stop offset="0.9969" stop-color="#236ef0"/></linearGradient>
<linearGradient id="b54" x1="0" y1="0" x2="0" y2="1"><stop offset="0" stop-color="#4383f2"/><stop offset="0.0737" stop-color="#5992f3"/><stop offset="0.1164" stop-color="#74a4f5"/><stop offset="0.1396" stop-color="#90b6f7"/><stop offset="0.1513" stop-color="#abc8f9"/><stop offset="0.159" stop-color="#c6dafb"/><stop offset="0.1668" stop-color="#eef4fe"/><stop offset="0.1707" stop-color="#fffaf5"/><stop offset="0.1784" stop-color="#fdd7b5"/><stop offset="0.1823" stop-color="#fcc79b"/><stop offset="0.1862" stop-color="#fbba87"/><stop offset="0.1901" stop-color="#fbb27a"/><stop offset="0.1978" stop-color="#faad72"/><stop offset="0.2095" stop-color="#faae75"/><stop offset="0.2172" stop-color="#fbb782"/><stop offset="0.2211" stop-color="#fcc191"/><stop offset="0.225" stop-color="#fccfa8"/><stop offset="0.2327" stop-color="#fef2e7"/><stop offset="0.2366" stop-color="#f8fafe"/><stop offset="0.2444" stop-color="#cadcfb"/><stop offset="0.2521" stop-color="#a9c7f9"/><stop offset="0.2638" stop-color="#8bb3f7"/><stop offset="0.2832" stop-color="#6fa0f5"/><stop offset="0.322" stop-color="#538ef3"/><stop offset="0.3879" stop-color="#3e80f2"/><stop offset="0.5004" stop-color="#3177f1"/><stop offset="0.5702" stop-color="#367bf1"/><stop offset="0.6012" stop-color="#4585f2"/><stop offset="0.6168" stop-color="#5790f3"/><stop offset="0.6284" stop-color="#6fa1f5"/><stop offset="0.6362" stop-color="#8bb3f7"/><stop offset="0.64" stop-color="#9fc0f8"/><stop offset="0.6439" stop-color="#b9d1fa"/><stop offset="0.6517" stop-color="#fffdfb"/><stop offset="0.6555" stop-color="#fee8d4"/><stop offset="0.6594" stop-color="#fee7d2"/><stop offset="0.6633" stop-color="#fffaf6"/><stop offset="0.6672" stop-color="#dfeafd"/><stop offset="0.6711" stop-color="#bcd3fa"/><stop offset="0.6749" stop-color="#a1c1f8"/><stop offset="0.6827" stop-color="#7ca9f6"/><stop offset="0.6943" stop-color="#5d94f4"/><stop offset="0.7099" stop-color="#4786f2"/><stop offset="0.7409" stop-color="#3379f1"/><stop offset="0.8146" stop-color="#2771f0"/><stop offset="0.9969" stop-color="#226ef0"/></linearGradient>
<linearGradient id="b55" x1="0" y1="0" x2="0" y2="1"><stop offset="0" stop-color="#4685f2"/><stop offset="0.06982" stop-color="#5c94f4"/><stop offset="0.1125" stop-color="#79a7f6"/><stop offset="0.1319" stop-color="#93b8f7"/><stop offset="0.1435" stop-color="#adc9f9"/><stop offset="0.1513" stop-color="#c9dcfb"/><stop offset="0.159" stop-color="#f1f6fe"/><stop offset="0.1629" stop-color="#fff8f2"/><stop offset="0.1707" stop-color="#fdd7b4"/><stop offset="0.1746" stop-color="#fcc79a"/><stop offset="0.1784" stop-color="#fbba87"/><stop offset="0.1823" stop-color="#fbb37b"/><stop offset="0.1901" stop-color="#faad73"/><stop offset="0.2056" stop-color="#fab078"/><stop offset="0.2095" stop-color="#fbb47e"/><stop offset="0.2133" stop-color="#fbbc8a"/><stop offset="0.2172" stop-color="#fcc89d"/><stop offset="0.2211" stop-color="#fdd8b6"/><stop offset="0.2289" stop-color="#fffaf6"/><stop offset="0.2327" stop-color="#edf3fe"/><stop offset="0.2405" stop-color="#c3d7fb"/><stop offset="0.2483" stop-color="#a5c4f9"/><stop offset="0.2599" stop-color="#89b1f7"/><stop offset="0.2793" stop-color="#6fa0f5"/><stop offset="0.3181" stop-color="#548ff3"/><stop offset="0.3879" stop-color="#3e80f2"/><stop offset="0.5043" stop-color="#3178f1"/><stop offset="0.5702" stop-color="#367bf1"/><stop offset="0.6012" stop-color="#4685f2"/><stop offset="0.6168" stop-color="#5992f3"/><stop offset="0.6284" stop-color="#73a3f5"/><stop offset="0.6362" stop-color="#90b6f7"/><stop offset="0.64" stop-color="#a5c4f9"/><stop offset="0.6439" stop-color="#c1d6fb"/><stop offset="0.6478" stop-color="#e5eefd"/><stop offset="0.6517" stop-color="#fff6ef"/><stop offset="0.6555" stop-color="#fee6d0"/><stop offset="0.6594" stop-color="#feecdb"/><stop offset="0.6633" stop-color="#fafcff"/><stop offset="0.6672" stop-color="#d3e2fc"/><stop offset="0.6711" stop-color="#b3cdfa"/><stop offset="0.6749" stop-color="#9abcf8"/><stop offset="0.6827" stop-color="#78a6f6"/><stop offset="0.6943" stop-color="#5b93f4"/><stop offset="0.7137" stop-color="#4283f2"/><stop offset="0.7486" stop-color="#3177f1"/><stop offset="0.8417" stop-color="#2670f0"/><stop offset="0.9969" stop-color="#236ef0"/></linearGradient>
<linearGradient id="b56" x1="0" y1="0" x2="0" y2="1"><stop offset="0" stop-color="#4987f2"/><stop offset="0.06594" stop-color="#6096f4"/><stop offset="0.1047" stop-color="#7ba8f6"/><stop offset="0.1241" stop-color="#94b9f8"/><stop offset="0.1358" stop-color="#afcaf9"/><stop offset="0.1435" stop-color="#cbddfb"/><stop offset="0.1513" stop-color="#f2f7fe"/><stop offset="0.1552" stop-color="#fff7f1"/><stop offset="0.1629" stop-color="#fdd7b3"/><stop offset="0.1668" stop-color="#fcc79b"/><stop offset="0.1707" stop-color="#fbbb88"/><stop offset="0.1746" stop-color="#fbb37c"/><stop offset="0.1823" stop-color="#faae74"/><stop offset="0.1978" stop-color="#fab077"/><stop offset="0.2056" stop-color="#fbb985"/><stop offset="0.2095" stop-color="#fcc394"/><stop offset="0.2133" stop-color="#fdd1aa"/><stop offset="0.2211" stop-color="#fef2e6"/><stop offset="0.225" stop-color="#f9fbff"/><stop offset="0.2327" stop-color="#ccdefb"/><stop offset="0.2405" stop-color="#acc8f9"/><stop offset="0.2521" stop-color="#8db4f7"/><stop offset="0.2715" stop-color="#71a2f5"/><stop offset="0.3103" stop-color="#5690f3"/><stop offset="0.3801" stop-color="#3f81f2"/><stop offset="0.4965" stop-color="#3178f1"/><stop offset="0.5663" stop-color="#357bf1"/><stop offset="0.5974" stop-color="#4484f2"/><stop offset="0.6168" stop-color="#5a93f4"/><stop offset="0.6284" stop-color="#75a5f5"/><stop offset="0.6362" stop-color="#95b9f8"/><stop offset="0.64" stop-color="#abc8f9"/><stop offset="0.6439" stop-color="#c9dcfb"/><stop offset="0.6478" stop-color="#eff4fe"/><stop offset="0.6517" stop-color="#fef1e6"/><stop offset="0.6555" stop-color="#fee6d1"/><stop offset="0.6594" stop-color="#fef1e6"/><stop offset="0.6633" stop-color="#eef4fe"/><stop offset="0.6672" stop-color="#c9dcfb"/><stop offset="0.6711" stop-color="#abc8f9"/><stop offset="0.6749" stop-color="#94b9f8"/><stop offset="0.6827" stop-color="#74a4f5"/><stop offset="0.6943" stop-color="#5992f3"/><stop offset="0.7137" stop-color="#4182f2"/><stop offset="0.7486" stop-color="#3177f1"/><stop offset="0.8456" stop-color="#2670f0"/><stop offset="0.9969" stop-color="#236ef0"/></linearGradient>
<linearGradient id="b57" x1="0" y1="0" x2="0" y2="1"><stop offset="0" stop-color="#4886f2"/><stop offset="0.06594" stop-color="#5f96f4"/><stop offset="0.1047" stop-color="#7ca9f6"/><stop offset="0.1241" stop-color="#99bcf8"/><stop offset="0.1358" stop-color="#bad2fa"/><stop offset="0.1435" stop-color="#dfeafd"/><stop offset="0.1474" stop-color="#f7f9fe"/><stop offset="0.1513" stop-color="#fef3e9"/><stop offset="0.159" stop-color="#fdd0a9"/><stop offset="0.1629" stop-color="#fcc192"/><stop offset="0.1668" stop-color="#fbb782"/><stop offset="0.1707" stop-color="#fab17a"/><stop offset="0.1823" stop-color="#faaf76"/><stop offset="0.1939" stop-color="#fbb47d"/><stop offset="0.1978" stop-color="#fbba86"/><stop offset="0.2017" stop-color="#fcc496"/><stop offset="0.2056" stop-color="#fdd3ae"/><stop offset="0.2133" stop-color="#fff6ef"/><stop offset="0.2172" stop-color="#f1f6fe"/><stop offset="0.225" stop-color="#c3d8fb"/><stop offset="0.2327" stop-color="#a3c3f9"/><stop offset="0.2444" stop-color="#87b0f7"/><stop offset="0.2638" stop-color="#6d9ff5"/><stop offset="0.3026" stop-color="#538ef3"/><stop offset="0.3724" stop-color="#3d7ff2"/><stop offset="0.4965" stop-color="#3077f1"/><stop offset="0.5663" stop-color="#357af1"/><stop offset="0.5974" stop-color="#4384f2"/><stop offset="0.6168" stop-color="#5b93f4"/><stop offset="0.6284" stop-color="#77a6f6"/><stop offset="0.6362" stop-color="#98bbf8"/><stop offset="0.64" stop-color="#b0cbfa"/><stop offset="0.6439" stop-color="#d0e0fc"/><stop offset="0.6478" stop-color="#f6f9fe"/><stop offset="0.6517" stop-color="#feefe0"/><stop offset="0.6555" stop-color="#fee8d5"/><stop offset="0.6594" stop-color="#fff8f1"/><stop offset="0.6633" stop-color="#e4edfd"/><stop offset="0.6672" stop-color="#c0d6fb"/><stop offset="0.6711" stop-color="#a4c3f9"/><stop offset="0.6788" stop-color="#7eaaf6"/><stop offset="0.6905" stop-color="#5e95f4"/><stop offset="0.706" stop-color="#4786f2"/><stop offset="0.7331" stop-color="#357af1"/><stop offset="0.7991" stop-color="#2872f0"/><stop offset="0.9969" stop-color="#226ef0"/></linearGradient>
<linearGradient id="b58" x1="0" y1="0" x2="0" y2="1"><stop offset="0" stop-color="#4d8af3"/><stop offset="0.06206" stop-color="#679bf4"/><stop offset="0.09697" stop-color="#82adf6"/><stop offset="0.1125" stop-color="#99bcf8"/><stop offset="0.1241" stop-color="#b8d0fa"/><stop offset="0.1319" stop-color="#d8e6fc"/><stop offset="0.1358" stop-color="#edf3fe"/><stop offset="0.1396" stop-color="#fffbf8"/><stop offset="0.1474" stop-color="#fddaba"/><stop offset="0.1513" stop-color="#fccaa0"/><stop offset="0.1552" stop-color="#fbbe8d"/><stop offset="0.159" stop-color="#fbb680"/><stop offset="0.1668" stop-color="#faaf76"/><stop offset="0.1862" stop-color="#fbb27b"/><stop offset="0.1939" stop-color="#fbbd8c"/><stop offset="0.1978" stop-color="#fcc89d"/><stop offset="0.2017" stop-color="#fdd8b5"/><stop offset="0.2095" stop-color="#fff9f3"/><stop offset="0.2133" stop-color="#eff5fe"/><stop offset="0.2211" stop-color="#c4d8fb"/><stop offset="0.2289" stop-color="#a6c4f9"/><stop offset="0.2405" stop-color="#89b2f7"/><stop offset="0.2599" stop-color="#70a1f5"/><stop offset="0.2987" stop-color="#5690f3"/><stop offset="0.3685" stop-color="#3f81f2"/><stop offset="0.4926" stop-color="#3178f1"/><stop offset="0.5663" stop-color="#367bf1"/><stop offset="0.5974" stop-color="#4584f2"/><stop offset="0.6168" stop-color="#5d94f4"/><stop offset="0.6284" stop-color="#7aa8f6"/><stop offset="0.6362" stop-color="#9cbef8"/><stop offset="0.64" stop-color="#b6cffa"/><stop offset="0.6439" stop-color="#d7e4fc"/><stop offset="0.6478" stop-color="#fdfeff"/><stop offset="0.6517" stop-color="#feecdc"/><stop offset="0.6555" stop-color="#feebd9"/><stop offset="0.6594" stop-color="#fffdfb"/><stop offset="0.6672" stop-color="#bad1fa"/><stop offset="0.6711" stop-color="#9fc0f8"/><stop offset="0.6788" stop-color="#7ba8f6"/><stop offset="0.6905" stop-color="#5c94f4"/><stop offset="0.706" stop-color="#4686f2"/><stop offset="0.737" stop-color="#3479f1"/><stop offset="0.8107" stop-color="#2871f0"/><stop offset="0.9969" stop-color="#236ef0"/></linearGradient>
<linearGradient id="b59" x1="0" y1="0" x2="0" y2="1"><stop offset="0" stop-color="#4e8af3"/><stop offset="0.06206" stop-color="#689cf5"/><stop offset="0.0931" stop-color="#82adf6"/><stop offset="0.1086" stop-color="#9abdf8"/><stop offset="0.1202" stop-color="#bbd3fa"/><stop offset="0.128" stop-color="#e0ebfd"/><stop offset="0.1319" stop-color="#f7fafe"/><stop offset="0.1358" stop-color="#fef3e9"/><stop offset="0.1435" stop-color="#fdd1ab"/><stop offset="0.1474" stop-color="#fcc394"/><stop offset="0.1513" stop-color="#fbb985"/><stop offset="0.159" stop-color="#fab078"/><stop offset="0.1784" stop-color="#fbb37c"/><stop offset="0.1823" stop-color="#fbb681"/><stop offset="0.1862" stop-color="#fbbd8c"/><stop offset="0.1901" stop-color="#fcc99e"/><stop offset="0.1939" stop-color="#fdd8b6"/><stop offset="0.2017" stop-color="#fffbf7"/><stop offset="0.2056" stop-color="#ebf2fe"/><stop offset="0.2133" stop-color="#bfd5fb"/><stop offset="0.2211" stop-color="#a1c1f8"/><stop offset="0.2327" stop-color="#86aff7"/><stop offset="0.2521" stop-color="#6d9ff5"/><stop offset="0.2948" stop-color="#528df3"/><stop offset="0.3685" stop-color="#3c7ff1"/><stop offset="0.4965" stop-color="#3077f1"/><stop offset="0.5663" stop-color="#357af1"/><stop offset="0.5974" stop-color="#4484f2"/><stop offset="0.6129" stop-color="#5690f3"/><stop offset="0.6245" stop-color="#6fa0f5"/><stop offset="0.6323" stop-color="#8bb3f7"/><stop offset="0.6362" stop-color="#9fc0f8"/><stop offset="0.64" stop-color="#b9d1fa"/><stop offset="0.6478" stop-color="#fffefc"/><stop offset="0.6517" stop-color="#feecdb"/><stop offset="0.6555" stop-color="#feeedf"/><stop offset="0.6594" stop-color="#fafcff"/><stop offset="0.6633" stop-color="#d4e3fc"/><stop offset="0.6672" stop-color="#b4cdfa"/><stop offset="0.6711" stop-color="#9abdf8"/><stop offset="0.6788" stop-color="#78a6f6"/><stop offset="0.6905" stop-color="#5b93f4"/><stop offset="0.7099" stop-color="#4283f2"/><stop offset="0.7448" stop-color="#3077f1"/><stop offset="0.8379" stop-color="#2670f0"/><stop offset="0.9969" stop-color="#226ef0"/></linearGradient>
<linearGradient id="b60" x1="0" y1="0" x2="0" y2="1"><stop offset="0" stop-color="#508cf3"/><stop offset="0.05818" stop-color="#6a9df5"/><stop offset="0.08922" stop-color="#85aff7"/><stop offset="0.1047" stop-color="#a0c0f8"/><stop offset="0.1125" stop-color="#b7d0fa"/><stop offset="0.1202" stop-color="#dae7fc"/><stop offset="0.1241" stop-color="#f1f6fe"/><stop offset="0.128" stop-color="#fff7f0"/><stop offset="0.1358" stop-color="#fdd4b0"/><stop offset="0.1396" stop-color="#fcc598"/><stop offset="0.1435" stop-color="#fbba87"/><stop offset="0.1474" stop-color="#fbb47e"/><stop offset="0.1552" stop-color="#fab078"/><stop offset="0.1707" stop-color="#fbb37c"/><stop offset="0.1784" stop-color="#fbbc8b"/><stop offset="0.1823" stop-color="#fcc79b"/><stop offset="0.1862" stop-color="#fdd6b2"/><stop offset="0.1939" stop-color="#fff8f3"/><stop offset="0.1978" stop-color="#eef4fe"/><stop offset="0.2056" stop-color="#c1d6fb"/><stop offset="0.2133" stop-color="#a2c2f9"/><stop offset="0.225" stop-color="#85aff7"/><stop offset="0.2444" stop-color="#6d9ff5"/><stop offset="0.287" stop-color="#528df3"/><stop offset="0.3607" stop-color="#3c7ff1"/><stop offset="0.4926" stop-color="#2f77f1"/><stop offset="0.5663" stop-color="#357af1"/><stop offset="0.5974" stop-color="#4484f2"/><stop offset="0.6129" stop-color="#5790f3"/><stop offset="0.6245" stop-color="#70a1f5"/><stop offset="0.6323" stop-color="#8db4f7"/><stop offset="0.6362" stop-color="#a1c1f8"/><stop offset="0.64" stop-color="#bcd3fa"/><stop offset="0.6439" stop-color="#dfeafd"/><stop offset="0.6478" stop-color="#fffcf8"/><stop offset="0.6517" stop-color="#feecdb"/><stop offset="0.6555" stop-color="#fef1e5"/><stop offset="0.6594" stop-color="#f4f8fe"/><stop offset="0.6633" stop-color="#cedffc"/><stop offset="0.6672" stop-color="#afcaf9"/><stop offset="0.6711" stop-color="#97bbf8"/><stop offset="0.6788" stop-color="#76a5f5"/><stop offset="0.6905" stop-color="#5992f3"/><stop offset="0.7099" stop-color="#4182f2"/><stop offset="0.7448" stop-color="#3077f1"/><stop offset="0.8417" stop-color="#2570f0"/><stop offset="0.9969" stop-color="#226ef0"/></linearGradient>
<linearGradient id="bcb" x1="0" y1="0" x2="0" y2="1"><stop offset="0" stop-color="#e65414"/><stop offset="0.125" stop-color="#f27d3c"/><stop offset="0.25" stop-color="#faaa6e"/><stop offset="0.375" stop-color="#fdd7b4"/><stop offset="0.5" stop-color="#ffffff"/><stop offset="1" stop-color="#0a5eee"/></linearGradient>
<clipPath id="clip50"><rect x="50.60" y="192.30" width="160.70" height="129.60"/></clipPath>
<clipPath id="clip323"><rect x="323.00" y="192.30" width="161.20" height="129.60"/></clipPath>
</defs>
<g filter="url(#soft)">
<rect width="520" height="352" fill="#ffffff"/>
<rect x="51.20" y="16.90" width="3.43" height="128.90" fill="url(#a0)"/>
<rect x="53.83" y="16.90" width="3.43" height="128.90" fill="url(#a1)"/>
<rect x="56.46" y="16.90" width="3.43" height="128.90" fill="url(#a2)"/>
<rect x="59.08" y="16.90" width="3.43" height="128.90" fill="url(#a3)"/>
<rect x="61.71" y="16.90" width="3.43" height="128.90" fill="url(#a4)"/>
<rect x="64.34" y="16.90" width="3.43" height="128.90" fill="url(#a5)"/>
<rect x="66.97" y="16.90" width="3.43" height="128.90" fill="url(#a6)"/>
<rect x="69.60" y="16.90" width="3.43" height="128.90" fill="url(#a7)"/>
<rect x="72.22" y="16.90" width="3.43" height="128.90" fill="url(#a8)"/>
<rect x="74.85" y="16.90" width="3.43" height="128.90" fill="url(#a9)"/>
<rect x="77.48" y="16.90" width="3.43" height="128.90" fill="url(#a10)"/>
<rect x="80.11" y="16.90" width="3.43" height="128.90" fill="url(#a11)"/>
<rect x="82.73" y="16.90" width="3.43" height="128.90" fill="url(#a12)"/>
<rect x="85.36" y="16.90" width="3.43" height="128.90" fill="url(#a13)"/>
<rect x="87.99" y="16.90" width="3.43" height="128.90" fill="url(#a14)"/>
<rect x="90.62" y="16.90" width="3.43" height="128.90" fill="url(#a15)"/>
<rect x="93.25" y="16.90" width="3.43" height="128.90" fill="url(#a16)"/>
<rect x="95.87" y="16.90" width="3.43" height="128.90" fill="url(#a17)"/>
<rect x="98.50" y="16.90" width="3.43" height="128.90" fill="url(#a18)"/>
<rect x="101.13" y="16.90" width="3.43" height="128.90" fill="url(#a19)"/>
<rect x="103.76" y="16.90" width="3.43" height="128.90" fill="url(#a20)"/>
<rect x="106.39" y="16.90" width="3.43" height="128.90" fill="url(#a21)"/>
<rect x="109.01" y="16.90" width="3.43" height="128.90" fill="url(#a22)"/>
<rect x="111.64" y="16.90" width="3.43" height="128.90" fill="url(#a23)"/>
<rect x="114.27" y="16.90" width="3.43" height="128.90" fill="url(#a24)"/>
<rect x="116.90" y="16.90" width="3.43" height="128.90" fill="url(#a25)"/>
<rect x="119.52" y="16.90" width="3.43" height="128.90" fill="url(#a26)"/>
<rect x="122.15" y="16.90" width="3.43" height="128.90" fill="url(#a27)"/>
<rect x="124.78" y="16.90" width="3.43" height="128.90" fill="url(#a28)"/>
<rect x="127.41" y="16.90" width="3.43" height="128.90" fill="url(#a29)"/>
<rect x="130.04" y="16.90" width="3.43" height="128.90" fill="url(#a30)"/>
<rect x="132.66" y="16.90" width="3.43" height="128.90" fill="url(#a31)"/>
<rect x="135.29" y="16.90" width="3.43" height="128.90" fill="url(#a32)"/>
<rect x="137.92" y="16.90" width="3.43" height="128.90" fill="url(#a33)"/>
<rect x="140.55" y="16.90" width="3.43" height="128.90" fill="url(#a34)"/>
<rect x="143.18" y="16.90" width="3.43" height="128.90" fill="url(#a35)"/>
<rect x="145.80" y="16.90" width="3.43" height="128.90" fill="url(#a36)"/>
<rect x="148.43" y="16.90" width="3.43" height="128.90" fill="url(#a37)"/>
<rect x="151.06" y="16.90" width="3.43" height="128.90" fill="url(#a38)"/>
<rect x="153.69" y="16.90" width="3.43" height="128.90" fill="url(#a39)"/>
<rect x="156.31" y="16.90" width="3.43" height="128.90" fill="url(#a40)"/>
<rect x="158.94" y="16.90" width="3.43" height="128.90" fill="url(#a41)"/>
<rect x="161.57" y="16.90" width="3.43" height="128.90" fill="url(#a42)"/>
<rect x="164.20" y="16.90" width="3.43" height="128.90" fill="url(#a43)"/>
<rect x="166.83" y="16.90" width="3.43" height="128.90" fill="url(#a44)"/>
<rect x="169.45" y="16.90" width="3.43" height="128.90" fill="url(#a45)"/>
<rect x="172.08" y="16.90" width="3.43" height="128.90" fill="url(#a46)"/>
<rect x="174.71" y="16.90" width="3.43" height="128.90" fill="url(#a47)"/>
<rect x="177.34" y="16.90" width="3.43" height="128.90" fill="url(#a48)"/>
<rect x="179.97" y="16.90" width="3.43" height="128.90" fill="url(#a49)"/>
<rect x="182.59" y="16.90" width="3.43" height="128.90" fill="url(#a50)"/>
<rect x="185.22" y="16.90" width="3.43" height="128.90" fill="url(#a51)"/>
<rect x="187.85" y="16.90" width="3.43" height="128.90" fill="url(#a52)"/>
<rect x="190.48" y="16.90" width="3.43" height="128.90" fill="url(#a53)"/>
<rect x="193.10" y="16.90" width="3.43" height="128.90" fill="url(#a54)"/>
<rect x="195.73" y="16.90" width="3.43" height="128.90" fill="url(#a55)"/>
<rect x="198.36" y="16.90" width="3.43" height="128.90" fill="url(#a56)"/>
<rect x="200.99" y="16.90" width="3.43" height="128.90" fill="url(#a57)"/>
<rect x="203.62" y="16.90" width="3.43" height="128.90" fill="url(#a58)"/>
<rect x="206.24" y="16.90" width="3.43" height="128.90" fill="url(#a59)"/>
<rect x="208.87" y="16.90" width="2.63" height="128.90" fill="url(#a60)"/>
<rect x="51.20" y="16.90" width="160.30" height="128.90" fill="none" stroke="#0a1226" stroke-width="1.3"/>
<line x1="48.20" y1="16.90" x2="51.20" y2="16.90" stroke="#111" stroke-width="1"/>
<text transform="translate(46.60 19.46) scale(1 1.170)" font-size="8.15" text-anchor="end" stroke-width="0.42">1700</text>
<line x1="48.20" y1="49.12" x2="51.20" y2="49.12" stroke="#111" stroke-width="1"/>
<text transform="translate(46.60 51.69) scale(1 1.170)" font-size="8.15" text-anchor="end" stroke-width="0.42">1500</text>
<line x1="48.20" y1="81.35" x2="51.20" y2="81.35" stroke="#111" stroke-width="1"/>
<text transform="translate(46.60 83.91) scale(1 1.170)" font-size="8.15" text-anchor="end" stroke-width="0.42">1300</text>
<line x1="48.20" y1="113.58" x2="51.20" y2="113.58" stroke="#111" stroke-width="1"/>
<text transform="translate(46.60 116.14) scale(1 1.170)" font-size="8.15" text-anchor="end" stroke-width="0.42">1100</text>
<line x1="48.20" y1="145.80" x2="51.20" y2="145.80" stroke="#111" stroke-width="1"/>
<text transform="translate(46.60 148.36) scale(1 1.170)" font-size="8.15" text-anchor="end" stroke-width="0.42">900</text>
<line x1="51.20" y1="145.80" x2="51.20" y2="148.40" stroke="#111" stroke-width="1"/>
<text transform="translate(51.20 157.20) scale(1 1.170)" font-size="8.15" text-anchor="middle" stroke-width="0.42">250</text>
<line x1="104.63" y1="145.80" x2="104.63" y2="148.40" stroke="#111" stroke-width="1"/>
<text transform="translate(104.63 157.20) scale(1 1.170)" font-size="8.15" text-anchor="middle" stroke-width="0.42">300</text>
<line x1="158.07" y1="145.80" x2="158.07" y2="148.40" stroke="#111" stroke-width="1"/>
<text transform="translate(158.07 157.20) scale(1 1.170)" font-size="8.15" text-anchor="middle" stroke-width="0.42">350</text>
<line x1="211.50" y1="145.80" x2="211.50" y2="148.40" stroke="#111" stroke-width="1"/>
<text transform="translate(211.50 157.20) scale(1 1.170)" font-size="8.15" text-anchor="middle" stroke-width="0.42">400</text>
<text transform="translate(22.80 82.55) rotate(-90)" font-size="10.70" text-anchor="middle">Wavelength (nm)</text>
<text x="131.35" y="170.10" font-size="10.8" text-anchor="middle"><tspan font-style="italic">L</tspan><tspan font-style="italic" font-size="7.2" dy="2.2">Ag</tspan><tspan dy="-2.2"> (nm)</tspan></text>
<rect x="221.10" y="16.90" width="4.40" height="128.90" fill="url(#acb)" stroke="#15151c" stroke-width="1.4"/>
<line x1="225.50" y1="16.90" x2="227.30" y2="16.90" stroke="#111" stroke-width="1"/>
<line x1="225.50" y1="145.80" x2="227.30" y2="145.80" stroke="#111" stroke-width="1"/>
<text transform="translate(228.30 20.40) scale(1 1.170)" font-size="8.15" text-anchor="start" stroke-width="0.42">56</text>
<text transform="translate(228.30 149.30) scale(1 1.170)" font-size="8.15" text-anchor="start" stroke-width="0.42">0</text>
<text transform="translate(244.30 82.85) rotate(-90)" font-size="10.70" text-anchor="middle">Electric Purcell factor</text>
<text x="3.00" y="16.20" font-size="16.80" text-anchor="start">(a)</text>
<rect x="323.30" y="16.90" width="3.44" height="128.90" fill="url(#b0)"/>
<rect x="325.94" y="16.90" width="3.44" height="128.90" fill="url(#b1)"/>
<rect x="328.58" y="16.90" width="3.44" height="128.90" fill="url(#b2)"/>
<rect x="331.21" y="16.90" width="3.44" height="128.90" fill="url(#b3)"/>
<rect x="333.85" y="16.90" width="3.44" height="128.90" fill="url(#b4)"/>
<rect x="336.49" y="16.90" width="3.44" height="128.90" fill="url(#b5)"/>
<rect x="339.13" y="16.90" width="3.44" height="128.90" fill="url(#b6)"/>
<rect x="341.76" y="16.90" width="3.44" height="128.90" fill="url(#b7)"/>
<rect x="344.40" y="16.90" width="3.44" height="128.90" fill="url(#b8)"/>
<rect x="347.04" y="16.90" width="3.44" height="128.90" fill="url(#b9)"/>
<rect x="349.68" y="16.90" width="3.44" height="128.90" fill="url(#b10)"/>
<rect x="352.31" y="16.90" width="3.44" height="128.90" fill="url(#b11)"/>
<rect x="354.95" y="16.90" width="3.44" height="128.90" fill="url(#b12)"/>
<rect x="357.59" y="16.90" width="3.44" height="128.90" fill="url(#b13)"/>
<rect x="360.23" y="16.90" width="3.44" height="128.90" fill="url(#b14)"/>
<rect x="362.87" y="16.90" width="3.44" height="128.90" fill="url(#b15)"/>
<rect x="365.50" y="16.90" width="3.44" height="128.90" fill="url(#b16)"/>
<rect x="368.14" y="16.90" width="3.44" height="128.90" fill="url(#b17)"/>
<rect x="370.78" y="16.90" width="3.44" height="128.90" fill="url(#b18)"/>
<rect x="373.42" y="16.90" width="3.44" height="128.90" fill="url(#b19)"/>
<rect x="376.05" y="16.90" width="3.44" height="128.90" fill="url(#b20)"/>
<rect x="378.69" y="16.90" width="3.44" height="128.90" fill="url(#b21)"/>
<rect x="381.33" y="16.90" width="3.44" height="128.90" fill="url(#b22)"/>
<rect x="383.97" y="16.90" width="3.44" height="128.90" fill="url(#b23)"/>
<rect x="386.60" y="16.90" width="3.44" height="128.90" fill="url(#b24)"/>
<rect x="389.24" y="16.90" width="3.44" height="128.90" fill="url(#b25)"/>
<rect x="391.88" y="16.90" width="3.44" height="128.90" fill="url(#b26)"/>
<rect x="394.52" y="16.90" width="3.44" height="128.90" fill="url(#b27)"/>
<rect x="397.16" y="16.90" width="3.44" height="128.90" fill="url(#b28)"/>
<rect x="399.79" y="16.90" width="3.44" height="128.90" fill="url(#b29)"/>
<rect x="402.43" y="16.90" width="3.44" height="128.90" fill="url(#b30)"/>
<rect x="405.07" y="16.90" width="3.44" height="128.90" fill="url(#b31)"/>
<rect x="407.71" y="16.90" width="3.44" height="128.90" fill="url(#b32)"/>
<rect x="410.34" y="16.90" width="3.44" height="128.90" fill="url(#b33)"/>
<rect x="412.98" y="16.90" width="3.44" height="128.90" fill="url(#b34)"/>
<rect x="415.62" y="16.90" width="3.44" height="128.90" fill="url(#b35)"/>
<rect x="418.26" y="16.90" width="3.44" height="128.90" fill="url(#b36)"/>
<rect x="420.90" y="16.90" width="3.44" height="128.90" fill="url(#b37)"/>
<rect x="423.53" y="16.90" width="3.44" height="128.90" fill="url(#b38)"/>
<rect x="426.17" y="16.90" width="3.44" height="128.90" fill="url(#b39)"/>
<rect x="428.81" y="16.90" width="3.44" height="128.90" fill="url(#b40)"/>
<rect x="431.45" y="16.90" width="3.44" height="128.90" fill="url(#b41)"/>
<rect x="434.08" y="16.90" width="3.44" height="128.90" fill="url(#b42)"/>
<rect x="436.72" y="16.90" width="3.44" height="128.90" fill="url(#b43)"/>
<rect x="439.36" y="16.90" width="3.44" height="128.90" fill="url(#b44)"/>
<rect x="442.00" y="16.90" width="3.44" height="128.90" fill="url(#b45)"/>
<rect x="444.63" y="16.90" width="3.44" height="128.90" fill="url(#b46)"/>
<rect x="447.27" y="16.90" width="3.44" height="128.90" fill="url(#b47)"/>
<rect x="449.91" y="16.90" width="3.44" height="128.90" fill="url(#b48)"/>
<rect x="452.55" y="16.90" width="3.44" height="128.90" fill="url(#b49)"/>
<rect x="455.19" y="16.90" width="3.44" height="128.90" fill="url(#b50)"/>
<rect x="457.82" y="16.90" width="3.44" height="128.90" fill="url(#b51)"/>
<rect x="460.46" y="16.90" width="3.44" height="128.90" fill="url(#b52)"/>
<rect x="463.10" y="16.90" width="3.44" height="128.90" fill="url(#b53)"/>
<rect x="465.74" y="16.90" width="3.44" height="128.90" fill="url(#b54)"/>
<rect x="468.37" y="16.90" width="3.44" height="128.90" fill="url(#b55)"/>
<rect x="471.01" y="16.90" width="3.44" height="128.90" fill="url(#b56)"/>
<rect x="473.65" y="16.90" width="3.44" height="128.90" fill="url(#b57)"/>
<rect x="476.29" y="16.90" width="3.44" height="128.90" fill="url(#b58)"/>
<rect x="478.92" y="16.90" width="3.44" height="128.90" fill="url(#b59)"/>
<rect x="481.56" y="16.90" width="2.64" height="128.90" fill="url(#b60)"/>
<rect x="323.30" y="16.90" width="160.90" height="128.90" fill="none" stroke="#0a1226" stroke-width="1.3"/>
<line x1="320.30" y1="16.90" x2="323.30" y2="16.90" stroke="#111" stroke-width="1"/>
<text transform="translate(318.70 19.46) scale(1 1.170)" font-size="8.15" text-anchor="end" stroke-width="0.42">1700</text>
<line x1="320.30" y1="49.12" x2="323.30" y2="49.12" stroke="#111" stroke-width="1"/>
<text transform="translate(318.70 51.69) scale(1 1.170)" font-size="8.15" text-anchor="end" stroke-width="0.42">1500</text>
<line x1="320.30" y1="81.35" x2="323.30" y2="81.35" stroke="#111" stroke-width="1"/>
<text transform="translate(318.70 83.91) scale(1 1.170)" font-size="8.15" text-anchor="end" stroke-width="0.42">1300</text>
<line x1="320.30" y1="113.58" x2="323.30" y2="113.58" stroke="#111" stroke-width="1"/>
<text transform="translate(318.70 116.14) scale(1 1.170)" font-size="8.15" text-anchor="end" stroke-width="0.42">1100</text>
<line x1="320.30" y1="145.80" x2="323.30" y2="145.80" stroke="#111" stroke-width="1"/>
<text transform="translate(318.70 148.36) scale(1 1.170)" font-size="8.15" text-anchor="end" stroke-width="0.42">900</text>
<line x1="323.30" y1="145.80" x2="323.30" y2="148.40" stroke="#111" stroke-width="1"/>
<text transform="translate(323.30 157.20) scale(1 1.170)" font-size="8.15" text-anchor="middle" stroke-width="0.42">250</text>
<line x1="376.93" y1="145.80" x2="376.93" y2="148.40" stroke="#111" stroke-width="1"/>
<text transform="translate(376.93 157.20) scale(1 1.170)" font-size="8.15" text-anchor="middle" stroke-width="0.42">300</text>
<line x1="430.57" y1="145.80" x2="430.57" y2="148.40" stroke="#111" stroke-width="1"/>
<text transform="translate(430.57 157.20) scale(1 1.170)" font-size="8.15" text-anchor="middle" stroke-width="0.42">350</text>
<line x1="484.20" y1="145.80" x2="484.20" y2="148.40" stroke="#111" stroke-width="1"/>
<text transform="translate(484.20 157.20) scale(1 1.170)" font-size="8.15" text-anchor="middle" stroke-width="0.42">400</text>
<text transform="translate(296.40 81.35) rotate(-90)" font-size="11.00" text-anchor="middle">Wavelength (nm)</text>
<text x="403.75" y="170.10" font-size="10.8" text-anchor="middle"><tspan font-style="italic">L</tspan><tspan font-style="italic" font-size="7.2" dy="2.2">Ag</tspan><tspan dy="-2.2"> (nm)</tspan></text>
<rect x="494.00" y="16.90" width="4.40" height="128.90" fill="url(#bcb)" stroke="#15151c" stroke-width="1.4"/>
<line x1="498.40" y1="16.90" x2="500.20" y2="16.90" stroke="#111" stroke-width="1"/>
<line x1="498.40" y1="145.80" x2="500.20" y2="145.80" stroke="#111" stroke-width="1"/>
<text transform="translate(501.20 20.40) scale(1 1.170)" font-size="8.15" text-anchor="start" stroke-width="0.42">852</text>
<text transform="translate(501.20 149.30) scale(1 1.170)" font-size="8.15" text-anchor="start" stroke-width="0.42">0</text>
<text transform="translate(516.60 82.25) rotate(-90)" font-size="10.70" text-anchor="middle">Magnetic Purcell factor</text>
<text x="271.80" y="16.20" font-size="16.80" text-anchor="start">(b)</text>
<path d="M50.60 314.51 L51.00 314.44 L51.41 314.37 L51.81 314.30 L52.21 314.23 L52.61 314.16 L53.02 314.09 L53.42 314.02 L53.82 313.96 L54.22 313.89 L54.63 313.82 L55.03 313.76 L55.43 313.69 L55.84 313.63 L56.24 313.56 L56.64 313.50 L57.04 313.43 L57.45 313.37 L57.85 313.30 L58.25 313.24 L58.66 313.17 L59.06 313.11 L59.46 313.05 L59.86 312.98 L60.27 312.92 L60.67 312.86 L61.07 312.79 L61.47 312.73 L61.88 312.67 L62.28 312.61 L62.68 312.54 L63.09 312.48 L63.49 312.41 L63.89 312.35 L64.29 312.29 L64.70 312.22 L65.10 312.16 L65.50 312.09 L65.90 312.03 L66.31 311.96 L66.71 311.90 L67.11 311.83 L67.52 311.77 L67.92 311.70 L68.32 311.63 L68.72 311.57 L69.13 311.50 L69.53 311.43 L69.93 311.36 L70.34 311.29 L70.74 311.22 L71.14 311.15 L71.54 311.08 L71.95 311.01 L72.35 310.93 L72.75 310.86 L73.15 310.79 L73.56 310.71 L73.96 310.63 L74.36 310.56 L74.77 310.48 L75.17 310.40 L75.57 310.32 L75.97 310.24 L76.38 310.16 L76.78 310.08 L77.18 310.00 L77.58 309.91 L77.99 309.83 L78.39 309.74 L78.79 309.65 L79.20 309.57 L79.60 309.48 L80.00 309.39 L80.40 309.29 L80.81 309.20 L81.21 309.11 L81.61 309.01 L82.02 308.91 L82.42 308.81 L82.82 308.71 L83.22 308.61 L83.63 308.51 L84.03 308.40 L84.43 308.29 L84.83 308.19 L85.24 308.07 L85.64 307.96 L86.04 307.84 L86.45 307.72 L86.85 307.60 L87.25 307.48 L87.65 307.35 L88.06 307.22 L88.46 307.09 L88.86 306.95 L89.26 306.82 L89.67 306.68 L90.07 306.53 L90.47 306.38 L90.88 306.23 L91.28 306.08 L91.68 305.92 L92.08 305.76 L92.49 305.59 L92.89 305.42 L93.29 305.25 L93.69 305.07 L94.10 304.89 L94.50 304.70 L94.90 304.51 L95.31 304.31 L95.71 304.11 L96.11 303.91 L96.51 303.70 L96.92 303.48 L97.32 303.26 L97.72 303.03 L98.13 302.79 L98.53 302.55 L98.93 302.30 L99.33 302.04 L99.74 301.77 L100.14 301.50 L100.54 301.21 L100.94 300.92 L101.35 300.62 L101.75 300.31 L102.15 299.98 L102.56 299.65 L102.96 299.31 L103.36 298.95 L103.76 298.59 L104.17 298.21 L104.57 297.82 L104.97 297.42 L105.37 297.01 L105.78 296.58 L106.18 296.15 L106.58 295.71 L106.99 295.26 L107.39 294.80 L107.79 294.34 L108.19 293.88 L108.60 293.41 L109.00 292.93 L109.40 292.46 L109.81 291.99 L110.21 291.51 L110.61 291.04 L111.01 290.57 L111.42 290.10 L111.82 289.64 L112.22 289.18 L112.62 288.73 L113.03 288.28 L113.43 287.85 L113.83 287.42 L114.24 286.99 L114.64 286.58 L115.04 286.17 L115.44 285.77 L115.85 285.38 L116.25 285.00 L116.65 284.63 L117.05 284.26 L117.46 283.91 L117.86 283.56 L118.26 283.23 L118.67 282.90 L119.07 282.58 L119.47 282.27 L119.87 281.98 L120.28 281.69 L120.68 281.41 L121.08 281.15 L121.49 280.89 L121.89 280.65 L122.29 280.41 L122.69 280.19 L123.10 279.99 L123.50 279.79 L123.90 279.61 L124.30 279.44 L124.71 279.29 L125.11 279.15 L125.51 279.03 L125.92 278.92 L126.32 278.82 L126.72 278.75 L127.12 278.69 L127.53 278.64 L127.93 278.61 L128.33 278.61 L128.73 278.62 L129.14 278.64 L129.54 278.69 L129.94 278.75 L130.35 278.84 L130.75 278.94 L131.15 279.07 L131.55 279.21 L131.96 279.37 L132.36 279.55 L132.76 279.76 L133.17 279.98 L133.57 280.22 L133.97 280.48 L134.37 280.75 L134.78 281.04 L135.18 281.33 L135.58 281.64 L135.98 281.96 L136.39 282.29 L136.79 282.62 L137.19 282.96 L137.60 283.30 L138.00 283.64 L138.40 283.99 L138.80 284.34 L139.21 284.69 L139.61 285.05 L140.01 285.40 L140.41 285.76 L140.82 286.12 L141.22 286.48 L141.62 286.84 L142.03 287.20 L142.43 287.56 L142.83 287.92 L143.23 288.27 L143.64 288.63 L144.04 288.98 L144.44 289.34 L144.85 289.69 L145.25 290.03 L145.65 290.37 L146.05 290.71 L146.46 291.05 L146.86 291.38 L147.26 291.71 L147.66 292.04 L148.07 292.36 L148.47 292.67 L148.87 292.98 L149.28 293.29 L149.68 293.59 L150.08 293.88 L150.48 294.17 L150.89 294.45 L151.29 294.73 L151.69 295.00 L152.09 295.27 L152.50 295.53 L152.90 295.78 L153.30 296.02 L153.71 296.26 L154.11 296.50 L154.51 296.72 L154.91 296.94 L155.32 297.15 L155.72 297.36 L156.12 297.57 L156.53 297.76 L156.93 297.96 L157.33 298.14 L157.73 298.33 L158.14 298.51 L158.54 298.68 L158.94 298.85 L159.34 299.02 L159.75 299.18 L160.15 299.34 L160.55 299.50 L160.96 299.65 L161.36 299.80 L161.76 299.95 L162.16 300.10 L162.57 300.24 L162.97 300.38 L163.37 300.52 L163.77 300.65 L164.18 300.78 L164.58 300.91 L164.98 301.03 L165.39 301.15 L165.79 301.27 L166.19 301.39 L166.59 301.50 L167.00 301.61 L167.40 301.71 L167.80 301.81 L168.21 301.91 L168.61 302.01 L169.01 302.10 L169.41 302.19 L169.82 302.27 L170.22 302.35 L170.62 302.43 L171.02 302.50 L171.43 302.58 L171.83 302.65 L172.23 302.71 L172.64 302.78 L173.04 302.84 L173.44 302.90 L173.84 302.95 L174.25 303.01 L174.65 303.06 L175.05 303.11 L175.45 303.15 L175.86 303.20 L176.26 303.24 L176.66 303.29 L177.07 303.33 L177.47 303.36 L177.87 303.40 L178.27 303.44 L178.68 303.47 L179.08 303.50 L179.48 303.54 L179.88 303.57 L180.29 303.60 L180.69 303.63 L181.09 303.66 L181.50 303.68 L181.90 303.71 L182.30 303.74 L182.70 303.76 L183.11 303.79 L183.51 303.81 L183.91 303.84 L184.32 303.86 L184.72 303.88 L185.12 303.90 L185.52 303.93 L185.93 303.95 L186.33 303.97 L186.73 303.99 L187.13 304.01 L187.54 304.02 L187.94 304.04 L188.34 304.06 L188.75 304.08 L189.15 304.09 L189.55 304.11 L189.95 304.12 L190.36 304.14 L190.76 304.15 L191.16 304.17 L191.56 304.18 L191.97 304.20 L192.37 304.21 L192.77 304.22 L193.18 304.23 L193.58 304.25 L193.98 304.26 L194.38 304.27 L194.79 304.28 L195.19 304.29 L195.59 304.30 L196.00 304.31 L196.40 304.32 L196.80 304.33 L197.20 304.34 L197.61 304.35 L198.01 304.36 L198.41 304.37 L198.81 304.38 L199.22 304.39 L199.62 304.39 L200.02 304.40 L200.43 304.41 L200.83 304.42 L201.23 304.43 L201.63 304.43 L202.04 304.44 L202.44 304.45 L202.84 304.46 L203.24 304.47 L203.65 304.47 L204.05 304.48 L204.45 304.49 L204.86 304.50 L205.26 304.51 L205.66 304.51 L206.06 304.52 L206.47 304.53 L206.87 304.54 L207.27 304.55 L207.68 304.55 L208.08 304.56 L208.48 304.57 L208.88 304.58 L209.29 304.59 L209.69 304.60 L210.09 304.61 L210.49 304.62 L210.90 304.63 L211.30 304.64" fill="none" stroke="#2442cc" stroke-width="1.50" stroke-dasharray="4.2 3.0" stroke-linejoin="round" clip-path="url(#clip50)"/>
<path d="M50.60 314.51 L51.00 314.47 L51.41 314.41 L51.81 314.34 L52.21 314.27 L52.61 314.19 L53.02 314.10 L53.42 314.00 L53.82 313.90 L54.22 313.79 L54.63 313.68 L55.03 313.56 L55.43 313.43 L55.84 313.30 L56.24 313.17 L56.64 313.03 L57.04 312.89 L57.45 312.75 L57.85 312.60 L58.25 312.45 L58.66 312.30 L59.06 312.15 L59.46 311.99 L59.86 311.82 L60.27 311.64 L60.67 311.46 L61.07 311.26 L61.47 311.06 L61.88 310.84 L62.28 310.61 L62.68 310.37 L63.09 310.11 L63.49 309.84 L63.89 309.55 L64.29 309.24 L64.70 308.91 L65.10 308.56 L65.50 308.16 L65.90 307.69 L66.31 307.15 L66.71 306.56 L67.11 305.91 L67.52 305.21 L67.92 304.46 L68.32 303.67 L68.72 302.76 L69.13 301.72 L69.53 300.55 L69.93 299.27 L70.34 297.88 L70.74 296.40 L71.14 294.80 L71.54 292.99 L71.95 290.98 L72.35 288.80 L72.75 286.45 L73.15 283.96 L73.56 281.18 L73.96 278.09 L74.36 274.76 L74.77 271.24 L75.17 267.58 L75.57 263.65 L75.97 259.40 L76.38 254.77 L76.78 249.56 L77.18 243.85 L77.58 237.85 L77.99 230.81 L78.39 223.49 L78.79 218.66 L79.20 215.43 L79.60 213.22 L80.00 212.95 L80.40 214.78 L80.81 217.85 L81.21 222.14 L81.61 229.43 L82.02 236.56 L82.42 241.29 L82.82 245.16 L83.22 248.64 L83.63 252.15 L84.03 256.10 L84.43 260.93 L84.83 266.14 L85.24 270.68 L85.64 274.04 L86.04 276.90 L86.45 279.46 L86.85 281.88 L87.25 284.28 L87.65 286.58 L88.06 288.70 L88.46 290.53 L88.86 292.09 L89.26 293.53 L89.67 294.84 L90.07 296.03 L90.47 297.09 L90.88 298.02 L91.28 298.87 L91.68 299.66 L92.08 300.39 L92.49 301.07 L92.89 301.68 L93.29 302.24 L93.69 302.75 L94.10 303.21 L94.50 303.63 L94.90 304.02 L95.31 304.38 L95.71 304.73 L96.11 305.06 L96.51 305.38 L96.92 305.70 L97.32 306.03 L97.72 306.35 L98.13 306.66 L98.53 306.97 L98.93 307.26 L99.33 307.53 L99.74 307.79 L100.14 308.02 L100.54 308.22 L100.94 308.42 L101.35 308.60 L101.75 308.78 L102.15 308.95 L102.56 309.11 L102.96 309.26 L103.36 309.39 L103.76 309.51 L104.17 309.62 L104.57 309.71 L104.97 309.79 L105.37 309.87 L105.78 309.94 L106.18 310.01 L106.58 310.08 L106.99 310.14 L107.39 310.20 L107.79 310.26 L108.19 310.31 L108.60 310.36 L109.00 310.41 L109.40 310.46 L109.81 310.51 L110.21 310.55 L110.61 310.60 L111.01 310.64 L111.42 310.68 L111.82 310.72 L112.22 310.77 L112.62 310.81 L113.03 310.85 L113.43 310.89 L113.83 310.93 L114.24 310.98 L114.64 311.02 L115.04 311.07 L115.44 311.12 L115.85 311.16 L116.25 311.21 L116.65 311.26 L117.05 311.31 L117.46 311.35 L117.86 311.40 L118.26 311.45 L118.67 311.50 L119.07 311.54 L119.47 311.59 L119.87 311.63 L120.28 311.68 L120.68 311.72 L121.08 311.76 L121.49 311.80 L121.89 311.83 L122.29 311.87 L122.69 311.90 L123.10 311.94 L123.50 311.96 L123.90 311.99 L124.30 312.01 L124.71 312.04 L125.11 312.05 L125.51 312.07 L125.92 312.09 L126.32 312.10 L126.72 312.12 L127.12 312.14 L127.53 312.15 L127.93 312.17 L128.33 312.18 L128.73 312.20 L129.14 312.21 L129.54 312.22 L129.94 312.24 L130.35 312.25 L130.75 312.26 L131.15 312.27 L131.55 312.28 L131.96 312.28 L132.36 312.29 L132.76 312.30 L133.17 312.30 L133.57 312.31 L133.97 312.31 L134.37 312.31 L134.78 312.31 L135.18 312.31 L135.58 312.31 L135.98 312.31 L136.39 312.30 L136.79 312.30 L137.19 312.30 L137.60 312.30 L138.00 312.29 L138.40 312.29 L138.80 312.28 L139.21 312.28 L139.61 312.27 L140.01 312.27 L140.41 312.26 L140.82 312.26 L141.22 312.25 L141.62 312.24 L142.03 312.24 L142.43 312.23 L142.83 312.22 L143.23 312.22 L143.64 312.21 L144.04 312.20 L144.44 312.19 L144.85 312.18 L145.25 312.17 L145.65 312.16 L146.05 312.15 L146.46 312.13 L146.86 312.11 L147.26 312.09 L147.66 312.06 L148.07 312.04 L148.47 312.01 L148.87 311.98 L149.28 311.94 L149.68 311.91 L150.08 311.87 L150.48 311.83 L150.89 311.79 L151.29 311.75 L151.69 311.70 L152.09 311.65 L152.50 311.60 L152.90 311.55 L153.30 311.50 L153.71 311.44 L154.11 311.38 L154.51 311.33 L154.91 311.26 L155.32 311.20 L155.72 311.12 L156.12 311.03 L156.53 310.93 L156.93 310.83 L157.33 310.71 L157.73 310.58 L158.14 310.44 L158.54 310.29 L158.94 310.12 L159.34 309.95 L159.75 309.76 L160.15 309.57 L160.55 309.36 L160.96 309.13 L161.36 308.85 L161.76 308.50 L162.16 308.09 L162.57 307.63 L162.97 307.12 L163.37 306.58 L163.77 306.02 L164.18 305.44 L164.58 304.85 L164.98 304.25 L165.39 303.63 L165.79 302.98 L166.19 302.29 L166.59 301.56 L167.00 300.79 L167.40 299.97 L167.80 299.10 L168.21 298.18 L168.61 297.19 L169.01 296.13 L169.41 294.92 L169.82 293.58 L170.22 292.12 L170.62 290.56 L171.02 288.94 L171.43 287.26 L171.83 285.55 L172.23 283.83 L172.64 282.13 L173.04 280.39 L173.44 278.51 L173.84 276.54 L174.25 274.55 L174.65 272.58 L175.05 270.72 L175.45 269.00 L175.86 267.49 L176.26 266.03 L176.66 264.69 L177.07 263.64 L177.47 262.92 L177.87 262.32 L178.27 262.03 L178.68 262.21 L179.08 262.72 L179.48 263.32 L179.88 263.96 L180.29 264.73 L180.69 265.59 L181.09 266.54 L181.50 267.54 L181.90 268.63 L182.30 269.89 L182.70 271.28 L183.11 272.73 L183.51 274.17 L183.91 275.54 L184.32 276.83 L184.72 278.12 L185.12 279.40 L185.52 280.65 L185.93 281.84 L186.33 282.97 L186.73 284.01 L187.13 284.99 L187.54 285.95 L187.94 286.87 L188.34 287.73 L188.75 288.54 L189.15 289.27 L189.55 289.92 L189.95 290.53 L190.36 291.09 L190.76 291.62 L191.16 292.12 L191.56 292.59 L191.97 293.02 L192.37 293.43 L192.77 293.82 L193.18 294.19 L193.58 294.55 L193.98 294.91 L194.38 295.25 L194.79 295.58 L195.19 295.90 L195.59 296.21 L196.00 296.51 L196.40 296.79 L196.80 297.06 L197.20 297.31 L197.61 297.55 L198.01 297.77 L198.41 297.98 L198.81 298.17 L199.22 298.34 L199.62 298.51 L200.02 298.67 L200.43 298.82 L200.83 298.97 L201.23 299.11 L201.63 299.24 L202.04 299.37 L202.44 299.49 L202.84 299.62 L203.24 299.74 L203.65 299.86 L204.05 299.98 L204.45 300.10 L204.86 300.22 L205.26 300.34 L205.66 300.46 L206.06 300.58 L206.47 300.69 L206.87 300.81 L207.27 300.92 L207.68 301.03 L208.08 301.14 L208.48 301.25 L208.88 301.35 L209.29 301.46 L209.69 301.56 L210.09 301.66 L210.49 301.75 L210.90 301.85 L211.30 301.94" fill="none" stroke="#ea481a" stroke-width="1.55" stroke-linejoin="round" clip-path="url(#clip50)"/>
<rect x="50.60" y="192.30" width="160.70" height="129.60" fill="none" stroke="#0c0c0c" stroke-width="1.4"/>
<line x1="47.60" y1="321.90" x2="50.60" y2="321.90" stroke="#111" stroke-width="1.1"/>
<text transform="translate(46.40 324.20) scale(1 1.170)" font-size="8.35" text-anchor="end" stroke-width="0.42">0</text>
<line x1="47.60" y1="295.98" x2="50.60" y2="295.98" stroke="#111" stroke-width="1.1"/>
<text transform="translate(46.40 298.28) scale(1 1.170)" font-size="8.35" text-anchor="end" stroke-width="0.42">10</text>
<line x1="47.60" y1="270.06" x2="50.60" y2="270.06" stroke="#111" stroke-width="1.1"/>
<text transform="translate(46.40 272.36) scale(1 1.170)" font-size="8.35" text-anchor="end" stroke-width="0.42">20</text>
<line x1="47.60" y1="244.14" x2="50.60" y2="244.14" stroke="#111" stroke-width="1.1"/>
<text transform="translate(46.40 246.44) scale(1 1.170)" font-size="8.35" text-anchor="end" stroke-width="0.42">30</text>
<line x1="47.60" y1="218.22" x2="50.60" y2="218.22" stroke="#111" stroke-width="1.1"/>
<text transform="translate(46.40 220.52) scale(1 1.170)" font-size="8.35" text-anchor="end" stroke-width="0.42">40</text>
<line x1="47.60" y1="192.30" x2="50.60" y2="192.30" stroke="#111" stroke-width="1.1"/>
<text transform="translate(46.40 194.60) scale(1 1.170)" font-size="8.35" text-anchor="end" stroke-width="0.42">50</text>
<line x1="50.60" y1="321.90" x2="50.60" y2="324.70" stroke="#111" stroke-width="1.1"/>
<text transform="translate(50.60 332.80) scale(1 1.170)" font-size="8.35" text-anchor="middle" stroke-width="0.42">1050</text>
<line x1="82.74" y1="321.90" x2="82.74" y2="324.70" stroke="#111" stroke-width="1.1"/>
<text transform="translate(82.74 332.80) scale(1 1.170)" font-size="8.35" text-anchor="middle" stroke-width="0.42">1150</text>
<line x1="114.88" y1="321.90" x2="114.88" y2="324.70" stroke="#111" stroke-width="1.1"/>
<text transform="translate(114.88 332.80) scale(1 1.170)" font-size="8.35" text-anchor="middle" stroke-width="0.42">1250</text>
<line x1="147.02" y1="321.90" x2="147.02" y2="324.70" stroke="#111" stroke-width="1.1"/>
<text transform="translate(147.02 332.80) scale(1 1.170)" font-size="8.35" text-anchor="middle" stroke-width="0.42">1350</text>
<line x1="179.16" y1="321.90" x2="179.16" y2="324.70" stroke="#111" stroke-width="1.1"/>
<text transform="translate(179.16 332.80) scale(1 1.170)" font-size="8.35" text-anchor="middle" stroke-width="0.42">1450</text>
<line x1="211.30" y1="321.90" x2="211.30" y2="324.70" stroke="#111" stroke-width="1.1"/>
<text transform="translate(211.30 332.80) scale(1 1.170)" font-size="8.35" text-anchor="middle" stroke-width="0.42">1550</text>
<text x="130.95" y="346.50" font-size="11.00" text-anchor="middle">Wavelength (nm)</text>
<text transform="translate(33.60 256.60) rotate(-90)" font-size="11.00" text-anchor="middle">Electric Purcell factor</text>
<text x="2.80" y="189.30" font-size="16.80" text-anchor="start">(c)</text>
<line x1="97.70" y1="224.90" x2="116.60" y2="224.90" stroke="#2442cc" stroke-width="1.50" stroke-dasharray="4.2 3.0"/>
<text x="119.80" y="227.90" font-size="8.35" text-anchor="start">Single nanorod</text>
<line x1="97.70" y1="235.40" x2="118.40" y2="235.40" stroke="#ea481a" stroke-width="1.55"/>
<text x="119.80" y="238.20" font-size="8.35" text-anchor="start">Hybrid</text>
<path d="M323.00 318.73 L323.40 318.73 L323.81 318.73 L324.21 318.73 L324.62 318.73 L325.02 318.73 L325.42 318.73 L325.83 318.73 L326.23 318.73 L326.64 318.73 L327.04 318.73 L327.44 318.73 L327.85 318.73 L328.25 318.73 L328.66 318.73 L329.06 318.73 L329.46 318.73 L329.87 318.73 L330.27 318.73 L330.68 318.73 L331.08 318.73 L331.48 318.73 L331.89 318.73 L332.29 318.73 L332.70 318.73 L333.10 318.73 L333.50 318.73 L333.91 318.73 L334.31 318.73 L334.72 318.73 L335.12 318.73 L335.52 318.73 L335.93 318.73 L336.33 318.73 L336.74 318.73 L337.14 318.73 L337.54 318.73 L337.95 318.73 L338.35 318.73 L338.76 318.73 L339.16 318.73 L339.56 318.73 L339.97 318.73 L340.37 318.73 L340.78 318.73 L341.18 318.73 L341.58 318.73 L341.99 318.73 L342.39 318.73 L342.80 318.73 L343.20 318.73 L343.60 318.73 L344.01 318.73 L344.41 318.73 L344.82 318.73 L345.22 318.73 L345.62 318.73 L346.03 318.73 L346.43 318.73 L346.84 318.73 L347.24 318.73 L347.64 318.73 L348.05 318.73 L348.45 318.73 L348.86 318.73 L349.26 318.73 L349.66 318.73 L350.07 318.73 L350.47 318.73 L350.88 318.73 L351.28 318.73 L351.68 318.73 L352.09 318.73 L352.49 318.73 L352.90 318.73 L353.30 318.73 L353.70 318.73 L354.11 318.73 L354.51 318.73 L354.92 318.73 L355.32 318.73 L355.72 318.73 L356.13 318.73 L356.53 318.73 L356.94 318.73 L357.34 318.73 L357.74 318.73 L358.15 318.73 L358.55 318.73 L358.96 318.73 L359.36 318.73 L359.76 318.73 L360.17 318.73 L360.57 318.73 L360.98 318.73 L361.38 318.73 L361.78 318.73 L362.19 318.73 L362.59 318.73 L363.00 318.73 L363.40 318.73 L363.81 318.73 L364.21 318.73 L364.61 318.73 L365.02 318.73 L365.42 318.73 L365.83 318.73 L366.23 318.73 L366.63 318.73 L367.04 318.73 L367.44 318.73 L367.85 318.73 L368.25 318.73 L368.65 318.73 L369.06 318.73 L369.46 318.73 L369.87 318.73 L370.27 318.73 L370.67 318.73 L371.08 318.73 L371.48 318.73 L371.89 318.73 L372.29 318.73 L372.69 318.73 L373.10 318.73 L373.50 318.73 L373.91 318.73 L374.31 318.73 L374.71 318.73 L375.12 318.73 L375.52 318.73 L375.93 318.73 L376.33 318.73 L376.73 318.73 L377.14 318.73 L377.54 318.73 L377.95 318.73 L378.35 318.73 L378.75 318.73 L379.16 318.73 L379.56 318.73 L379.97 318.73 L380.37 318.73 L380.77 318.73 L381.18 318.73 L381.58 318.73 L381.99 318.73 L382.39 318.73 L382.79 318.73 L383.20 318.73 L383.60 318.73 L384.01 318.73 L384.41 318.73 L384.81 318.73 L385.22 318.73 L385.62 318.73 L386.03 318.73 L386.43 318.73 L386.83 318.73 L387.24 318.73 L387.64 318.73 L388.05 318.73 L388.45 318.73 L388.85 318.73 L389.26 318.73 L389.66 318.73 L390.07 318.73 L390.47 318.73 L390.87 318.73 L391.28 318.73 L391.68 318.73 L392.09 318.73 L392.49 318.73 L392.89 318.73 L393.30 318.73 L393.70 318.73 L394.11 318.73 L394.51 318.73 L394.91 318.73 L395.32 318.73 L395.72 318.73 L396.13 318.73 L396.53 318.73 L396.93 318.73 L397.34 318.73 L397.74 318.73 L398.15 318.73 L398.55 318.73 L398.95 318.73 L399.36 318.73 L399.76 318.73 L400.17 318.73 L400.57 318.73 L400.97 318.73 L401.38 318.73 L401.78 318.73 L402.19 318.73 L402.59 318.73 L402.99 318.73 L403.40 318.73 L403.80 318.73 L404.21 318.73 L404.61 318.73 L405.01 318.73 L405.42 318.73 L405.82 318.73 L406.23 318.73 L406.63 318.73 L407.03 318.73 L407.44 318.73 L407.84 318.73 L408.25 318.73 L408.65 318.73 L409.05 318.73 L409.46 318.73 L409.86 318.73 L410.27 318.73 L410.67 318.73 L411.07 318.73 L411.48 318.73 L411.88 318.73 L412.29 318.73 L412.69 318.73 L413.09 318.73 L413.50 318.73 L413.90 318.73 L414.31 318.73 L414.71 318.73 L415.11 318.73 L415.52 318.73 L415.92 318.73 L416.33 318.73 L416.73 318.73 L417.13 318.73 L417.54 318.73 L417.94 318.73 L418.35 318.73 L418.75 318.73 L419.15 318.73 L419.56 318.73 L419.96 318.73 L420.37 318.73 L420.77 318.73 L421.17 318.73 L421.58 318.73 L421.98 318.73 L422.39 318.73 L422.79 318.73 L423.19 318.73 L423.60 318.73 L424.00 318.73 L424.41 318.73 L424.81 318.73 L425.21 318.73 L425.62 318.73 L426.02 318.73 L426.43 318.73 L426.83 318.73 L427.23 318.73 L427.64 318.73 L428.04 318.73 L428.45 318.73 L428.85 318.73 L429.25 318.73 L429.66 318.73 L430.06 318.73 L430.47 318.73 L430.87 318.73 L431.27 318.73 L431.68 318.73 L432.08 318.73 L432.49 318.73 L432.89 318.73 L433.29 318.73 L433.70 318.73 L434.10 318.73 L434.51 318.73 L434.91 318.73 L435.31 318.73 L435.72 318.73 L436.12 318.73 L436.53 318.73 L436.93 318.73 L437.33 318.73 L437.74 318.73 L438.14 318.73 L438.55 318.73 L438.95 318.73 L439.35 318.73 L439.76 318.73 L440.16 318.73 L440.57 318.73 L440.97 318.73 L441.37 318.73 L441.78 318.73 L442.18 318.73 L442.59 318.73 L442.99 318.73 L443.39 318.73 L443.80 318.73 L444.20 318.73 L444.61 318.73 L445.01 318.73 L445.42 318.73 L445.82 318.73 L446.22 318.73 L446.63 318.73 L447.03 318.73 L447.44 318.73 L447.84 318.73 L448.24 318.73 L448.65 318.73 L449.05 318.73 L449.46 318.73 L449.86 318.73 L450.26 318.73 L450.67 318.73 L451.07 318.73 L451.48 318.73 L451.88 318.73 L452.28 318.73 L452.69 318.73 L453.09 318.73 L453.50 318.73 L453.90 318.73 L454.30 318.73 L454.71 318.73 L455.11 318.73 L455.52 318.73 L455.92 318.73 L456.32 318.73 L456.73 318.73 L457.13 318.73 L457.54 318.73 L457.94 318.73 L458.34 318.73 L458.75 318.73 L459.15 318.73 L459.56 318.73 L459.96 318.73 L460.36 318.73 L460.77 318.73 L461.17 318.73 L461.58 318.73 L461.98 318.73 L462.38 318.73 L462.79 318.73 L463.19 318.73 L463.60 318.73 L464.00 318.73 L464.40 318.73 L464.81 318.73 L465.21 318.73 L465.62 318.73 L466.02 318.73 L466.42 318.73 L466.83 318.73 L467.23 318.73 L467.64 318.73 L468.04 318.73 L468.44 318.73 L468.85 318.73 L469.25 318.73 L469.66 318.73 L470.06 318.73 L470.46 318.73 L470.87 318.73 L471.27 318.73 L471.68 318.73 L472.08 318.73 L472.48 318.73 L472.89 318.73 L473.29 318.73 L473.70 318.73 L474.10 318.73 L474.50 318.73 L474.91 318.73 L475.31 318.73 L475.72 318.73 L476.12 318.73 L476.52 318.73 L476.93 318.73 L477.33 318.73 L477.74 318.73 L478.14 318.73 L478.54 318.73 L478.95 318.73 L479.35 318.73 L479.76 318.73 L480.16 318.73 L480.56 318.73 L480.97 318.73 L481.37 318.73 L481.78 318.73 L482.18 318.73 L482.58 318.73 L482.99 318.73 L483.39 318.73 L483.80 318.73 L484.20 318.73" fill="none" stroke="#2442cc" stroke-width="1.50" stroke-dasharray="4.2 3.0" stroke-linejoin="round" clip-path="url(#clip323)"/>
<path d="M323.00 316.76 L323.40 316.65 L323.81 316.53 L324.21 316.41 L324.62 316.28 L325.02 316.15 L325.42 316.02 L325.83 315.88 L326.23 315.73 L326.64 315.58 L327.04 315.43 L327.44 315.27 L327.85 315.11 L328.25 314.94 L328.66 314.77 L329.06 314.59 L329.46 314.40 L329.87 314.21 L330.27 314.01 L330.68 313.80 L331.08 313.58 L331.48 313.37 L331.89 313.15 L332.29 312.93 L332.70 312.70 L333.10 312.46 L333.50 312.22 L333.91 311.97 L334.31 311.70 L334.72 311.42 L335.12 311.13 L335.52 310.82 L335.93 310.49 L336.33 310.15 L336.74 309.78 L337.14 309.38 L337.54 308.94 L337.95 308.45 L338.35 307.91 L338.76 307.33 L339.16 306.71 L339.56 306.05 L339.97 305.34 L340.37 304.61 L340.78 303.83 L341.18 302.99 L341.58 302.04 L341.99 300.98 L342.39 299.83 L342.80 298.60 L343.20 297.28 L343.60 295.80 L344.01 294.18 L344.41 292.49 L344.82 290.77 L345.22 289.05 L345.62 287.28 L346.03 285.44 L346.43 283.51 L346.84 281.49 L347.24 279.37 L347.64 277.04 L348.05 274.33 L348.45 271.11 L348.86 267.83 L349.26 264.90 L349.66 261.61 L350.07 256.27 L350.47 248.35 L350.88 242.52 L351.28 237.77 L351.68 234.82 L352.09 235.50 L352.49 239.25 L352.90 243.59 L353.30 246.98 L353.70 250.29 L354.11 253.43 L354.51 256.19 L354.92 258.60 L355.32 261.14 L355.72 264.32 L356.13 267.74 L356.53 270.57 L356.94 273.12 L357.34 275.72 L357.74 278.65 L358.15 281.66 L358.55 284.33 L358.96 286.62 L359.36 288.72 L359.76 290.79 L360.17 292.91 L360.57 294.99 L360.98 296.91 L361.38 298.64 L361.78 300.27 L362.19 301.78 L362.59 303.16 L363.00 304.41 L363.40 305.57 L363.81 306.64 L364.21 307.60 L364.61 308.44 L365.02 309.20 L365.42 309.90 L365.83 310.53 L366.23 311.10 L366.63 311.59 L367.04 312.00 L367.44 312.37 L367.85 312.71 L368.25 313.01 L368.65 313.29 L369.06 313.55 L369.46 313.78 L369.87 314.00 L370.27 314.21 L370.67 314.40 L371.08 314.58 L371.48 314.75 L371.89 314.91 L372.29 315.05 L372.69 315.17 L373.10 315.29 L373.50 315.41 L373.91 315.52 L374.31 315.63 L374.71 315.73 L375.12 315.84 L375.52 315.94 L375.93 316.03 L376.33 316.13 L376.73 316.21 L377.14 316.30 L377.54 316.38 L377.95 316.45 L378.35 316.52 L378.75 316.59 L379.16 316.65 L379.56 316.71 L379.97 316.76 L380.37 316.80 L380.77 316.84 L381.18 316.88 L381.58 316.92 L381.99 316.95 L382.39 316.99 L382.79 317.03 L383.20 317.06 L383.60 317.10 L384.01 317.13 L384.41 317.16 L384.81 317.19 L385.22 317.23 L385.62 317.26 L386.03 317.29 L386.43 317.31 L386.83 317.34 L387.24 317.37 L387.64 317.39 L388.05 317.42 L388.45 317.44 L388.85 317.46 L389.26 317.48 L389.66 317.50 L390.07 317.52 L390.47 317.54 L390.87 317.55 L391.28 317.57 L391.68 317.58 L392.09 317.59 L392.49 317.60 L392.89 317.61 L393.30 317.62 L393.70 317.62 L394.11 317.62 L394.51 317.63 L394.91 317.63 L395.32 317.63 L395.72 317.63 L396.13 317.63 L396.53 317.63 L396.93 317.63 L397.34 317.63 L397.74 317.63 L398.15 317.63 L398.55 317.63 L398.95 317.63 L399.36 317.63 L399.76 317.63 L400.17 317.63 L400.57 317.63 L400.97 317.63 L401.38 317.63 L401.78 317.63 L402.19 317.63 L402.59 317.63 L402.99 317.63 L403.40 317.63 L403.80 317.63 L404.21 317.63 L404.61 317.63 L405.01 317.62 L405.42 317.61 L405.82 317.60 L406.23 317.58 L406.63 317.55 L407.03 317.52 L407.44 317.49 L407.84 317.46 L408.25 317.42 L408.65 317.38 L409.05 317.33 L409.46 317.29 L409.86 317.24 L410.27 317.19 L410.67 317.15 L411.07 317.10 L411.48 317.05 L411.88 317.01 L412.29 316.96 L412.69 316.91 L413.09 316.86 L413.50 316.81 L413.90 316.76 L414.31 316.70 L414.71 316.65 L415.11 316.59 L415.52 316.52 L415.92 316.46 L416.33 316.39 L416.73 316.32 L417.13 316.25 L417.54 316.18 L417.94 316.10 L418.35 316.02 L418.75 315.94 L419.15 315.85 L419.56 315.76 L419.96 315.67 L420.37 315.58 L420.77 315.48 L421.17 315.37 L421.58 315.25 L421.98 315.14 L422.39 315.01 L422.79 314.88 L423.19 314.74 L423.60 314.60 L424.00 314.45 L424.41 314.29 L424.81 314.13 L425.21 313.96 L425.62 313.78 L426.02 313.60 L426.43 313.42 L426.83 313.22 L427.23 313.02 L427.64 312.82 L428.04 312.60 L428.45 312.38 L428.85 312.13 L429.25 311.87 L429.66 311.60 L430.06 311.31 L430.47 311.00 L430.87 310.67 L431.27 310.33 L431.68 309.97 L432.08 309.59 L432.49 309.20 L432.89 308.79 L433.29 308.36 L433.70 307.91 L434.10 307.44 L434.51 306.93 L434.91 306.38 L435.31 305.78 L435.72 305.14 L436.12 304.44 L436.53 303.70 L436.93 302.90 L437.33 302.05 L437.74 301.13 L438.14 300.15 L438.55 299.00 L438.95 297.71 L439.35 296.27 L439.76 294.71 L440.16 293.05 L440.57 291.29 L440.97 289.46 L441.37 287.35 L441.78 284.99 L442.18 282.53 L442.59 280.09 L442.99 277.61 L443.39 275.03 L443.80 272.29 L444.20 269.34 L444.61 266.18 L445.01 262.87 L445.42 259.46 L445.82 256.00 L446.22 252.49 L446.63 248.89 L447.03 245.16 L447.44 241.31 L447.84 237.07 L448.24 232.61 L448.65 228.56 L449.05 225.14 L449.46 221.94 L449.86 219.48 L450.26 218.01 L450.67 216.93 L451.07 216.61 L451.48 217.29 L451.88 218.53 L452.28 220.34 L452.69 223.20 L453.09 226.51 L453.50 229.88 L453.90 233.72 L454.30 237.57 L454.71 240.98 L455.11 244.11 L455.52 247.09 L455.92 249.95 L456.32 252.71 L456.73 255.41 L457.13 258.09 L457.54 260.71 L457.94 263.17 L458.34 265.36 L458.75 267.30 L459.15 269.09 L459.56 270.80 L459.96 272.49 L460.36 274.17 L460.77 275.81 L461.17 277.38 L461.58 278.86 L461.98 280.26 L462.38 281.61 L462.79 282.91 L463.19 284.14 L463.60 285.30 L464.00 286.39 L464.40 287.43 L464.81 288.43 L465.21 289.37 L465.62 290.26 L466.02 291.11 L466.42 291.91 L466.83 292.67 L467.23 293.41 L467.64 294.11 L468.04 294.77 L468.44 295.38 L468.85 295.95 L469.25 296.48 L469.66 297.00 L470.06 297.49 L470.46 297.97 L470.87 298.43 L471.27 298.87 L471.68 299.30 L472.08 299.72 L472.48 300.12 L472.89 300.50 L473.29 300.88 L473.70 301.25 L474.10 301.60 L474.50 301.95 L474.91 302.30 L475.31 302.63 L475.72 302.96 L476.12 303.28 L476.52 303.59 L476.93 303.89 L477.33 304.18 L477.74 304.47 L478.14 304.74 L478.54 305.01 L478.95 305.27 L479.35 305.52 L479.76 305.76 L480.16 305.99 L480.56 306.21 L480.97 306.43 L481.37 306.65 L481.78 306.85 L482.18 307.05 L482.58 307.24 L482.99 307.43 L483.39 307.60 L483.80 307.77 L484.20 307.92" fill="none" stroke="#ea481a" stroke-width="1.55" stroke-linejoin="round" clip-path="url(#clip323)"/>
<rect x="323.00" y="192.30" width="161.20" height="129.60" fill="none" stroke="#0c0c0c" stroke-width="1.4"/>
<line x1="320.00" y1="318.49" x2="323.00" y2="318.49" stroke="#111" stroke-width="1.1"/>
<text transform="translate(318.80 320.79) scale(1 1.170)" font-size="8.35" text-anchor="end" stroke-width="0.42">0</text>
<line x1="320.00" y1="286.94" x2="323.00" y2="286.94" stroke="#111" stroke-width="1.1"/>
<text transform="translate(318.80 289.24) scale(1 1.170)" font-size="8.35" text-anchor="end" stroke-width="0.42">200</text>
<line x1="320.00" y1="255.40" x2="323.00" y2="255.40" stroke="#111" stroke-width="1.1"/>
<text transform="translate(318.80 257.69) scale(1 1.170)" font-size="8.35" text-anchor="end" stroke-width="0.42">400</text>
<line x1="320.00" y1="223.85" x2="323.00" y2="223.85" stroke="#111" stroke-width="1.1"/>
<text transform="translate(318.80 226.15) scale(1 1.170)" font-size="8.35" text-anchor="end" stroke-width="0.42">600</text>
<line x1="320.00" y1="192.30" x2="323.00" y2="192.30" stroke="#111" stroke-width="1.1"/>
<text transform="translate(318.80 194.60) scale(1 1.170)" font-size="8.35" text-anchor="end" stroke-width="0.42">800</text>
<line x1="323.00" y1="321.90" x2="323.00" y2="324.70" stroke="#111" stroke-width="1.1"/>
<text transform="translate(323.00 332.80) scale(1 1.170)" font-size="8.35" text-anchor="middle" stroke-width="0.42">1050</text>
<line x1="355.24" y1="321.90" x2="355.24" y2="324.70" stroke="#111" stroke-width="1.1"/>
<text transform="translate(355.24 332.80) scale(1 1.170)" font-size="8.35" text-anchor="middle" stroke-width="0.42">1150</text>
<line x1="387.48" y1="321.90" x2="387.48" y2="324.70" stroke="#111" stroke-width="1.1"/>
<text transform="translate(387.48 332.80) scale(1 1.170)" font-size="8.35" text-anchor="middle" stroke-width="0.42">1250</text>
<line x1="419.72" y1="321.90" x2="419.72" y2="324.70" stroke="#111" stroke-width="1.1"/>
<text transform="translate(419.72 332.80) scale(1 1.170)" font-size="8.35" text-anchor="middle" stroke-width="0.42">1350</text>
<line x1="451.96" y1="321.90" x2="451.96" y2="324.70" stroke="#111" stroke-width="1.1"/>
<text transform="translate(451.96 332.80) scale(1 1.170)" font-size="8.35" text-anchor="middle" stroke-width="0.42">1450</text>
<line x1="484.20" y1="321.90" x2="484.20" y2="324.70" stroke="#111" stroke-width="1.1"/>
<text transform="translate(484.20 332.80) scale(1 1.170)" font-size="8.35" text-anchor="middle" stroke-width="0.42">1550</text>
<text x="403.60" y="346.50" font-size="11.00" text-anchor="middle">Wavelength (nm)</text>
<text transform="translate(299.30 256.60) rotate(-90)" font-size="11.00" text-anchor="middle">Magnetic Purcell factor</text>
<text x="271.80" y="189.30" font-size="16.80" text-anchor="start">(d)</text>
<line x1="369.20" y1="220.90" x2="388.00" y2="220.90" stroke="#2442cc" stroke-width="1.50" stroke-dasharray="4.2 3.0"/>
<text x="391.70" y="223.60" font-size="8.35" text-anchor="start">Nanorings</text>
<line x1="369.20" y1="231.10" x2="390.00" y2="231.10" stroke="#ea481a" stroke-width="1.55"/>
<text x="391.70" y="234.00" font-size="8.35" text-anchor="start">Hybrid</text>
</g>
</svg>
</body></html>
